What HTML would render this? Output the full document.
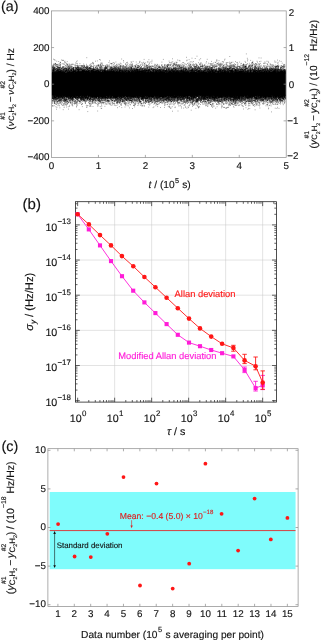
<!DOCTYPE html>
<html lang="en"><head><meta charset="utf-8"><title>Figure</title>
<style>html,body{margin:0;padding:0;background:#fff;overflow:hidden}svg{display:block}text{font-family:"Liberation Sans", sans-serif;text-rendering:geometricPrecision;stroke:#111;stroke-width:0.14px;paint-order:stroke}</style></head>
<body>
<svg width="321" height="640" viewBox="0 0 321 640">
<rect width="321" height="640" fill="#fff"/>
<!-- panel a -->
<text x="1" y="11" font-size="14.3" text-anchor="start" fill="#111">(a)</text>
<g id="scatter-a">
<rect x="51.8" y="72.8" width="234.1" height="22.8" fill="#000"/>
<path transform="scale(0.1)" stroke="#000" stroke-opacity="0.5" stroke-width="8" fill="none" d="M1702 730h8M2371 720h8M2311 731h8M1449 970h8M2737 732h8M2746 622h8M2052 1057h8M1817 996h8M2611 997h8M2152 703h8M561 716h8M1559 957h8M844 1002h8M1958 679h8M577 707h8M1186 989h8M1741 711h8M2664 723h8M1696 999h8M2768 728h8M1064 952h8M1561 694h8M2539 714h8M1475 694h8M1663 956h8M1917 957h8M1694 953h8M2835 729h8M995 702h8M851 1031h8M2135 986h8M2597 1003h8M2431 729h8M1594 960h8M2218 1062h8M2507 994h8M2115 960h8M2503 716h8M2341 985h8M586 988h8M1791 660h8M1842 731h8M546 998h8M1180 677h8M1630 707h8M714 959h8M912 710h8M1479 722h8M2460 733h8M1669 1019h8M589 1009h8M1308 685h8M2736 713h8M1036 724h8M2349 975h8M2755 677h8M2801 965h8M2027 964h8M2757 981h8M1072 963h8M1416 1000h8M1985 714h8M2452 680h8M1833 957h8M1833 625h8M1684 706h8M1274 954h8M1110 1013h8M2257 959h8M1689 958h8M1155 989h8M1224 701h8M1315 669h8M883 955h8M2283 723h8M1042 703h8M729 992h8M1817 713h8M2839 977h8M1351 955h8M2522 696h8M2477 708h8M1131 721h8M2390 692h8M1062 721h8M1780 697h8M901 988h8M1436 732h8M2003 1005h8M1466 1006h8M948 1005h8M2466 954h8M1329 1001h8M2447 731h8M1857 972h8M1813 711h8M1578 956h8M1232 605h8M1600 996h8M2639 727h8M2656 1017h8M2297 965h8M1057 952h8M2827 697h8M2127 971h8M2204 969h8M795 713h8M2814 729h8M2730 975h8M1574 979h8M1619 983h8M2095 732h8M1301 727h8M737 962h8M649 682h8M1962 643h8M1512 689h8M543 985h8M2568 1013h8M1856 1020h8M1794 960h8M2627 981h8M2788 972h8M2098 983h8M2398 731h8M1940 960h8M1413 725h8M2551 956h8M597 675h8M1464 704h8M1845 718h8M1826 982h8M2166 661h8M752 654h8M2212 955h8M2068 971h8M1054 686h8M1446 711h8M1490 964h8M1528 717h8M1031 952h8M2275 703h8M2150 957h8M2204 960h8M1773 978h8M1103 709h8M1595 707h8M1792 718h8M1827 722h8M668 956h8M2183 974h8M1248 974h8M2781 964h8M2333 649h8M1698 989h8M1209 971h8M1722 721h8M1785 963h8M1018 692h8M1190 705h8M1102 713h8M1558 721h8M2820 966h8M743 968h8M938 956h8M1158 731h8M2750 1033h8M2141 731h8M1321 958h8M1899 708h8M1276 979h8M1294 960h8M1281 706h8M1154 964h8M819 996h8M1774 973h8M1811 705h8M2758 977h8M1036 725h8M1333 717h8M2846 730h8M694 723h8M1097 996h8M1132 705h8M2212 956h8M2497 966h8M2640 973h8M1063 733h8M1858 720h8M2321 954h8M684 706h8M2018 971h8M2669 963h8M2815 962h8M2366 728h8M1075 980h8M1097 1032h8M1973 723h8M536 997h8M1152 730h8M2396 964h8M1426 988h8M1989 701h8M1529 964h8M2050 700h8M1205 662h8M1328 703h8M1030 706h8M1479 712h8M1001 645h8M1609 962h8M2486 1053h8M1631 966h8M1128 960h8M1748 967h8M1445 985h8M2569 1005h8M2281 709h8M2565 714h8M1899 958h8M609 686h8M2281 988h8M1031 956h8M1537 722h8M1546 697h8M659 708h8M968 953h8M1653 953h8M2178 719h8M1704 990h8M2223 705h8M1387 974h8M2583 667h8M2742 662h8M1929 975h8M1374 715h8M1805 1013h8M2207 699h8M1867 719h8M2322 703h8M1454 726h8M2788 713h8M2015 959h8M2142 651h8M767 733h8M2655 711h8M630 966h8M722 1018h8M1369 978h8M2206 964h8M1039 729h8M2675 967h8M2142 1009h8M1623 719h8M2161 952h8M832 987h8M1158 690h8M864 715h8M1908 718h8M2135 969h8M2560 972h8M2457 686h8M1339 661h8M1780 710h8M2135 692h8M1159 726h8M2353 713h8M1738 674h8M716 718h8M1811 677h8M1165 955h8M2075 671h8M974 1001h8M1155 969h8M2614 973h8M1621 727h8M2157 707h8M2348 1052h8M1684 729h8M2050 981h8M2636 729h8M2200 653h8M2801 962h8M1317 733h8M2399 989h8M778 697h8M2569 727h8M1875 957h8M1758 648h8M2205 721h8M1758 697h8M787 957h8M1087 958h8M1897 675h8M1561 715h8M907 724h8M2402 717h8M853 723h8M1563 686h8M1702 960h8M1150 713h8M2044 952h8M543 730h8M733 958h8M907 959h8M1461 702h8M2472 688h8M564 1044h8M600 717h8M2819 727h8M789 966h8M997 727h8M588 674h8M765 957h8M1337 987h8M1388 990h8M2847 725h8M1067 722h8M1420 729h8M1685 962h8M2836 977h8M910 971h8M2455 725h8M2343 969h8M1535 1042h8M2259 987h8M749 705h8M967 718h8M846 712h8M2652 975h8M1480 952h8M2552 694h8M1786 976h8M2083 1009h8M1119 961h8M1285 988h8M1620 678h8M2743 979h8M2409 715h8M1185 960h8M1014 971h8M1986 972h8M1569 960h8M2710 702h8M1855 728h8M1351 701h8M2786 969h8M905 953h8M1187 696h8M2280 725h8M2301 1005h8M670 952h8M999 953h8M2768 694h8M1398 973h8M2848 953h8M1125 955h8M1455 659h8M2571 952h8M1658 1019h8M2718 723h8M2018 724h8M2512 709h8M2369 732h8M2433 706h8M1729 718h8M1017 1008h8M2424 648h8M1128 956h8M1787 953h8M1736 1016h8M1316 688h8M1355 961h8M1232 954h8M1792 731h8M659 686h8M832 714h8M1495 969h8M2320 725h8M1274 733h8M1291 649h8M1017 964h8M1759 700h8M1986 981h8M2747 692h8M2653 955h8M1156 956h8M1422 955h8M2795 696h8M1643 730h8M648 710h8M1191 953h8M2736 984h8M2604 703h8M1527 722h8M872 986h8M2308 715h8M577 707h8M2815 960h8M1818 717h8M1111 971h8M1008 955h8M1059 969h8M985 952h8M1491 630h8M622 728h8M1201 732h8M803 997h8M2143 725h8M932 667h8M2606 972h8M2435 661h8M2539 957h8M2360 1003h8M2557 982h8M1214 953h8M1097 675h8M1392 719h8M1301 731h8M2443 693h8M1793 661h8M2319 684h8M1489 639h8M944 729h8M1491 706h8M1009 726h8M2633 1013h8M2417 719h8M2587 973h8M1519 964h8M1191 953h8M2783 717h8M1787 706h8M1741 715h8M685 960h8M1437 728h8M2177 983h8M2065 978h8M2486 971h8M1013 970h8M2517 709h8M2180 960h8M2797 713h8M1671 722h8M2204 728h8M802 1002h8M935 1007h8M1821 730h8M524 963h8M681 974h8M2407 698h8M2343 692h8M2795 969h8M2613 1014h8M2776 1039h8M2782 666h8M1823 957h8M1943 707h8M2581 973h8M583 725h8M1596 730h8M816 704h8M2376 988h8M878 983h8M2307 978h8M2259 1032h8M1621 690h8M1731 996h8M1053 1017h8M1568 958h8M819 961h8M2666 637h8M1688 732h8M559 721h8M2178 719h8M1550 725h8M1454 729h8M1761 965h8M2202 639h8M747 699h8M2758 728h8M2532 955h8M772 714h8M2793 693h8M872 985h8M832 731h8M2005 704h8M689 697h8M609 725h8M1462 957h8M1619 713h8M2050 964h8M1574 978h8M1537 998h8M1579 954h8M1476 1001h8M1526 954h8M2358 707h8M637 957h8M1317 663h8M766 723h8M1007 671h8M2712 1017h8M1390 954h8M1204 957h8M1274 708h8M2492 730h8M2327 721h8M1932 616h8M2267 671h8M1883 1006h8M631 691h8M991 732h8M1742 728h8M1689 708h8M2607 580h8M1006 998h8M985 731h8M779 730h8M1771 951h8M2251 721h8M1556 973h8M2277 687h8M2431 719h8M2296 664h8M2700 699h8M2467 723h8M643 724h8M2257 996h8M578 716h8M1048 716h8M2176 959h8M1733 720h8M1007 703h8M1032 951h8M1866 973h8M2503 604h8M1727 673h8M1253 985h8M558 731h8M705 983h8M1143 1016h8M2753 651h8M1735 956h8M1462 706h8M796 995h8M2623 981h8M899 672h8M1563 992h8M2771 951h8M909 993h8M2126 979h8M912 968h8M1933 965h8M1736 1049h8M1341 1008h8M1160 719h8M2521 958h8M1061 725h8M927 952h8M2328 727h8M1000 707h8M2607 726h8M1340 967h8M1615 968h8M873 728h8M1257 962h8M1137 720h8M1135 998h8M1470 709h8M2445 956h8M846 718h8M1706 954h8M729 691h8M1602 691h8M2061 730h8M2658 960h8M2778 983h8M2136 721h8M2740 717h8M2434 690h8M683 667h8M1333 954h8M1798 724h8M2677 996h8M2245 658h8M575 713h8M646 693h8M2780 980h8M1072 983h8M916 732h8M1314 967h8M2195 958h8M614 963h8M921 726h8M1718 726h8M2257 647h8M2652 710h8M1607 717h8M1555 976h8M1921 701h8M2729 991h8M1936 733h8M1020 673h8M2530 960h8M2716 725h8M1336 955h8M2540 1006h8M2527 726h8M700 977h8M2831 965h8M1156 732h8M2153 965h8M2254 994h8M2372 959h8M1780 1027h8M1693 732h8M2411 999h8M2038 978h8M1559 975h8M1286 960h8M2603 733h8M2183 962h8M1693 995h8M810 965h8M651 717h8M841 658h8M1768 708h8M1449 722h8M550 988h8M815 959h8M2263 651h8M1394 722h8M1490 693h8M1003 1001h8M1381 722h8M739 958h8M1693 953h8M1429 726h8M2258 733h8M2210 974h8M1347 957h8M1446 990h8M2407 987h8M2719 727h8M999 677h8M1560 718h8M945 721h8M1773 982h8M1649 714h8M2463 1017h8M1958 726h8M1194 975h8M1359 730h8M1368 967h8M2427 981h8M2403 958h8M2422 976h8M2244 693h8M847 957h8M1965 712h8M1107 723h8M2230 704h8M1476 709h8M2545 660h8M1352 951h8M859 973h8M2153 703h8M2156 990h8M1706 1012h8M1806 725h8M2616 955h8M2220 967h8M2614 712h8M578 1012h8M2420 961h8M1445 975h8M780 723h8M1201 1010h8M672 645h8M1956 703h8M2390 952h8M1226 731h8M2317 1039h8M695 711h8M2249 985h8M1639 1037h8M2537 994h8M668 694h8M2584 972h8M2304 678h8M2339 1048h8M1453 718h8M1064 704h8M2274 687h8M2431 962h8M1686 956h8M1310 1005h8M788 951h8M523 1010h8M2151 717h8M2414 960h8M1853 958h8M1770 652h8M757 959h8M1851 706h8M2551 992h8M1910 970h8M2144 703h8M2615 729h8M2558 718h8M1943 966h8M901 954h8M2623 964h8M1635 713h8M2752 965h8M1553 709h8M985 952h8M1881 952h8M1799 706h8M2376 959h8M1327 964h8M887 729h8M1182 957h8M2325 964h8M716 980h8M2670 981h8M2692 727h8M642 723h8M1033 658h8M1430 726h8M580 975h8M2343 973h8M663 959h8M1383 723h8M2597 978h8M778 982h8M2203 964h8M1893 715h8M792 975h8M2497 721h8M528 707h8M2467 966h8M1182 981h8M555 953h8M2102 952h8M1728 971h8M2548 655h8M524 731h8M2138 725h8M2446 715h8M803 720h8M2253 723h8M1376 677h8M1617 963h8M1214 693h8M1358 1009h8M1645 959h8M1856 707h8M2599 705h8M2052 679h8M935 692h8M665 992h8M2489 974h8M1477 733h8M2356 990h8M2159 732h8M2385 952h8M1483 956h8M1149 960h8M2306 959h8M2413 986h8M1896 979h8M853 971h8M1853 680h8M2221 671h8M2846 728h8M629 667h8M2172 971h8M1724 1009h8M2155 951h8M2408 959h8M2521 715h8M2445 647h8M2641 961h8M644 1020h8M1759 731h8M1864 962h8M2233 728h8M1179 1026h8M1799 956h8M2218 712h8M2443 956h8M1562 955h8M2301 989h8M2624 729h8M1627 959h8M2286 727h8M820 707h8M801 676h8M678 1067h8M1704 961h8M1660 705h8M2490 1037h8M2470 964h8M1869 963h8M794 730h8M1845 1019h8M871 961h8M1138 975h8M1315 728h8M544 682h8M2704 732h8M958 729h8M1181 702h8M1464 978h8M1349 688h8M1040 955h8M873 688h8M1806 715h8M717 952h8M1657 733h8M2429 959h8M1505 711h8M2580 975h8M2278 1037h8M1249 989h8M1244 951h8M1647 965h8M2800 973h8M943 959h8M2263 971h8M2628 732h8M2300 997h8M2291 958h8M628 1097h8M1244 951h8M1430 685h8M1758 727h8M1379 731h8M1746 708h8M1155 717h8M1553 709h8M570 963h8M1746 979h8M1205 712h8M2744 998h8M878 665h8M1971 952h8M590 696h8M1122 722h8M600 956h8M1998 721h8M2378 727h8M1029 975h8M1871 730h8M974 954h8M2470 969h8M1279 723h8M2788 981h8M535 731h8M2644 954h8M632 712h8M1176 700h8M962 974h8M2417 1002h8M2588 981h8M2238 729h8M2698 730h8M2841 715h8M1199 684h8M2503 680h8M2781 721h8M761 686h8M1975 989h8M917 1022h8M1903 711h8M1480 1021h8M897 677h8M2521 987h8M1456 1020h8M2413 988h8M1743 704h8M1098 728h8M1338 655h8M2087 984h8M1875 960h8M2434 708h8M737 701h8M581 967h8M2662 980h8M1775 709h8M2366 994h8M2576 984h8M1215 717h8M688 730h8M2288 722h8M2461 969h8M949 714h8M927 959h8M2763 988h8M1627 1002h8M2714 683h8M2132 729h8M1290 978h8M2612 731h8M1820 995h8M1351 963h8M1702 645h8M1925 955h8M2624 702h8M2135 696h8M2543 717h8M979 967h8M737 720h8M1354 963h8M1559 680h8M2840 969h8M964 955h8M1947 962h8M1802 969h8M1192 955h8M1235 973h8M2500 686h8M2150 708h8M2549 984h8M1881 953h8M2672 698h8M815 686h8M1455 954h8M1297 718h8M1933 1018h8M1399 722h8M2195 964h8M1900 962h8M1147 726h8M919 1032h8M1905 1026h8M2293 660h8M901 700h8M2483 703h8M2357 729h8M1965 990h8M2015 954h8M1787 997h8M2402 724h8M2771 713h8M905 731h8M901 705h8M1550 716h8M1712 723h8M1229 713h8M2141 717h8M2827 661h8M1843 717h8M896 714h8M1864 951h8M2652 974h8M2336 707h8M1807 692h8M1356 1003h8M1875 1022h8M1417 726h8M2804 667h8M755 959h8M1654 958h8M2403 731h8M907 953h8M901 981h8M1687 975h8M1503 1000h8M775 957h8M2538 961h8M1141 635h8M2470 980h8M1764 706h8M1882 1076h8M557 994h8M543 956h8M1475 716h8M1609 716h8M793 729h8M2258 1081h8M1513 1003h8M2138 997h8M2043 708h8M2632 999h8M1750 978h8M2619 986h8M1390 698h8M2529 728h8M1596 954h8M2131 658h8M2396 702h8M2106 721h8M2386 962h8M965 719h8M1875 977h8M2264 732h8M2709 709h8M2504 686h8M1553 975h8M2743 731h8M2610 693h8M2274 967h8M1273 694h8M2851 732h8M743 961h8M756 732h8M2075 1003h8M2589 1006h8M2843 972h8M1700 652h8M1101 731h8M1395 954h8M1368 714h8M1866 957h8M2407 730h8M2213 639h8M1532 728h8M560 956h8M1389 998h8M979 990h8M1597 732h8M2055 986h8M2129 719h8M1741 701h8M1077 725h8M1853 666h8M2582 961h8M1277 984h8M2154 1004h8M900 641h8M1046 713h8M710 733h8M1156 1005h8M768 974h8M1052 961h8M2144 959h8M685 692h8M2804 995h8M773 956h8M919 956h8M2562 731h8M1614 957h8M2180 990h8M2611 712h8M844 690h8M1015 725h8M1539 954h8M1047 966h8M1474 701h8M1988 718h8M1010 1038h8M1379 731h8M1903 970h8M799 695h8M2270 702h8M1360 1003h8M2792 952h8M2330 956h8M1091 715h8M1836 724h8M1474 724h8M2507 717h8M2484 957h8M2533 712h8M693 730h8M1099 964h8M2416 978h8M2673 730h8M666 710h8M2671 707h8M1338 712h8M2308 728h8M2571 708h8M2543 1063h8M1068 951h8M1375 965h8M2199 968h8M1851 727h8M2697 712h8M1960 720h8M1127 961h8M1364 719h8M696 691h8M884 1004h8M1202 702h8M1956 1010h8M1266 961h8M1479 701h8M578 1018h8M2544 979h8M521 964h8M565 706h8M1999 716h8M921 1009h8M2513 1033h8M2794 723h8M704 727h8M1761 958h8M1165 967h8M679 731h8M1567 1011h8M1934 955h8M1571 686h8M680 963h8M2125 725h8M2562 991h8M2470 952h8M2595 986h8M1979 712h8M1007 977h8M1067 732h8M1198 631h8M2737 732h8M1189 954h8M1563 732h8M1213 954h8M1322 964h8M1664 718h8M2329 983h8M2365 1031h8M2080 718h8M1775 713h8M1434 1004h8M1832 683h8M1727 958h8M2748 733h8M618 975h8M614 705h8M1837 952h8M975 727h8M1491 692h8M1492 957h8M1271 703h8M942 963h8M2565 953h8M1264 1040h8M2534 698h8M710 1029h8M1071 959h8M715 716h8M2696 730h8M978 722h8M2369 699h8M2070 726h8M919 975h8M825 722h8M2551 723h8M2271 691h8M2276 985h8M1436 725h8M2097 714h8M1851 968h8M929 703h8M2247 725h8M830 712h8M2789 972h8M1867 975h8M871 694h8M1571 998h8M635 995h8M699 977h8M1496 712h8M2343 994h8M1644 645h8M2375 698h8M2440 725h8M819 987h8M1540 643h8M2575 1002h8M2110 733h8M1054 975h8M2297 981h8M992 1031h8M1183 715h8M2169 956h8M1645 993h8M2787 961h8M524 952h8M2524 729h8M843 1010h8M2841 968h8M2714 973h8M1331 729h8M1155 709h8M1269 969h8M2264 953h8M1310 1009h8M1364 714h8M2028 720h8M2231 964h8M1400 709h8M2236 993h8M726 732h8M2155 963h8M1285 714h8M1827 728h8M2185 700h8M2554 1026h8M1844 638h8M979 729h8M814 691h8M605 953h8M2192 1016h8M1006 987h8M2029 956h8M633 670h8M2045 974h8M543 999h8M1801 977h8M2021 730h8M2077 730h8M1667 1045h8M647 985h8M2579 974h8M2661 962h8M894 994h8M2356 730h8M578 722h8M1902 960h8M2150 1000h8M1280 717h8M773 690h8M1028 979h8M1879 715h8M2535 960h8M601 971h8M1134 991h8M2123 709h8M2423 1000h8M1541 966h8M2031 966h8M626 961h8M1993 990h8M2815 727h8M1521 1014h8M2099 962h8M1415 965h8M702 958h8M2430 642h8M2134 956h8M1263 680h8M747 682h8M1071 730h8M2725 730h8M1713 727h8M1988 1036h8M1358 1019h8M1806 718h8M1746 965h8M2185 725h8M1589 729h8M2567 729h8M1970 726h8M1355 705h8M2573 715h8M1549 966h8M2264 704h8M928 1000h8M1276 969h8M952 718h8M1637 720h8M1013 1085h8M1016 965h8M1411 718h8M689 982h8M2799 713h8M2587 958h8M2445 656h8M877 976h8M1845 1053h8M1074 732h8M1796 732h8M2089 660h8M521 726h8M965 724h8M1259 702h8M1672 989h8M2042 963h8M838 725h8M1837 719h8M915 690h8M2459 711h8M1902 962h8M2812 711h8M1993 643h8M698 728h8M1144 733h8M2255 984h8M2021 1027h8M1136 726h8M2672 955h8M1265 965h8M584 1002h8M2802 973h8M985 724h8M791 1021h8M1644 685h8M2169 984h8M1216 954h8M673 973h8M912 953h8M1809 1067h8M2759 966h8M2567 992h8M2086 975h8M1422 655h8M2590 987h8M2072 973h8M2361 1026h8M1450 702h8M2159 974h8M2710 989h8M1327 685h8M1330 708h8M658 688h8M662 982h8M720 730h8M683 958h8M2130 717h8M2512 632h8M1431 1031h8M1453 979h8M1679 988h8M795 654h8M2105 675h8M1138 955h8M2297 1000h8M1314 983h8M2331 1064h8M1000 600h8M2634 958h8M681 725h8M2824 959h8M1578 722h8M1132 731h8M1806 970h8M1161 975h8M2786 730h8M922 1006h8M1064 960h8M1381 953h8M1770 701h8M2325 622h8M1742 683h8M1153 953h8M629 727h8M919 976h8M2687 695h8M2124 663h8M961 662h8M2080 985h8M1779 727h8M2608 961h8M1771 1037h8M1682 651h8M2556 975h8M1392 732h8M2721 1025h8M987 692h8M2059 721h8M1718 659h8M1189 716h8M1192 719h8M731 707h8M1347 717h8M2079 993h8M1788 655h8M2125 705h8M2350 993h8M896 646h8M723 973h8M2163 1043h8M1326 967h8M2348 1040h8M2579 953h8M1156 964h8M2462 978h8M1047 972h8M538 961h8M1998 998h8M652 718h8M2352 970h8M889 715h8M2101 718h8M1069 701h8M1733 685h8M2563 700h8M1266 1002h8M583 615h8M1305 953h8M2826 957h8M2026 682h8M2356 998h8M1752 700h8M971 978h8M572 959h8M811 708h8M753 723h8M1225 969h8M1949 663h8M1899 719h8M1177 954h8M2506 698h8M2445 697h8M1114 723h8M2763 1009h8M529 1004h8M1205 664h8M1352 977h8M2353 727h8M2558 709h8M562 960h8M1792 712h8M1693 957h8M1205 1043h8M2349 702h8M2237 954h8M1597 675h8M918 953h8M1316 708h8M758 727h8M2538 714h8M2466 712h8M1387 961h8M691 676h8M1092 701h8M2754 960h8M528 687h8M1117 707h8M1209 984h8M2406 731h8M1919 694h8M932 961h8M1878 709h8M2732 729h8M728 733h8M2002 703h8M988 989h8M2022 952h8M1690 978h8M2072 705h8M1861 715h8M1919 708h8M2539 732h8M726 1006h8M2032 1041h8M1273 975h8M1909 729h8M1721 952h8M1156 966h8M1939 692h8M2027 708h8M761 728h8M2533 731h8M2532 703h8M1165 724h8M1558 988h8M2688 711h8M1247 961h8M759 1038h8M2162 717h8M1090 952h8M938 729h8M1490 688h8M2742 721h8M1588 1012h8M1393 727h8M1909 699h8M1112 685h8M1730 662h8M1415 994h8M917 710h8M1701 714h8M2618 952h8M1165 952h8M1487 977h8M983 710h8M2645 1017h8M2129 726h8M1476 704h8M1522 704h8M2662 680h8M1832 693h8M691 972h8M2700 725h8M2549 1002h8M2414 680h8M577 719h8M2277 728h8M1743 971h8M667 983h8M1944 692h8M1080 1004h8M591 732h8M2748 1082h8M952 972h8M1030 962h8M2614 987h8M1183 691h8M543 681h8M1935 981h8M1352 719h8M2423 980h8M1049 721h8M2285 959h8M2451 972h8M1025 722h8M1742 694h8M1053 964h8M603 682h8M1297 730h8M1442 697h8M959 702h8M1748 1016h8M895 967h8M1191 714h8M2293 682h8M2176 977h8M843 706h8M1708 959h8M730 697h8M1335 964h8M1793 966h8M933 973h8M791 723h8M2803 965h8M1289 714h8M1182 962h8M1242 952h8M632 720h8M1306 965h8M1932 983h8M548 975h8M1785 1025h8M2393 710h8M737 695h8M2325 713h8M2644 971h8M2123 972h8M1688 658h8M1565 984h8M2283 695h8M2828 726h8M2791 703h8M784 955h8M1928 638h8M921 700h8M890 992h8M1814 964h8M2237 716h8M813 680h8M754 704h8M2666 658h8M2727 1013h8M1427 962h8M2820 726h8M755 952h8M2707 1023h8M2746 720h8M1477 1003h8M1372 676h8M2540 718h8M1393 732h8M2009 726h8M1940 990h8M2276 659h8M2632 959h8M2560 984h8M923 969h8M2775 727h8M1454 958h8M1937 975h8M2420 961h8M1856 952h8M1791 686h8M968 965h8M1160 729h8M2821 702h8M2645 619h8M2100 979h8M1925 976h8M723 989h8M1073 990h8M2324 951h8M2414 706h8M2053 963h8M2668 990h8M1408 712h8M1552 644h8M2740 693h8M2607 724h8M1112 716h8M2562 982h8M1900 648h8M939 721h8M1338 970h8M2516 960h8M1212 973h8M2040 1012h8M1110 960h8M2735 974h8M2225 706h8M2547 1098h8M2502 964h8M2808 726h8M2291 991h8M1662 988h8M1741 994h8M1647 721h8M2703 958h8M2735 706h8M2843 962h8M1606 707h8M919 966h8M2622 1001h8M822 690h8M1406 671h8M1002 729h8M1086 729h8M2749 985h8M2624 959h8M790 693h8M1875 1008h8M707 661h8M1191 713h8M2225 696h8M1601 700h8M575 1035h8M1907 988h8M1130 974h8M1714 974h8M868 1007h8M556 958h8M1818 1015h8M1072 951h8M666 969h8M1490 972h8M2808 708h8M2790 1003h8M2730 712h8M2785 977h8M1504 954h8M2455 695h8M1291 710h8M1685 991h8M1569 1013h8M1409 704h8M746 972h8M2261 641h8M1544 699h8M1073 977h8M821 997h8M1697 693h8M2390 991h8M1729 975h8M2619 689h8M1600 957h8M1654 989h8M1854 642h8M1870 717h8M1421 981h8M660 994h8M2637 996h8M1129 681h8M2759 965h8M1680 694h8M1007 701h8M856 979h8M2736 716h8M944 961h8M1669 974h8M1107 701h8M736 686h8M1174 993h8M2220 962h8M2643 660h8M2017 664h8M2386 971h8M1941 954h8M706 725h8M1757 716h8M1336 726h8M1047 972h8M2659 991h8M903 717h8M553 725h8M2302 683h8M706 699h8M1509 673h8M2009 977h8M2405 693h8M2426 699h8M753 707h8M1003 706h8M2216 728h8M1618 661h8M2458 679h8M958 958h8M1167 961h8M1999 720h8M2103 712h8M1863 980h8M876 963h8M1253 981h8M1975 727h8M2835 733h8M1481 701h8M2150 664h8M1930 997h8M932 972h8M1254 959h8M911 719h8M2825 682h8M1102 977h8M722 985h8M1372 695h8M557 981h8M2715 658h8M734 726h8M944 725h8M2365 707h8M2325 690h8M1499 706h8M2292 685h8M1779 1028h8M2374 717h8M1334 974h8M2056 1014h8M1071 961h8M1720 715h8M2188 953h8M1951 723h8M1137 961h8M2767 960h8M1982 1079h8M2292 987h8M589 967h8M644 994h8M1899 997h8M1004 955h8M814 700h8M1091 704h8M2008 724h8M2585 717h8M1445 723h8M2677 727h8M1417 708h8M1595 703h8M1466 731h8M2847 714h8M1419 982h8M1654 976h8M1483 966h8M1438 1064h8M673 689h8M1267 961h8M1917 986h8M1681 1030h8M1729 711h8M903 1031h8M2403 703h8M2801 982h8M1140 962h8M1651 994h8M2454 1028h8M2826 993h8M936 724h8M1003 694h8M596 697h8M2273 688h8M2559 733h8M1279 704h8M2250 968h8M1562 1037h8M2172 958h8M1157 675h8M2180 970h8M732 716h8M1061 952h8M642 952h8M2482 964h8M1142 732h8M2519 968h8M1981 662h8M2628 971h8M1674 954h8M635 1038h8M534 707h8M2234 1032h8M1778 702h8M2016 960h8M2835 995h8M1323 710h8M1001 724h8M2635 728h8M742 964h8M1589 714h8M2585 981h8M2005 991h8M547 694h8M2239 708h8M2774 717h8M1758 677h8M2424 1056h8M2704 729h8M2545 970h8M2410 960h8M803 974h8M1362 703h8M1280 995h8M923 624h8M1990 724h8M2739 1001h8M677 711h8M2278 730h8M2065 952h8M1479 705h8M647 980h8M695 973h8M1575 976h8M839 722h8M1811 976h8M2165 957h8M2193 731h8M2573 970h8M882 729h8M1407 709h8M1764 972h8M2595 972h8M1400 1032h8M1693 958h8M974 1027h8M1775 689h8M2286 962h8M2301 729h8M1016 1028h8M1191 715h8M2598 692h8M709 984h8M1824 695h8M1513 732h8M770 733h8M1638 704h8M1460 684h8M2547 664h8M2306 958h8M1223 730h8M2599 706h8M2533 955h8M2551 1017h8M1105 724h8M525 994h8M1008 988h8M617 956h8M2470 959h8M1360 694h8M2759 991h8M776 724h8M2205 691h8M1997 718h8M951 1006h8M1047 961h8M1477 982h8M1090 723h8M723 721h8M1752 971h8M2691 1009h8M1962 1016h8M2410 996h8M1610 986h8M2720 1014h8M2748 686h8M2149 667h8M1355 720h8M2705 981h8M999 1021h8M2100 989h8M886 956h8M1646 962h8M594 957h8M2406 972h8M640 968h8M2050 984h8M2331 1020h8M1615 621h8M1083 716h8M1385 957h8M1515 700h8M608 684h8M2118 976h8M701 958h8M1755 971h8M1070 961h8M2828 726h8M1789 704h8M2505 962h8M1991 713h8M1216 695h8M1774 990h8M2084 1003h8M2494 677h8M1066 715h8M955 969h8M2596 975h8M1019 980h8M2790 704h8M2334 953h8M2469 956h8M698 960h8M2611 982h8M1678 690h8M1427 1052h8M2654 686h8M1530 1018h8M557 980h8M2216 719h8M2158 724h8M2691 964h8M1078 719h8M2402 1002h8M2759 696h8M1604 729h8M2241 600h8M1469 958h8M981 717h8M1538 1000h8M1304 1000h8M2633 701h8M2736 731h8M1477 727h8M2229 998h8M873 675h8M2653 1021h8M1223 703h8M1496 967h8M1913 966h8M2131 706h8M1162 975h8M2254 667h8M883 711h8M2655 710h8M676 693h8M2154 964h8M1500 978h8M1455 1015h8M694 981h8M2372 979h8M1338 994h8M2503 681h8M776 955h8M2674 971h8M2074 955h8M1052 703h8M2213 703h8M1733 713h8M1677 1014h8M1252 974h8M2019 732h8M2750 729h8M1901 730h8M1693 717h8M1563 730h8M1431 967h8M1541 984h8M2527 1004h8M2394 969h8M625 957h8M2265 953h8M1299 640h8M2749 718h8M860 957h8M1310 719h8M1890 979h8M1189 1066h8M1703 1043h8M1021 962h8M984 978h8M2657 957h8M1119 725h8M1823 728h8M2195 1038h8M2335 719h8M1130 976h8M1616 955h8M2590 1034h8M2094 731h8M952 973h8M920 727h8M846 717h8M1678 725h8M803 977h8M2395 729h8M2551 980h8M661 706h8M1032 986h8M1603 1025h8M2397 713h8M1255 707h8M2087 727h8M2785 953h8M1745 697h8M1054 974h8M2728 675h8M835 715h8M1133 728h8M1526 718h8M1917 964h8M755 713h8M714 962h8M1096 726h8M2389 726h8M2604 969h8M1806 674h8M1106 989h8M2243 669h8M1276 982h8M1768 998h8M1943 965h8M1454 1006h8M706 732h8M1770 703h8M711 690h8M651 960h8M1357 725h8M1958 723h8M2739 970h8M2287 701h8M2363 956h8M2432 724h8M1833 1004h8M2017 955h8M2319 681h8M1129 700h8M2488 679h8M2261 732h8M1665 724h8M1353 973h8M2259 955h8M2388 722h8M1905 701h8M1382 992h8M1221 977h8M1978 953h8M527 985h8M2116 961h8M1883 718h8M1183 714h8M2777 697h8M2675 719h8M695 972h8M2775 975h8M2365 965h8M2075 956h8M1403 714h8M2741 730h8M2841 961h8M2127 671h8M1404 966h8M1952 976h8M809 952h8M561 700h8M2551 722h8M1071 728h8M1163 1005h8M1711 954h8M2640 726h8M2640 704h8M1103 956h8M1960 996h8M575 959h8M1308 719h8M2011 970h8M2145 713h8M2060 973h8M2642 713h8M959 685h8M1267 953h8M2125 655h8M1664 696h8M1773 720h8M1938 690h8M1602 732h8M1619 722h8M2291 961h8M843 990h8M1171 675h8M2150 955h8M1465 725h8M1858 1005h8M1534 951h8M2510 979h8M859 977h8M947 731h8M872 954h8M1164 681h8M2467 1011h8M2508 952h8M2600 967h8M1165 985h8M2690 1055h8M2514 726h8M973 990h8M1769 998h8M1255 692h8M1589 968h8M1164 952h8M2348 991h8M1197 717h8M2641 716h8M601 726h8M1635 969h8M1482 1016h8M1473 730h8M1517 666h8M1315 731h8M1520 700h8M1785 966h8M2240 994h8M723 972h8M1350 663h8M2166 988h8M1765 973h8M693 728h8M833 959h8M1798 986h8M2710 712h8M1190 979h8M927 730h8M663 1047h8M2597 706h8M1788 670h8M1566 665h8M2461 965h8M976 956h8M2374 727h8M1412 951h8M544 713h8M581 723h8M2734 701h8M1880 952h8M860 663h8M789 714h8M1075 979h8M1038 714h8M2429 968h8M2179 710h8M996 698h8M676 957h8M1533 694h8M2555 639h8M797 1015h8M1677 961h8M1596 729h8M1291 970h8M1293 1003h8M838 673h8M1483 724h8M2697 1049h8M2704 721h8M702 682h8M990 727h8M2700 697h8M2628 728h8M1809 662h8M2246 719h8M1079 723h8M2737 1004h8M2463 979h8M1383 976h8M2645 966h8M638 733h8M758 720h8M2691 977h8M1838 966h8M1720 731h8M1471 731h8M2502 704h8M2556 956h8M1839 951h8M1874 711h8M2724 971h8M1335 964h8M1033 698h8M1978 730h8M2350 729h8M1451 727h8M1198 671h8M2599 957h8M2690 726h8M2711 687h8M839 998h8M1927 724h8M633 958h8M1096 973h8M1465 989h8M1965 652h8M1411 665h8M645 960h8M2179 727h8M2417 690h8M1795 688h8M1621 958h8M1469 727h8M1669 982h8M2766 692h8M1181 988h8M1436 969h8M1031 966h8M2277 716h8M2259 969h8M978 965h8M2264 959h8M2779 729h8M2441 727h8M1114 696h8M2733 982h8M2473 728h8M521 720h8M1828 732h8M2519 964h8M2608 721h8M2695 970h8M1668 954h8M1845 1045h8M1638 970h8M2786 965h8M2765 1085h8M2404 726h8M774 673h8M2327 961h8M1394 1015h8M2050 991h8M1956 724h8M1426 970h8M649 966h8M2041 978h8M983 726h8M2573 980h8M2590 956h8M682 720h8M800 962h8M1845 974h8M1757 729h8M1095 971h8M650 1039h8M2009 995h8M575 731h8M1681 717h8M1815 730h8M2143 723h8M1648 707h8M696 727h8M1367 651h8M1947 960h8M1876 1020h8M2295 728h8M2669 705h8M2284 966h8M1534 717h8M2231 951h8M1552 957h8M2026 731h8M1120 725h8M2371 719h8M2639 690h8M1066 956h8M525 1000h8M1434 964h8M1096 714h8M1739 997h8M715 675h8M539 977h8M768 720h8M1392 1009h8M642 960h8M919 732h8M955 703h8M2489 633h8M2242 718h8M761 618h8M1403 679h8M1752 681h8M2359 729h8M2346 1006h8M2382 696h8M1024 968h8M1299 1006h8M1837 706h8M1173 963h8M1523 957h8M1148 964h8M2073 957h8M2354 956h8M2823 719h8M1494 987h8M1534 714h8M2375 998h8M1338 730h8M2486 713h8M2136 663h8M1168 697h8M981 955h8M2641 718h8M1041 725h8M2565 1042h8M715 1050h8M1559 953h8M1059 968h8M1597 955h8M1176 731h8M2494 956h8M1497 729h8M1493 723h8M1286 1000h8M1444 720h8M2165 716h8M1865 1082h8M655 1003h8M1844 960h8M1391 956h8M1196 1020h8M1011 677h8M1238 1005h8M2737 956h8M1647 707h8M589 719h8M2318 965h8M2485 958h8M1812 732h8M1049 958h8M2676 699h8M590 715h8M1650 961h8M1520 959h8M1113 713h8M1478 660h8M1802 1004h8M1445 703h8M2115 720h8M686 681h8M755 681h8M1180 729h8M990 975h8M2849 951h8M1681 958h8M2249 957h8M1272 715h8M2392 969h8M2495 1011h8M1421 728h8M1772 686h8M2168 979h8M1465 960h8M936 988h8M703 976h8M1450 959h8M2061 958h8M877 733h8M521 967h8M578 712h8M2602 729h8M683 981h8M2663 727h8M1579 1037h8M2114 1053h8M1757 732h8M2556 662h8M547 975h8M1940 973h8M1482 967h8M1218 977h8M761 987h8M2478 731h8M2723 696h8M2398 953h8M2704 964h8M1514 954h8M1495 993h8M575 732h8M1788 988h8M2322 705h8M1174 1018h8M746 723h8M2294 955h8M938 717h8M2367 974h8M1081 706h8M1974 702h8M2256 1084h8M2292 662h8M2743 976h8M976 967h8M564 691h8M1598 701h8M2815 959h8M2431 727h8M1260 722h8M1324 725h8M2542 705h8M1850 723h8M547 975h8M577 733h8M1397 987h8M904 952h8M965 700h8M1772 982h8M2501 668h8M1722 719h8M2597 714h8M2148 990h8M1623 725h8M1021 718h8M1728 704h8M2712 691h8M914 981h8M1231 731h8M828 699h8M1728 719h8M668 616h8M973 673h8M638 692h8M1241 953h8M1672 669h8M1386 969h8M1686 990h8M2067 958h8M1510 957h8M1268 687h8M2108 1008h8M2766 713h8M546 959h8M804 710h8M2004 721h8M1276 680h8M2723 986h8M781 709h8M2036 989h8M682 1091h8M900 1003h8M2220 684h8M1066 1006h8M2631 729h8M2427 720h8M2461 689h8M660 953h8M1661 716h8M2832 981h8M953 954h8M2432 954h8M1260 721h8M1330 671h8M654 704h8M1211 957h8M1372 959h8M1636 710h8M2316 701h8M785 964h8M1036 958h8M2166 985h8M2343 698h8M970 701h8M1198 956h8M2369 956h8M1698 986h8M1375 968h8M1580 956h8M862 685h8M752 729h8M2444 973h8M1664 684h8M2194 965h8M1236 952h8M1227 998h8M2159 727h8M1840 972h8M2114 979h8M1143 973h8M2265 712h8M835 1005h8M2485 991h8M1647 971h8M1860 691h8M2424 958h8M2697 657h8M1148 697h8M1234 692h8M923 963h8M2324 1046h8M1484 983h8M1922 654h8M1445 713h8M674 1035h8M2422 697h8M1405 1015h8M1826 954h8M1234 697h8M2669 694h8M1225 951h8M1302 971h8M2848 719h8M1849 1071h8M1565 1019h8M1599 974h8M2574 727h8M962 979h8M2839 967h8M710 958h8M1802 958h8M717 963h8M1354 960h8M873 718h8M2831 952h8M1098 979h8M777 698h8M1155 956h8M2209 1011h8M2704 727h8M1536 716h8M990 977h8M2395 969h8M2531 717h8M2649 972h8M2246 978h8M2342 972h8M1805 1008h8M1606 1003h8M1966 726h8M1011 724h8M2050 689h8M1307 721h8M1561 705h8M2613 719h8M767 958h8M917 715h8M946 692h8M2345 708h8M2625 722h8M866 957h8M2820 976h8M730 728h8M1503 951h8M1167 1030h8M1932 966h8M2527 959h8M1144 704h8M1403 720h8M937 960h8M809 727h8M1261 957h8M2673 957h8M2397 977h8M2144 706h8M1134 999h8M1291 1079h8M2045 648h8M1053 725h8M1811 691h8M790 722h8M2820 966h8M1766 623h8M2046 709h8M1482 693h8M605 1000h8M1309 729h8M2635 633h8M1065 732h8M1897 983h8M2558 726h8M2381 968h8M793 1012h8M1535 994h8M1829 1030h8M754 711h8M1147 953h8M2545 1014h8M955 989h8M1099 710h8M2180 725h8M2127 958h8M973 727h8M1268 956h8M670 716h8M1762 689h8M2164 969h8M2812 731h8M1929 959h8M2310 681h8M1799 961h8M822 712h8M838 710h8M1831 717h8M2536 977h8M590 972h8M911 722h8M744 959h8M2521 657h8M1862 955h8M1747 964h8M1497 952h8M773 714h8M2239 1040h8M1562 969h8M1143 729h8M1233 620h8M1524 664h8M2759 977h8M1314 1034h8M1690 1072h8M1241 984h8M566 1019h8M648 689h8M1016 688h8M2439 965h8M1640 999h8M2029 1016h8M2013 732h8M2803 723h8M935 955h8M1533 955h8M1933 721h8M2116 995h8M1777 994h8"/>
<path transform="scale(0.1)" stroke="#000" stroke-opacity="0.5" stroke-width="8" fill="none" d="M731 954h8M1494 728h8M2551 713h8M676 730h8M582 980h8M978 961h8M2552 710h8M2348 981h8M896 1008h8M1511 988h8M1804 686h8M1795 1058h8M2601 980h8M1111 727h8M1223 709h8M1620 728h8M1166 730h8M1106 956h8M2431 717h8M2436 671h8M1420 643h8M2091 985h8M2724 998h8M1490 966h8M1645 1056h8M1499 720h8M2420 998h8M1359 705h8M2703 727h8M1240 725h8M2477 977h8M2721 663h8M1664 951h8M2026 683h8M2229 676h8M1249 711h8M2815 728h8M1513 723h8M2475 1008h8M2194 732h8M962 951h8M552 975h8M705 1008h8M1887 975h8M940 725h8M1835 963h8M548 690h8M1299 677h8M2646 971h8M2553 708h8M560 960h8M2807 970h8M800 984h8M547 985h8M2550 957h8M544 1031h8M2605 955h8M1478 704h8M1227 1009h8M883 717h8M1428 718h8M612 731h8M1575 982h8M2293 979h8M962 712h8M706 701h8M2096 730h8M1660 721h8M2444 688h8M944 952h8M1846 963h8M1238 965h8M2561 980h8M2417 955h8M659 958h8M1059 970h8M1066 952h8M2042 991h8M1746 972h8M724 974h8M1960 675h8M1545 1016h8M1815 670h8M1530 731h8M2481 968h8M2602 722h8M867 975h8M716 662h8M2353 1011h8M1311 1007h8M2604 702h8M2268 689h8M1247 726h8M1138 652h8M2474 1008h8M777 1007h8M1316 711h8M2615 718h8M685 981h8M2820 724h8M2434 983h8M2312 627h8M2316 966h8M1098 687h8M2693 955h8M1373 723h8M2703 710h8M2042 733h8M2850 726h8M2716 722h8M1628 951h8M1999 993h8M1636 713h8M968 727h8M1717 953h8M1169 987h8M2785 723h8M2739 1017h8M2098 687h8M1728 673h8M2373 980h8M2266 995h8M981 710h8M1458 704h8M1134 953h8M2802 717h8M2352 679h8M2222 720h8M2602 677h8M1669 708h8M992 952h8M654 732h8M804 953h8M2081 959h8M2553 726h8M2315 964h8M2238 676h8M1429 732h8M2819 955h8M1710 725h8M1678 691h8M1946 956h8M2256 720h8M1163 729h8M608 960h8M2358 715h8M2536 702h8M2207 732h8M2654 972h8M1167 689h8M1628 955h8M882 726h8M2177 952h8M1260 996h8M991 595h8M2649 979h8M927 1001h8M1233 683h8M2008 662h8M2768 974h8M2803 713h8M2421 959h8M1791 952h8M922 704h8M1230 974h8M926 707h8M1932 1000h8M1714 726h8M795 636h8M2557 732h8M2198 959h8M1627 969h8M1327 963h8M1947 731h8M772 991h8M858 965h8M843 955h8M1306 957h8M1751 954h8M1231 967h8M1160 978h8M1256 719h8M2708 969h8M1267 961h8M801 686h8M1841 713h8M2350 701h8M2431 723h8M753 714h8M1506 968h8M1685 716h8M1151 961h8M1079 958h8M2269 955h8M1916 582h8M1532 967h8M2516 732h8M2297 656h8M1862 728h8M1232 682h8M1477 722h8M539 968h8M1166 642h8M2081 963h8M2725 967h8M1006 1005h8M2480 1039h8M2604 968h8M1343 706h8M2504 726h8M2303 996h8M1837 663h8M1709 954h8M2125 993h8M817 965h8M2595 703h8M2037 1012h8M1017 975h8M2400 727h8M1082 958h8M619 961h8M2842 956h8M2052 713h8M729 982h8M693 727h8M2186 732h8M1141 727h8M2475 974h8M2329 992h8M2713 985h8M1852 970h8M646 992h8M1961 954h8M1748 733h8M2846 976h8M1824 681h8M2634 977h8M893 693h8M956 975h8M1770 716h8M2233 725h8M2813 969h8M1652 964h8M1372 695h8M1572 721h8M2840 979h8M2379 969h8M2418 724h8M2632 953h8M672 710h8M2625 973h8M1607 965h8M2085 1023h8M1209 729h8M2205 980h8M2189 955h8M890 656h8M2313 732h8M1740 670h8M2770 724h8M1057 667h8M1131 729h8M1873 977h8M2204 952h8M1306 982h8M2391 665h8M528 968h8M1016 726h8M1144 955h8M1513 715h8M2588 714h8M855 671h8M1051 998h8M2247 966h8M2059 687h8M923 711h8M538 961h8M1601 717h8M2356 697h8M1871 968h8M2763 960h8M2399 961h8M1721 706h8M1963 965h8M2428 716h8M2044 970h8M609 970h8M2098 954h8M2786 722h8M2450 683h8M778 730h8M1040 732h8M2380 979h8M2492 731h8M2215 957h8M1412 713h8M865 710h8M1074 714h8M1376 696h8M2402 1003h8M1054 976h8M598 731h8M2523 962h8M528 667h8M1821 975h8M1493 963h8M2282 1005h8M2495 1057h8M2292 715h8M1203 1001h8M2233 715h8M1830 721h8M2154 732h8M1790 733h8M2658 982h8M1925 698h8M1045 718h8M2438 967h8M993 959h8M2335 656h8M2785 953h8M2149 952h8M756 954h8M570 985h8M710 698h8M1112 982h8M2196 711h8M854 699h8M845 1020h8M1663 730h8M1490 972h8M964 986h8M2614 713h8M1658 959h8M2287 699h8M630 698h8M789 727h8M1221 730h8M2233 992h8M1240 696h8M2503 722h8M2432 998h8M2232 1044h8M2376 639h8M2036 963h8M717 974h8M2443 1012h8M2592 954h8M961 968h8M2776 999h8M1790 952h8M1290 957h8M752 986h8M1935 971h8M2545 977h8M2124 952h8M1846 961h8M2310 714h8M2122 715h8M1677 953h8M2598 731h8M1778 954h8M2641 733h8M1257 962h8M1120 983h8M1702 1000h8M1432 732h8M1412 978h8M843 707h8M2315 952h8M1129 972h8M1476 700h8M1557 729h8M688 720h8M2209 695h8M1955 724h8M2025 996h8M947 726h8M1373 717h8M2315 709h8M2404 1018h8M1955 702h8M524 693h8M1019 966h8M1656 961h8M1969 985h8M2369 665h8M2010 721h8M2614 957h8M2461 964h8M1295 697h8M1053 991h8M1852 697h8M2672 969h8M2164 613h8M2620 674h8M576 715h8M536 656h8M1320 710h8M913 731h8M2031 693h8M2240 719h8M2177 688h8M2217 975h8M2556 728h8M2032 715h8M2733 718h8M1465 705h8M988 951h8M2336 730h8M1783 719h8M2695 710h8M1016 1023h8M1901 1006h8M1021 970h8M2121 976h8M1867 717h8M2367 1002h8M920 722h8M671 650h8M619 721h8M646 990h8M1571 952h8M2641 673h8M659 728h8M1224 730h8M2078 684h8M2370 720h8M1937 651h8M1871 959h8M934 724h8M2803 718h8M1166 722h8M781 701h8M654 679h8M1858 951h8M2240 701h8M970 694h8M2760 725h8M2838 711h8M1067 702h8M2124 716h8M1382 703h8M1469 711h8M1428 987h8M2011 711h8M2517 961h8M1703 703h8M2787 965h8M2156 967h8M2096 719h8M572 708h8M1241 671h8M2017 964h8M2451 954h8M1944 988h8M1125 1032h8M2090 965h8M2417 951h8M1520 956h8M1224 953h8M1626 980h8M629 710h8M1662 700h8M1244 706h8M556 958h8M2391 957h8M1630 729h8M1906 617h8M593 684h8M1330 966h8M927 719h8M1868 982h8M2480 1084h8M2333 713h8M575 694h8M607 726h8M541 973h8M2274 730h8M2689 723h8M1475 1008h8M1567 664h8M2722 719h8M1087 981h8M2822 959h8M2735 982h8M2707 1059h8M2730 692h8M1173 954h8M1160 954h8M1523 724h8M2677 662h8M2146 971h8M1384 1049h8M2330 1005h8M693 707h8M2343 691h8M1851 976h8M2406 719h8M681 707h8M2840 705h8M990 1002h8M2835 701h8M715 731h8M1172 964h8M2494 962h8M1284 677h8M2057 1032h8M2129 703h8M720 978h8M1923 692h8M1540 731h8M1057 986h8M1157 696h8M1974 675h8M2291 968h8M563 983h8M767 975h8M2328 973h8M2010 966h8M1166 729h8M1888 1055h8M860 669h8M1760 720h8M985 954h8M1659 668h8M962 972h8M2178 977h8M1714 686h8M1196 729h8M1391 715h8M2679 714h8M2449 957h8M2639 700h8M2449 722h8M2334 972h8M1299 986h8M1415 965h8M769 990h8M2404 984h8M2735 956h8M2004 725h8M2370 727h8M2456 662h8M2233 733h8M1764 707h8M2473 979h8M1710 996h8M1452 957h8M2033 1007h8M1378 954h8M2553 978h8M2145 653h8M570 952h8M1185 662h8M709 707h8M1435 690h8M1856 698h8M1725 714h8M1763 962h8M2211 1006h8M547 602h8M2070 712h8M1408 716h8M2666 1007h8M2471 718h8M1474 689h8M1031 960h8M550 723h8M1830 989h8M1622 967h8M1627 703h8M578 951h8M1320 965h8M2406 719h8M1880 674h8M1851 960h8M545 986h8M2365 727h8M2049 660h8M2445 980h8M786 972h8M1623 973h8M2660 974h8M1141 974h8M2440 711h8M987 716h8M2391 723h8M2659 669h8M2261 1019h8M2260 713h8M811 984h8M1403 712h8M1952 670h8M1132 686h8M1693 968h8M1359 980h8M1692 954h8M1618 980h8M1918 999h8M704 1026h8M2212 965h8M879 697h8M1869 975h8M1075 733h8M2655 722h8M1886 687h8M2553 720h8M2364 675h8M1807 998h8M591 1058h8M1783 670h8M2038 698h8M1154 683h8M702 961h8M2832 689h8M2839 958h8M1925 732h8M850 709h8M1434 996h8M680 961h8M2335 686h8M610 723h8M1536 683h8M1599 702h8M1876 720h8M2708 961h8M2645 952h8M1750 731h8M2333 713h8M2058 720h8M1779 723h8M2119 968h8M1711 733h8M1234 1029h8M885 722h8M1001 719h8M2656 965h8M1370 955h8M860 960h8M2012 978h8M2227 999h8M879 720h8M2810 987h8M1143 1034h8M2139 984h8M1210 1000h8M902 1057h8M1569 679h8M1043 677h8M2297 653h8M2172 1006h8M1008 958h8M2323 721h8M902 964h8M2784 660h8M1190 720h8M1079 717h8M1579 953h8M1118 731h8M864 962h8M1981 993h8M539 688h8M2053 997h8M1465 994h8M2501 964h8M2568 719h8M2147 622h8M2511 963h8M2561 966h8M1860 955h8M2167 1067h8M2833 731h8M1680 690h8M2389 976h8M2352 616h8M2022 693h8M548 697h8M2651 991h8M1796 691h8M837 718h8M589 733h8M2300 729h8M2771 726h8M598 1027h8M989 973h8M1653 682h8M1383 718h8M938 732h8M1512 977h8M2815 958h8M1620 716h8M1048 727h8M1551 964h8M1362 990h8M2202 1015h8M838 709h8M1575 974h8M2778 659h8M937 977h8M2299 688h8M1678 980h8M767 719h8M2727 958h8M1553 731h8M1020 959h8M2068 961h8M731 728h8M2058 731h8M2649 700h8M1119 719h8M1985 964h8M1262 959h8M1410 730h8M1657 955h8M1484 692h8M1370 703h8M2179 720h8M2439 955h8M1962 1011h8M1735 724h8M1703 957h8M889 732h8M2379 982h8M1176 699h8M1335 967h8M2682 726h8M1478 699h8M1833 657h8M745 719h8M1549 957h8M1850 971h8M980 957h8M1506 1000h8M831 732h8M1012 989h8M2599 732h8M2035 973h8M639 725h8M713 722h8M1033 725h8M1922 1031h8M546 714h8M1700 700h8M657 967h8M1615 958h8M608 716h8M2238 708h8M1300 957h8M856 716h8M783 692h8M2068 960h8M1344 1019h8M819 962h8M1577 968h8M2753 967h8M2134 721h8M2706 982h8M2544 1046h8M2603 972h8M1386 1007h8M2154 730h8M1347 728h8M2355 966h8M1520 724h8M1227 727h8M1155 712h8M1321 647h8M2060 962h8M688 709h8M1601 990h8M1854 953h8M1619 732h8M765 953h8M1244 980h8M2183 675h8M2092 670h8M1289 951h8M2101 959h8M2676 732h8M1063 723h8M2702 706h8M2341 963h8M762 724h8M893 698h8M978 956h8M2506 966h8M2465 643h8M892 992h8M1504 979h8M2633 968h8M2500 715h8M1675 974h8M1196 703h8M884 704h8M2608 964h8M1009 952h8M1572 989h8M981 977h8M2644 963h8M2074 1065h8M958 974h8M576 731h8M1237 731h8M2562 701h8M1960 968h8M2273 716h8M969 719h8M2613 965h8M2455 971h8M2467 973h8M930 720h8M1170 725h8M1067 987h8M2257 692h8M2770 721h8M848 954h8M1153 730h8M780 726h8M2021 666h8M1137 958h8M588 962h8M855 731h8M2239 1075h8M1814 996h8M523 732h8M2490 964h8M1707 1016h8M2516 1026h8M2845 711h8M959 978h8M2032 975h8M1291 1002h8M2049 1016h8M1396 730h8M1705 720h8M2292 727h8M1731 991h8M2685 732h8M1506 720h8M1870 953h8M1734 1007h8M2732 724h8M2119 988h8M2256 725h8M1834 677h8M939 714h8M2276 700h8M916 727h8M754 671h8M1023 721h8M1420 1001h8M2076 731h8M837 727h8M2582 727h8M725 711h8M1551 723h8M1835 719h8M1113 954h8M1942 725h8M1786 732h8M1142 728h8M1648 714h8M2546 702h8M596 985h8M2837 655h8M1331 730h8M1950 725h8M1451 711h8M2405 717h8M1238 714h8M1080 1010h8M1225 686h8M2346 953h8M539 956h8M1680 964h8M1718 724h8M1379 675h8M1711 629h8M692 672h8M1567 714h8M2693 679h8M774 951h8M2765 707h8M1879 731h8M1196 978h8M2663 696h8M1198 700h8M2043 985h8M1045 728h8M971 965h8M563 714h8M1597 689h8M810 694h8M1922 1031h8M569 1030h8M1445 971h8M1515 616h8M779 732h8M2806 675h8M1428 980h8M1836 730h8M2239 986h8M1442 724h8M2153 1014h8M1959 1004h8M1660 1008h8M1258 708h8M1930 961h8M2119 703h8M1592 980h8M1856 1029h8M1504 956h8M743 721h8M2611 970h8M875 1055h8M2133 1008h8M1468 1008h8M1504 725h8M2848 957h8M1787 961h8M1849 687h8M853 724h8M1113 993h8M1643 670h8M1547 1018h8M1474 712h8M1490 693h8M730 971h8M1365 706h8M1535 707h8M635 954h8M2424 715h8M2676 994h8M1053 953h8M2294 1040h8M1711 733h8M1201 728h8M2347 697h8M815 966h8M1946 681h8M2178 975h8M2044 718h8M1137 716h8M2528 728h8M1410 991h8M611 720h8M807 992h8M2750 957h8M724 728h8M1519 716h8M1424 715h8M1166 693h8M570 987h8M1221 960h8M2683 1080h8M1111 678h8M1675 994h8M1654 1004h8M2714 954h8M1569 963h8M1768 714h8M1747 961h8M2520 713h8M679 722h8M2790 1007h8M2322 968h8M1894 707h8M2084 1049h8M1286 726h8M660 954h8M2334 1023h8M1003 666h8M1217 666h8M887 990h8M2482 969h8M1309 655h8M2213 992h8M2499 989h8M2707 722h8M1146 961h8M2634 976h8M1675 1006h8M1258 952h8M2190 977h8M1218 716h8M1484 721h8M2377 989h8M1667 713h8M585 999h8M2683 721h8M758 691h8M612 981h8M1700 721h8M2087 724h8M1812 731h8M2124 961h8M1387 1007h8M1298 970h8M1936 994h8M2715 716h8M2348 986h8M1047 698h8M1143 697h8M1377 1036h8M2321 972h8M2839 723h8M2274 967h8M783 951h8M1890 979h8M2171 1016h8M2682 956h8M895 994h8M2282 722h8M731 712h8M2049 955h8M2335 1006h8M2764 693h8M2701 686h8M2181 721h8M2781 731h8M2667 953h8M1178 986h8M1308 958h8M1177 732h8M2645 718h8M2016 705h8M2378 952h8M2566 709h8M1738 731h8M1811 992h8M650 716h8M959 952h8M2024 722h8M2006 961h8M1277 731h8M2041 971h8M633 726h8M1590 671h8M1721 698h8M714 712h8M2406 717h8M825 719h8M1961 713h8M2128 731h8M594 996h8M945 955h8M2284 719h8M1949 974h8M2828 730h8M1747 965h8M2766 957h8M2147 957h8M2234 717h8M659 957h8M2224 732h8M2699 971h8M2280 691h8M2386 728h8M1963 953h8M1382 724h8M2221 725h8M1501 717h8M1707 1080h8M847 955h8M1941 707h8M2071 710h8M2405 712h8M1639 1010h8M2284 690h8M659 729h8M1057 719h8M2090 692h8M2404 655h8M1342 699h8M2849 711h8M775 696h8M1772 963h8M1367 718h8M2103 705h8M2195 1003h8M1660 987h8M1491 713h8M1965 717h8M2649 691h8M862 643h8M761 718h8M2697 976h8M2021 971h8M1340 1001h8M2603 1013h8M2334 967h8M1022 697h8M944 712h8M2625 971h8M2145 708h8M986 1009h8M1696 960h8M1966 726h8M2732 971h8M1065 728h8M690 968h8M1966 653h8M1927 1000h8M2231 708h8M1588 956h8M970 686h8M1376 952h8M2529 648h8M2557 979h8M2212 731h8M1727 956h8M2827 958h8M781 704h8M1801 712h8M2681 954h8M872 996h8M1440 702h8M2274 703h8M1295 955h8M965 731h8M943 704h8M1726 660h8M815 952h8M724 726h8M692 690h8M2138 695h8M1477 977h8M1200 985h8M652 1010h8M2751 665h8M1671 662h8M1846 955h8M562 727h8M569 727h8M2279 728h8M1155 965h8M1622 718h8M798 698h8M2029 726h8M1529 980h8M1875 697h8M2624 726h8M1586 703h8M1374 953h8M2622 690h8M2484 989h8M2526 728h8M2065 702h8M1329 723h8M2470 724h8M2082 971h8M1872 956h8M2212 992h8M1484 1071h8M529 723h8M2505 691h8M1945 969h8M1948 731h8M910 705h8M2561 704h8M634 726h8M1435 713h8M1153 980h8M782 685h8M866 1072h8M1471 976h8M953 682h8M1574 685h8M1680 959h8M1943 1036h8M1536 958h8M2315 1011h8M1421 728h8M810 720h8M1249 990h8M2576 956h8M2312 1009h8M1235 986h8M941 978h8M661 688h8M2071 715h8M883 958h8M625 727h8M1272 956h8M1335 724h8M2091 725h8M968 652h8M728 687h8M2124 718h8M2813 680h8M1551 1025h8M2102 727h8M1031 960h8M751 630h8M1077 972h8M2362 965h8M1017 969h8M870 712h8M1311 728h8M745 670h8M1800 679h8M1000 719h8M818 727h8M998 677h8M1810 657h8M1048 703h8M1109 954h8M2483 701h8M1137 952h8M1423 963h8M2424 723h8M1984 720h8M2742 726h8M1624 965h8M2559 959h8M1026 996h8M2291 682h8M915 954h8M2104 952h8M571 694h8M2849 701h8M2510 1004h8M573 723h8M2635 703h8M1360 977h8M702 963h8M1917 696h8M923 960h8M767 986h8M1519 1027h8M2033 727h8M959 716h8M2803 706h8M2016 989h8M1660 952h8M2112 695h8M1751 1007h8M2301 707h8M533 981h8M1905 996h8M1228 999h8M2419 956h8M2032 983h8M1614 728h8M1871 972h8M1678 1067h8M1380 961h8M2545 1012h8M581 961h8M2742 952h8M1647 990h8M531 981h8M1114 676h8M1857 669h8M1898 988h8M2716 993h8M1776 962h8M1404 682h8M949 707h8M522 969h8M1912 1031h8M2091 674h8M762 705h8M775 725h8M1410 723h8M977 727h8M1423 954h8M1805 1000h8M984 958h8M2266 972h8M1417 1063h8M752 671h8M2535 992h8M1199 973h8M1531 711h8M2007 725h8M2841 959h8M2218 726h8M817 664h8M2602 724h8M2004 687h8M2750 958h8M1920 982h8M2401 969h8M2633 701h8M2019 704h8M2498 699h8M1530 952h8M1597 965h8M2753 712h8M2535 708h8M1375 965h8M2556 974h8M2418 963h8M1877 951h8M817 687h8M1038 729h8M1995 983h8M1546 729h8M1218 720h8M1559 952h8M1434 999h8M1681 690h8M1207 731h8M619 705h8M1690 728h8M2337 989h8M2236 714h8M760 1070h8M2491 656h8M2766 707h8M2205 727h8M2665 959h8M2302 727h8M694 967h8M2014 964h8M2451 696h8M2215 1021h8M808 991h8M2793 1033h8M1365 693h8M1606 955h8M2351 981h8M1433 967h8M1888 731h8M2190 639h8M2474 731h8M1152 993h8M2288 982h8M2574 719h8M1831 726h8M1475 684h8M1900 704h8M1096 965h8M967 709h8M928 717h8M1695 994h8M2300 717h8M1229 956h8M857 953h8M1103 730h8M2043 956h8M1780 723h8M1612 957h8M1804 717h8M2654 957h8M1711 993h8M1066 957h8M1266 954h8M2601 634h8M2219 722h8M1711 719h8M1827 671h8M1423 720h8M2349 696h8M1264 696h8M2272 716h8M711 996h8M2069 685h8M1848 699h8M1309 699h8M1601 952h8M2313 699h8M2213 965h8M1408 705h8M1609 711h8M859 729h8M1985 693h8M1183 728h8M752 711h8M2633 693h8M636 1014h8M704 711h8M1733 725h8M1860 955h8M967 954h8M1350 724h8M2712 682h8M1791 952h8M1167 1010h8M860 1002h8M1204 725h8M2124 974h8M2587 679h8M653 1007h8M581 971h8M1635 701h8M986 732h8M2525 724h8M1987 680h8M851 726h8M1428 952h8M748 676h8M1542 992h8M1159 975h8M1588 972h8M1492 723h8M681 962h8M2089 954h8M1502 961h8M2148 975h8M2681 966h8M1369 675h8M1447 954h8M880 714h8M2351 695h8M759 720h8M2015 707h8M2092 964h8M1777 1041h8M1912 969h8M1532 966h8M1359 971h8M841 997h8M1129 956h8M2119 662h8M1445 733h8M1222 1012h8M1459 724h8M1836 966h8M1998 724h8M1945 714h8M2675 955h8M708 957h8M1862 731h8M944 973h8M1749 966h8M2479 730h8M1888 952h8M1722 986h8M1376 984h8M1418 969h8M1281 951h8M2269 973h8M2034 707h8M2383 717h8M1600 1022h8M1548 725h8M886 717h8M1913 727h8M1735 980h8M2102 973h8M1602 715h8M1994 730h8M1724 731h8M1239 1016h8M749 960h8M1234 677h8M779 705h8M2488 991h8M1168 724h8M570 680h8M1344 730h8M2717 969h8M989 962h8M1173 957h8M1267 955h8M1974 960h8M1017 971h8M2017 717h8M1159 960h8M2562 953h8M1239 687h8M2139 1016h8M2201 970h8M821 660h8M2714 709h8M2297 722h8M1615 706h8M2337 720h8M1929 978h8M2238 709h8M1675 956h8M2330 664h8M917 959h8M774 663h8M1891 995h8M1744 1011h8M2540 683h8M596 965h8M1077 727h8M2849 955h8M654 1002h8M1673 700h8M1477 681h8M733 696h8M736 952h8M988 962h8M2355 711h8M1306 730h8M1056 722h8M1175 965h8M2145 976h8M1336 957h8M2254 972h8M772 661h8M820 989h8M780 968h8M1748 1070h8M1420 687h8M1135 625h8M830 709h8M870 975h8M1596 696h8M1035 656h8M1860 964h8M1864 608h8M2250 979h8M2342 971h8M763 1023h8M1148 693h8M1777 706h8M2843 708h8M799 730h8M543 1023h8M1747 982h8M1114 724h8M1495 704h8M1750 962h8M1880 952h8M853 699h8M2349 1017h8M2083 692h8M2768 661h8M2269 1028h8M2285 951h8M760 969h8M606 710h8M1263 720h8M2749 964h8M2532 717h8M2436 651h8M2127 979h8M2696 729h8M2797 961h8M2429 978h8M1632 717h8M1646 718h8M1098 712h8M2066 973h8M816 732h8M1927 983h8M2168 717h8M1100 699h8M2836 967h8M2327 962h8M1439 721h8M1434 717h8M1334 731h8M2199 703h8M1711 685h8M1517 666h8M2763 964h8M1716 705h8M2214 723h8M1712 696h8M2239 722h8M2734 962h8M1849 725h8M825 969h8M2441 707h8M1934 964h8M1603 708h8M2308 715h8M631 989h8M2607 652h8M1691 725h8M1697 1034h8M1638 958h8M962 971h8M2490 957h8M2783 695h8M597 1007h8M1935 683h8M1188 732h8M2423 992h8M921 992h8M2354 714h8M2804 728h8M1291 724h8M1060 951h8M1815 705h8M796 956h8M1280 660h8M1491 666h8M2280 985h8M2165 968h8M2724 1001h8M1135 723h8M1948 585h8M730 711h8M2744 957h8M711 729h8M844 975h8M1651 972h8M2194 966h8M2801 1027h8M2580 708h8M2192 964h8M1832 970h8M1813 707h8M1778 684h8M1071 959h8M2401 970h8M2719 951h8M2498 654h8M2043 681h8M1073 697h8M1078 698h8M1488 975h8M1386 954h8M1248 666h8M1640 980h8M2238 731h8M2033 711h8M2498 995h8M2117 720h8M1466 725h8M2653 707h8M1757 697h8M1529 966h8M1301 1048h8M555 723h8M2073 730h8M2158 971h8M2037 955h8M1711 953h8M1401 965h8M1767 984h8M1301 706h8M1133 966h8M978 974h8M1526 702h8M2826 965h8M556 955h8M1599 678h8M2309 1009h8M1856 726h8M1517 952h8M1518 729h8M1738 720h8M2070 974h8M1151 979h8M2584 954h8M1560 698h8M1938 954h8M2843 958h8M2129 973h8M669 953h8M1964 1005h8M1098 718h8M2748 710h8M2368 730h8M756 728h8M934 668h8M1948 733h8M1460 1024h8M2834 689h8M2576 719h8M1337 718h8M2388 973h8M1571 1047h8M940 721h8M1200 729h8M1524 698h8M2021 955h8M557 726h8M1477 714h8M712 727h8M1263 687h8M898 684h8M756 699h8M2731 712h8M739 963h8M585 727h8M2707 726h8M1008 987h8M2006 656h8M1326 725h8M711 971h8M2517 709h8M2315 998h8M1073 1007h8M2849 982h8M2767 703h8M1623 975h8M1306 952h8M1792 1028h8M2768 707h8M1280 724h8M2202 996h8M930 1004h8M1328 697h8M1477 722h8M1046 978h8M1229 1014h8M2243 727h8M2069 967h8M2798 983h8M2792 953h8M1165 985h8M1118 952h8M2265 952h8M2808 708h8M1600 710h8M534 677h8M1829 954h8M2751 729h8M1930 998h8M1210 1033h8M907 716h8M2764 702h8M1523 978h8M636 715h8M2623 680h8M2198 1010h8M1825 668h8M2756 723h8M2604 957h8M2089 709h8M2714 1012h8M2430 963h8M941 998h8M709 960h8M1268 968h8M1643 962h8M522 698h8M1778 725h8M1324 715h8M1506 726h8M797 974h8M1766 726h8M2795 703h8M1059 726h8M627 989h8M1900 700h8M2302 1052h8M2375 1001h8M2102 659h8M977 955h8M828 968h8M569 958h8M1925 973h8M2061 992h8M2387 958h8M2154 701h8M964 732h8M1458 646h8M2611 704h8M2044 703h8M1831 719h8M2310 703h8M2551 722h8M1545 951h8M2701 717h8M2420 1017h8M1215 961h8M687 956h8M2691 724h8M1049 721h8M584 728h8M1980 714h8M2628 986h8M2610 956h8M2225 727h8M1743 728h8M1727 707h8M2127 705h8M2357 1030h8M841 721h8M1961 703h8M726 983h8M2274 959h8M1541 992h8M1761 687h8M878 681h8M560 962h8M1611 726h8M1938 1005h8M1024 995h8M852 722h8M1814 729h8M1826 962h8M1713 702h8M1780 721h8M1183 710h8M750 731h8M1006 654h8M1382 980h8M1835 728h8M546 729h8M1149 985h8M1839 958h8M1089 1008h8M1697 680h8M2725 954h8M1590 695h8M1080 664h8M2298 953h8M807 708h8M1437 709h8M1295 719h8M2503 696h8M2224 708h8M1833 1019h8M2657 701h8M936 719h8M912 730h8M2030 1008h8M1411 728h8M2059 729h8M1579 698h8M2701 1004h8M2636 637h8M1756 731h8M948 958h8M1323 954h8M803 660h8M2167 728h8M1369 700h8M864 577h8M1021 1005h8M1651 710h8M1783 997h8M1163 685h8M2786 978h8M756 727h8M950 713h8M2280 998h8M795 972h8M1713 974h8M1834 689h8M2642 683h8M2366 955h8M2377 713h8M2715 724h8M1328 980h8M539 646h8M2008 978h8M1866 999h8M1397 733h8M597 960h8M532 966h8M2000 695h8M1011 968h8M1464 691h8M1254 953h8M1042 970h8M581 650h8M1388 952h8M1510 732h8M1935 646h8M2184 1009h8M1475 715h8M2246 685h8M2669 689h8M1865 727h8M2262 691h8M1886 707h8M2413 960h8M2708 1012h8M1858 954h8M1787 726h8M1255 952h8M1903 706h8M1880 733h8M2050 974h8M1443 732h8M2517 955h8M1739 637h8M2500 675h8M2466 733h8M2691 955h8M1092 609h8M662 693h8M2043 998h8M2673 1022h8M2659 729h8M647 661h8M1542 982h8M926 1065h8M1865 992h8M1866 695h8M1654 725h8M2094 717h8M2423 695h8M1006 953h8M1847 720h8M2180 679h8M676 954h8M1756 622h8M2097 707h8M856 728h8M2066 690h8M1405 711h8M2336 983h8M1416 964h8M2674 1001h8M1930 708h8M1392 999h8M2426 708h8M938 959h8M1510 960h8M2395 712h8M2539 725h8M2584 951h8M593 714h8M2564 681h8M1735 957h8M2809 1003h8M942 973h8M1948 987h8M2073 1004h8M2526 704h8M822 970h8M804 982h8M2627 730h8M1649 688h8M2061 687h8M1335 723h8M2578 984h8M594 688h8M1115 720h8M1257 727h8M2386 961h8M2190 1009h8M697 969h8M998 1010h8M560 685h8M1688 730h8M1162 697h8M1956 959h8M1665 987h8M725 1001h8M1095 960h8M2080 727h8M2644 959h8M1779 689h8M1876 958h8M2383 730h8M1377 637h8M1182 723h8M1306 695h8M769 725h8M2630 723h8M1866 952h8M1004 1012h8M2733 997h8M1339 724h8M2206 722h8M1375 656h8M2249 964h8M1199 980h8M1894 972h8M1686 718h8M2759 676h8M724 960h8M1569 981h8M524 720h8M1996 954h8M914 999h8M1539 696h8M2491 957h8M2784 721h8M2322 961h8M2172 714h8M2323 999h8M1527 695h8M1136 969h8M549 692h8M2664 962h8M1038 968h8M2382 665h8M2067 966h8M539 726h8M1879 724h8M1659 699h8M744 701h8M1359 1005h8M866 724h8M1702 628h8M946 709h8M1369 717h8M2382 726h8M1983 987h8M557 961h8M1909 722h8M2560 730h8M2002 704h8M2494 732h8M1232 658h8M2052 713h8M963 1007h8M1531 721h8M687 967h8M640 619h8M1902 992h8M1640 1008h8M1563 1010h8M1282 727h8M2455 703h8M550 727h8M916 711h8M1006 650h8M2529 718h8M702 696h8M1149 981h8M2569 952h8M1304 704h8M1421 1004h8M842 664h8M2153 1082h8M564 711h8M639 995h8M1044 957h8M1633 732h8M2156 954h8M1854 700h8M1076 1012h8M1257 720h8M2146 987h8M2663 714h8M2510 956h8M2454 717h8M2026 702h8M909 970h8M749 970h8M2799 724h8M1759 965h8M642 1010h8M917 709h8M939 708h8M612 956h8M2798 732h8M2527 693h8M961 713h8M1664 1024h8M616 1030h8M2191 689h8M2543 731h8M1315 954h8M2835 718h8M1783 972h8M1427 999h8M2713 989h8M775 1003h8M893 705h8M2740 698h8M673 971h8M2322 1018h8M1883 685h8M2420 979h8M2303 964h8M2474 725h8M691 723h8M2280 670h8M2792 726h8M2246 981h8M1643 726h8M703 976h8M905 975h8M1805 990h8M2588 724h8M1165 720h8M1497 988h8M2139 673h8M2188 975h8M940 952h8M2046 954h8M999 967h8M1236 719h8M2601 711h8M1360 955h8M2021 953h8M1601 684h8M2717 703h8M1558 723h8M2044 725h8M1472 985h8M1270 677h8M2301 957h8M2088 984h8M1441 678h8M2150 710h8M586 675h8M1314 680h8M2588 685h8M2654 730h8M1031 958h8M2433 676h8M1148 980h8M2250 965h8M1274 954h8M1291 725h8M2523 956h8M1812 692h8M1519 728h8M1508 990h8M1644 979h8M1757 714h8M890 678h8M563 717h8M708 964h8M2298 960h8M1305 976h8M1110 672h8M1241 952h8M718 998h8M2385 725h8M2460 720h8M1172 699h8M2184 953h8M2770 710h8M612 600h8M2624 954h8M1383 984h8M2714 980h8M2272 983h8M1560 988h8M714 680h8M2586 954h8M2821 970h8M1449 707h8M2812 965h8M1151 999h8M1687 611h8M979 959h8M1131 729h8M978 1058h8M1581 706h8M1434 962h8M612 1011h8M2834 732h8M2397 729h8M1191 724h8M1869 700h8M672 1015h8M2820 1002h8M1938 1003h8M1046 954h8M781 692h8M2597 963h8M1911 979h8M2091 682h8M2726 955h8M1492 972h8M1099 733h8M585 728h8M2000 692h8M2328 969h8M1248 970h8M2597 701h8M2384 968h8M2063 962h8M2025 989h8M2542 953h8M2010 984h8M1834 692h8M1702 726h8M2487 1009h8M2841 714h8M1372 715h8M874 1116h8M1072 1004h8M1966 990h8M863 1013h8M1200 1021h8M2507 704h8M1006 962h8M2279 977h8M836 961h8M1922 696h8M2626 952h8M1185 970h8M2811 726h8M2717 963h8M2750 969h8M1156 953h8M1438 719h8M777 691h8M1340 1052h8M2318 695h8M1938 982h8M2014 732h8M2374 722h8M730 961h8M2595 982h8M634 719h8M2203 647h8M717 690h8M2057 729h8M2201 965h8M2364 1054h8M2253 965h8M2160 981h8M1134 709h8M1423 700h8M2329 685h8M2744 610h8M1782 694h8M1776 956h8M2654 996h8M685 973h8M2182 686h8M955 697h8M853 720h8M1514 959h8M587 718h8M988 715h8M2081 963h8M854 1016h8M523 980h8M1814 729h8M2205 1012h8M1111 994h8M2150 995h8M2032 951h8M2151 1000h8M2163 967h8M773 730h8M2077 959h8M2216 732h8M2173 724h8M887 1013h8M580 979h8M668 729h8M636 974h8M2564 954h8M684 974h8M1877 964h8M2308 997h8M1302 1005h8M1321 990h8M955 962h8M2113 727h8M780 731h8M1626 1021h8M997 694h8M2378 712h8M1432 957h8M2575 700h8M2831 955h8M2619 1003h8M2838 670h8M1907 715h8M2704 671h8M1577 680h8M656 954h8M673 1035h8M2706 710h8M1891 986h8M2344 720h8M2000 956h8M802 992h8M1049 708h8M2798 990h8M1309 710h8M1633 1012h8M734 965h8M1719 708h8M2197 684h8M622 955h8M1025 700h8M1335 708h8M2847 969h8M2093 705h8M2395 985h8M2111 994h8M2089 727h8M2362 719h8M885 687h8M1579 708h8M2150 970h8M1699 720h8M520 981h8M1917 985h8M611 964h8M1819 714h8M833 640h8M667 707h8M1740 709h8M1251 1048h8M1727 966h8M531 592h8M851 1021h8M1604 724h8M968 962h8M1576 972h8M1386 689h8M859 731h8M1918 680h8M1290 959h8M2177 976h8M2564 956h8M585 953h8M719 730h8M2679 701h8M865 953h8M1417 960h8M834 971h8M2047 953h8M807 727h8M982 704h8M2445 720h8M1959 727h8M1426 720h8M1257 965h8M1749 980h8M2739 728h8M2588 1028h8M2627 1015h8M1073 1013h8M2423 961h8M2117 731h8M1592 671h8M2130 967h8M622 981h8M1165 963h8M1591 997h8M2185 977h8M2578 707h8M2310 1033h8M1800 994h8M1137 984h8M1892 1006h8M1425 988h8M1718 958h8M1861 1001h8M2638 961h8M1999 985h8M837 723h8M2529 722h8M2087 719h8M1723 968h8M1220 1013h8M600 953h8M1368 721h8M2069 729h8M619 717h8M1307 711h8M1639 689h8M2823 729h8M2353 717h8M2089 962h8M1659 955h8M1543 730h8M638 953h8M1901 957h8M1572 728h8M1801 727h8M813 694h8M2185 692h8M703 975h8M1504 1010h8M811 964h8M1592 958h8M1629 594h8M2431 961h8M1318 699h8M954 1010h8M2190 710h8M2373 984h8M2228 952h8M2824 987h8M1118 955h8M2479 718h8M974 988h8M2453 990h8M2122 727h8M2262 730h8M874 970h8M2849 969h8M2197 1015h8M1453 666h8M665 639h8M1201 964h8M721 708h8M948 971h8M2286 697h8M1113 710h8M1797 732h8M920 731h8M2109 976h8M2279 704h8M2132 969h8M806 1009h8M2747 729h8M2669 1004h8M753 1022h8M2794 993h8M2201 956h8M1562 718h8M1944 1011h8M2331 974h8M1700 713h8M1730 958h8M2137 671h8M533 659h8M1915 955h8M1059 975h8M1220 958h8M772 998h8M2717 980h8M2581 730h8M905 984h8M1765 952h8M2123 961h8M943 963h8M2282 1048h8M1464 711h8M1639 727h8M985 959h8M2115 969h8M2117 987h8M2641 953h8M1379 720h8M2687 728h8M1901 1024h8M2425 972h8M793 682h8M2524 964h8M2422 716h8M911 714h8M1856 955h8M1098 732h8M1422 715h8M1097 694h8M2060 992h8M2349 711h8M2007 717h8M625 977h8M1025 703h8M1503 956h8M1916 954h8M1695 1071h8M532 704h8M2615 1001h8M1610 652h8M2507 646h8M1458 690h8M1706 694h8M2781 982h8M1234 966h8M1095 1002h8M2577 715h8M1994 698h8M796 954h8M1837 691h8M2038 968h8M1232 966h8M1137 672h8M812 993h8M2305 970h8M1374 971h8M2187 720h8M2037 709h8M1519 724h8M839 721h8M2294 710h8M1183 975h8M2068 689h8M887 963h8M2846 663h8M788 716h8M578 703h8M2659 714h8M2475 960h8M2307 726h8M1961 725h8M531 968h8M2477 966h8M1450 720h8M1637 959h8M1987 726h8M2810 977h8M2618 962h8M611 992h8M2199 953h8M2347 953h8M2497 699h8M2523 961h8M1004 954h8M2052 1000h8M636 706h8M2103 1025h8M2206 710h8M2113 955h8M770 676h8M750 1007h8M623 716h8M804 987h8M1529 729h8M2086 998h8M1555 957h8M1316 962h8M2313 998h8M2164 650h8M1344 998h8M2477 708h8M2825 713h8M637 970h8M1460 971h8M2656 983h8M1832 989h8M567 1019h8M1258 962h8M866 977h8M1902 725h8M2826 967h8M1747 998h8M858 667h8M1628 691h8M1729 730h8M1728 726h8M2229 693h8M623 969h8M751 1031h8M1375 709h8M633 963h8M2243 966h8M2627 969h8M827 956h8M2585 970h8M925 732h8M1334 979h8M699 972h8M1234 1006h8M1070 721h8M2814 984h8M1937 702h8M1251 1024h8M2326 974h8M1992 964h8M1636 698h8M1148 995h8M1677 978h8M1546 952h8M689 983h8M819 699h8M1049 728h8M2505 971h8M676 974h8M801 726h8M2608 963h8M774 684h8M1200 657h8M2487 982h8M1994 958h8M638 952h8M1281 722h8M2170 1004h8M2372 1032h8M1133 721h8M1427 700h8M652 1011h8M2227 957h8M2130 972h8M2172 957h8M747 992h8M2586 986h8M1316 965h8M2589 709h8M2297 982h8M1995 970h8M1016 732h8M1909 971h8M747 674h8M2640 720h8M1350 964h8M953 670h8M1218 955h8M894 988h8M2818 729h8M1745 976h8M2620 961h8M2042 679h8M749 720h8M1740 1011h8M2362 687h8M1786 991h8M2206 653h8M2616 1004h8M1627 953h8M2096 957h8M1985 994h8M1479 723h8M1684 964h8M2201 718h8M1218 978h8M2090 1008h8M2541 711h8M1086 709h8M1375 731h8M1327 962h8M1255 685h8M2821 986h8M1504 970h8M2106 973h8M2523 650h8M603 1000h8M2343 728h8M1279 731h8M2805 727h8M641 732h8M2282 711h8M1790 961h8M1388 708h8M1352 721h8M592 657h8M2285 954h8M665 732h8M1428 963h8M2518 724h8M1276 993h8M1148 968h8M2552 979h8M2018 663h8M2049 701h8M1086 962h8M1414 970h8M673 728h8M2545 1022h8M2499 705h8M2662 1019h8"/>
<path transform="scale(0.1)" stroke="#000" stroke-opacity="0.5" stroke-width="8" fill="none" d="M1040 955h8M610 978h8M1168 669h8M642 714h8M2143 671h8M2479 1028h8M1202 963h8M1165 962h8M975 967h8M2388 985h8M1701 971h8M1351 720h8M592 722h8M548 700h8M2478 967h8M2796 994h8M1151 724h8M683 956h8M956 709h8M1368 725h8M2683 976h8M1841 965h8M1027 703h8M979 716h8M2628 968h8M1561 698h8M2358 726h8M2253 959h8M2007 956h8M2488 733h8M2209 710h8M599 956h8M1672 960h8M2485 958h8M768 697h8M2344 972h8M1451 720h8M1175 688h8M2249 980h8M1373 1008h8M1957 989h8M2806 657h8M2527 725h8M2462 953h8M1458 703h8M1436 693h8M2682 952h8M2625 964h8M939 957h8M1375 680h8M2158 977h8M2496 1009h8M1145 977h8M1817 722h8M1494 979h8M2665 976h8M2590 616h8M768 685h8M2734 710h8M2466 719h8M1830 956h8M1407 719h8M2296 956h8M1594 979h8M2041 651h8M2781 712h8M2741 979h8M783 980h8M1927 953h8M1628 969h8M1999 692h8M706 983h8M1281 960h8M1813 983h8M2710 726h8M1847 961h8M1696 731h8M1450 689h8M1986 715h8M1567 988h8M1375 713h8M614 972h8M1229 953h8M687 665h8M1432 623h8M636 690h8M1676 728h8M2347 700h8M2258 991h8M529 676h8M2456 961h8M2741 728h8M1267 725h8M2277 705h8M2568 989h8M1291 718h8M972 964h8M768 955h8M1087 724h8M2440 1008h8M2383 702h8M2134 956h8M1760 1009h8M1007 989h8M2452 952h8M2375 722h8M2255 961h8M2246 708h8M1269 646h8M762 657h8M1062 997h8M2306 724h8M898 954h8M1081 700h8M1596 675h8M820 1016h8M2749 711h8M1139 679h8M1796 665h8M2071 668h8M2674 716h8M2721 731h8M690 959h8M2386 665h8M2727 1020h8M2165 602h8M1485 1000h8M2202 978h8M2195 709h8M2296 705h8M2693 955h8M735 722h8M1977 959h8M2697 720h8M2085 715h8M1394 709h8M1655 964h8M2294 968h8M1888 720h8M1301 967h8M2024 725h8M2217 1060h8M1443 691h8M1868 713h8M1026 709h8M538 722h8M2800 1013h8M1688 713h8M1222 728h8M1176 711h8M965 731h8M758 967h8M2415 981h8M817 672h8M648 956h8M1592 952h8M562 647h8M767 958h8M2710 1025h8M2554 989h8M890 953h8M2401 967h8M1005 965h8M863 687h8M1829 681h8M2527 697h8M1907 708h8M1498 673h8M2257 996h8M1274 972h8M1476 955h8M2799 961h8M2583 692h8M2690 712h8M881 713h8M1320 968h8M544 953h8M2837 719h8M1912 985h8M2444 987h8M2522 960h8M2152 970h8M993 1013h8M1216 953h8M2453 666h8M807 964h8M2367 627h8M1828 707h8M1167 957h8M2291 1048h8M562 957h8M1010 728h8M1592 706h8M2565 723h8M1943 957h8M941 699h8M2112 711h8M1911 998h8M1601 957h8M2331 1017h8M2118 1018h8M692 991h8M860 957h8M1584 963h8M2324 729h8M706 967h8M986 980h8M2734 1043h8M2266 725h8M1711 720h8M1625 968h8M1032 964h8M1000 962h8M536 993h8M833 706h8M781 959h8M628 729h8M2197 1018h8M2306 658h8M958 954h8M2474 733h8M731 960h8M827 732h8M1699 971h8M1565 990h8M545 973h8M563 649h8M1307 1002h8M1159 972h8M2437 957h8M1590 705h8M1203 719h8M1270 1000h8M1358 952h8M1501 994h8M2557 682h8M1910 1029h8M1340 955h8M1057 725h8M1696 963h8M2770 954h8M2047 995h8M2599 964h8M1625 957h8M2291 677h8M1914 956h8M1288 730h8M1518 733h8M1474 978h8M1659 687h8M1120 699h8M2105 969h8M2592 953h8M590 723h8M2554 1000h8M1197 979h8M2111 614h8M674 998h8M2247 702h8M2836 667h8M1791 991h8M1505 728h8M620 701h8M836 978h8M625 951h8M794 951h8M1729 955h8M1488 731h8M687 712h8M1857 977h8M2595 725h8M1703 714h8M1087 951h8M2305 984h8M1315 700h8M2345 694h8M1450 714h8M1155 965h8M1752 679h8M2671 951h8M726 985h8M576 1016h8M2628 976h8M923 971h8M847 694h8M2604 953h8M1712 982h8M2080 966h8M600 980h8M2308 960h8M2451 985h8M1689 707h8M2596 724h8M2152 970h8M1716 988h8M1704 716h8M1570 717h8M1495 722h8M2598 958h8M1544 989h8M2659 672h8M2038 712h8M1387 710h8M904 979h8M1296 1043h8M1191 660h8M2636 953h8M1851 975h8M2121 706h8M1584 954h8M1745 953h8M2079 1000h8M2307 665h8M1967 692h8M1560 711h8M1559 698h8M2233 621h8M888 707h8M2425 732h8M1731 998h8M999 699h8M2125 728h8M2139 999h8M2504 989h8M2428 703h8M1895 669h8M2777 720h8M2825 726h8M1898 1007h8M1415 959h8M2078 723h8M607 705h8M1219 697h8M629 954h8M1875 720h8M1742 729h8M1208 731h8M786 708h8M2090 975h8M1399 683h8M1085 732h8M2760 982h8M1311 686h8M2296 952h8M824 728h8M1777 718h8M1331 956h8M1070 704h8M2574 732h8M560 709h8M1740 967h8M2185 713h8M1416 963h8M592 640h8M707 669h8M882 981h8M1263 969h8M1019 954h8M1296 951h8M986 955h8M1191 726h8M2400 952h8M1292 666h8M2186 972h8M905 962h8M1627 957h8M2471 980h8M909 956h8M685 730h8M2262 1038h8M1671 672h8M810 720h8M1889 1003h8M2766 951h8M2076 976h8M2361 957h8M1494 731h8M818 714h8M1128 716h8M2117 991h8M2703 732h8M1242 967h8M1277 691h8M659 662h8M804 721h8M2525 712h8M2615 709h8M1766 731h8M1311 697h8M1816 728h8M1054 723h8M1490 978h8M626 975h8M1161 967h8M1522 724h8M2099 728h8M1310 720h8M2823 685h8M971 727h8M740 962h8M1005 957h8M579 981h8M1764 966h8M2799 729h8M1590 726h8M1461 963h8M2389 1054h8M638 710h8M1142 956h8M2335 727h8M1227 732h8M546 1017h8M719 1022h8M2244 954h8M1616 983h8M988 964h8M1724 954h8M2011 1026h8M667 966h8M2444 728h8M1250 956h8M701 957h8M1225 968h8M2141 981h8M1436 960h8M2679 721h8M1146 718h8M912 728h8M2575 715h8M1046 951h8M2066 694h8M1904 955h8M2115 969h8M887 991h8M2260 667h8M683 959h8M2693 706h8M2234 671h8M2414 687h8M2139 706h8M2045 986h8M860 969h8M2590 732h8M585 952h8M1023 708h8M2137 956h8M2595 954h8M1973 951h8M2816 1005h8M1558 958h8M2089 996h8M2308 976h8M2763 952h8M1060 953h8M1716 962h8M1780 649h8M2014 955h8M1510 730h8M729 726h8M776 728h8M1227 722h8M643 727h8M2304 964h8M1923 718h8M1291 957h8M1754 678h8M2809 959h8M689 687h8M1435 732h8M1931 1012h8M2551 713h8M2554 984h8M2057 630h8M1788 986h8M737 957h8M2401 954h8M1590 719h8M890 732h8M722 1051h8M2623 958h8M2112 965h8M2086 695h8M948 1025h8M2106 725h8M2428 960h8M2358 691h8M1497 986h8M2562 984h8M1873 1036h8M2113 655h8M2273 961h8M803 714h8M2037 730h8M2792 731h8M2304 732h8M2600 974h8M1650 732h8M2019 984h8M2356 991h8M825 972h8M1628 955h8M725 955h8M1757 1007h8M2567 733h8M1743 961h8M2107 641h8M2056 697h8M2723 667h8M1693 993h8M1261 730h8M2633 729h8M1041 959h8M2629 957h8M1587 985h8M1803 694h8M1531 988h8M2195 979h8M2294 729h8M1928 986h8M662 961h8M1193 704h8M1934 702h8M1509 696h8M868 708h8M2617 971h8M2584 952h8M997 715h8M1583 1004h8M2076 967h8M1485 964h8M1888 1003h8M1789 727h8M2609 726h8M1751 728h8M1715 971h8M565 1074h8M1917 995h8M1313 983h8M1424 967h8M2484 715h8M1193 966h8M819 687h8M2574 954h8M2780 730h8M2241 999h8M1725 970h8M1552 1038h8M2578 982h8M2244 1014h8M1732 716h8M707 707h8M2324 694h8M1480 730h8M1480 967h8M625 964h8M1514 1001h8M1405 962h8M1774 655h8M1401 719h8M2655 962h8M2334 690h8M1909 700h8M2036 996h8M2133 994h8M1798 714h8M551 730h8M2625 951h8M2661 953h8M2770 601h8M1242 953h8M1255 953h8M2154 663h8M2073 707h8M2134 726h8M887 726h8M1652 964h8M685 1023h8M637 1075h8M1010 963h8M576 965h8M733 717h8M2678 951h8M1303 683h8M532 1003h8M2157 955h8M2669 1050h8M1052 725h8M922 726h8M1374 657h8M2042 1039h8M1590 967h8M767 653h8M2408 960h8M2821 972h8M1261 966h8M2317 733h8M755 954h8M761 957h8M1873 957h8M1113 697h8M1880 727h8M2685 964h8M2102 951h8M1027 1010h8M1172 714h8M729 697h8M2375 979h8M625 981h8M1525 728h8M2484 1013h8M886 953h8M1172 1010h8M1240 978h8M1789 705h8M2819 981h8M594 711h8M2175 718h8M2027 724h8M2665 987h8M827 702h8M2382 1021h8M1679 988h8M1825 964h8M630 1007h8M2374 726h8M1858 952h8M808 986h8M2231 677h8M2265 957h8M2052 984h8M2706 712h8M895 993h8M1768 955h8M1353 1017h8M676 1025h8M2323 716h8M2786 984h8M1068 1006h8M2501 1019h8M1653 712h8M731 727h8M1347 974h8M1987 1064h8M1914 705h8M2107 1012h8M2581 960h8M822 1037h8M2576 962h8M785 727h8M698 965h8M549 646h8M1369 700h8M961 1036h8M1144 961h8M714 723h8M1763 728h8M2152 691h8M1017 956h8M2429 650h8M1678 1007h8M876 674h8M1924 732h8M2570 699h8M2520 726h8M1905 956h8M1120 1010h8M872 984h8M1079 729h8M1437 964h8M1704 1008h8M1915 697h8M2032 979h8M2453 961h8M2825 984h8M630 956h8M1187 729h8M584 974h8M2486 966h8M2517 953h8M2179 708h8M2302 709h8M2696 717h8M830 995h8M1135 955h8M1782 958h8M1093 712h8M2567 994h8M1071 698h8M1761 702h8M1869 713h8M2659 711h8M2371 691h8M1190 701h8M1407 730h8M731 717h8M2637 731h8M1893 713h8M1038 725h8M1912 732h8M1282 701h8M1049 974h8M913 719h8M1032 979h8M1466 700h8M2815 729h8M1783 711h8M739 1008h8M1072 977h8M2487 976h8M524 1009h8M2756 988h8M2368 1000h8M778 963h8M537 1015h8M1173 1017h8M1581 731h8M2341 717h8M1678 696h8M1986 706h8M664 969h8M1116 967h8M2723 726h8M939 730h8M2781 972h8M2678 984h8M1845 722h8M2011 981h8M985 691h8M1956 977h8M774 714h8M936 997h8M1734 681h8M2660 729h8M1660 960h8M670 958h8M722 999h8M818 1037h8M1572 647h8M1739 631h8M1432 708h8M2659 714h8M1780 720h8M903 660h8M1157 961h8M809 1002h8M2804 682h8M2411 719h8M781 952h8M1282 991h8M1133 984h8M1965 960h8M1920 702h8M595 956h8M608 964h8M1972 1004h8M2533 957h8M671 1042h8M2158 668h8M2456 1018h8M796 694h8M2522 952h8M2803 963h8M2215 979h8M2650 969h8M1598 726h8M724 719h8M1669 980h8M1180 965h8M728 728h8M2691 1020h8M2262 713h8M1450 952h8M2298 712h8M1683 727h8M1800 729h8M2330 951h8M2241 732h8M2457 952h8M641 976h8M1583 968h8M630 952h8M534 715h8M2192 974h8M1833 990h8M2630 1003h8M1148 1012h8M2110 639h8M2602 720h8M1926 717h8M836 704h8M2187 952h8M900 687h8M1865 730h8M829 1003h8M2124 953h8M1401 959h8M1119 717h8M1493 976h8M984 657h8M864 715h8M2092 719h8M1304 1023h8M2405 677h8M983 645h8M1506 964h8M529 733h8M2749 702h8M2132 991h8M2547 972h8M1627 992h8M612 723h8M2797 703h8M868 724h8M2673 1000h8M669 693h8M1817 673h8M1698 1024h8M2808 976h8M2723 682h8M993 722h8M1513 964h8M525 956h8M1835 642h8M1385 723h8M1376 703h8M1263 1025h8M2464 952h8M929 716h8M1406 963h8M2688 960h8M572 968h8M2280 958h8M2069 970h8M2645 727h8M2362 976h8M1018 646h8M960 971h8M832 1003h8M2291 976h8M1584 700h8M1480 971h8M2341 956h8M2369 979h8M1264 994h8M2755 952h8M2203 732h8M1732 689h8M1935 1004h8M1218 715h8M1949 723h8M998 690h8M2688 726h8M1207 700h8M1761 956h8M1406 708h8M833 699h8M2051 666h8M2457 658h8M1373 673h8M2673 993h8M1103 965h8M1389 722h8M1100 718h8M2306 703h8M2359 960h8M680 959h8M835 725h8M2227 989h8M2599 732h8M659 958h8M1086 1012h8M2662 959h8M1821 728h8M1648 964h8M2436 680h8M1789 714h8M1707 985h8M1729 955h8M1388 974h8M1637 703h8M1498 687h8M2545 684h8M1667 996h8M1317 982h8M2363 705h8M2234 985h8M1039 961h8M1684 973h8M2284 669h8M947 956h8M1984 1040h8M2080 1033h8M1924 713h8M1878 709h8M823 710h8M2193 683h8M962 951h8M2594 988h8M2763 951h8M851 953h8M2202 727h8M1997 971h8M1797 687h8M2824 726h8M1332 997h8M1096 953h8M2455 1051h8M1270 979h8M1916 733h8M570 997h8M803 988h8M2254 962h8M1509 687h8M855 675h8M656 715h8M2367 971h8M1942 958h8M1850 732h8M2385 993h8M1348 706h8M2631 968h8M2375 953h8M1351 969h8M1674 727h8M965 729h8M1408 698h8M1650 951h8M807 712h8M606 964h8M2761 956h8M1691 671h8M1477 965h8M1970 1017h8M990 952h8M1535 692h8M600 963h8M1175 964h8M812 728h8M1031 960h8M2596 721h8M1093 730h8M2061 1025h8M2601 981h8M2606 952h8M1660 659h8M789 973h8M2081 955h8M2695 956h8M2687 982h8M646 999h8M1404 718h8M746 973h8M846 996h8M1951 993h8M2367 979h8M2270 969h8M1131 962h8M1317 974h8M1507 732h8M859 985h8M1267 1057h8M1516 725h8M997 657h8M2284 693h8M1505 727h8M1353 729h8M2770 983h8M2084 728h8M2011 729h8M1475 963h8M2168 721h8M2112 712h8M2818 997h8M1150 687h8M2095 956h8M2294 683h8M2017 708h8M2767 658h8M1271 729h8M2667 697h8M2734 975h8M1494 727h8M2773 961h8M2631 693h8M705 679h8M765 954h8M1980 730h8M1926 955h8M918 1035h8M603 1025h8M774 962h8M908 717h8M2758 1004h8M2714 978h8M2254 682h8M686 649h8M2632 1040h8M1922 1064h8M1310 673h8M2713 957h8M1522 722h8M2695 973h8M1911 683h8M1353 717h8M779 708h8M2017 714h8M1487 704h8M585 688h8M677 661h8M2493 972h8M1512 721h8M2571 693h8M2805 731h8M1054 967h8M851 692h8M2328 719h8M2117 692h8M1665 956h8M2702 1033h8M2772 704h8M1460 729h8M2010 667h8M1978 969h8M950 725h8M1181 692h8M1607 988h8M2436 728h8M917 977h8M987 962h8M2387 730h8M1045 688h8M1874 1002h8M1444 728h8M1400 674h8M2077 697h8M769 660h8M1100 1047h8M1240 964h8M1496 731h8M2310 965h8M952 731h8M2511 964h8M2345 728h8M2489 999h8M1829 974h8M1427 961h8M2535 960h8M1699 710h8M882 981h8M1465 970h8M971 960h8M1260 954h8M2416 962h8M1121 702h8M1840 719h8M1156 957h8M806 980h8M1914 727h8M1473 977h8M2389 730h8M1588 718h8M2350 976h8M572 958h8M758 729h8M2832 709h8M1721 998h8M2002 1013h8M2551 731h8M1295 955h8M2201 957h8M881 965h8M823 969h8M1671 646h8M1143 1003h8M2013 687h8M1904 1013h8M642 689h8M1390 627h8M712 698h8M2065 671h8M1978 682h8M823 955h8M592 966h8M777 712h8M983 718h8M2264 631h8M1857 984h8M2418 974h8M578 704h8M1649 732h8M680 688h8M2119 704h8M1434 979h8M676 1019h8M1752 694h8M809 693h8M2127 709h8M1421 993h8M2591 728h8M1690 731h8M2766 706h8M785 720h8M1581 970h8M2606 721h8M2561 990h8M1121 718h8M1377 974h8M2090 729h8M989 957h8M2313 993h8M623 728h8M2811 965h8M1715 953h8M1070 716h8M1654 709h8M1786 998h8M1605 714h8M1910 701h8M2777 664h8M2750 967h8M881 1026h8M1275 1038h8M535 951h8M2558 700h8M1358 729h8M649 721h8M836 709h8M2115 726h8M2735 976h8M1043 708h8M1606 727h8M1795 969h8M2217 712h8M2523 978h8M661 1024h8M939 690h8M2368 695h8M1510 1014h8M553 984h8M2725 695h8M1616 701h8M1560 955h8M2106 966h8M1256 1035h8M1070 726h8M1386 715h8M2656 952h8M859 960h8M1977 719h8M871 991h8M1778 721h8M1214 973h8M1606 719h8M1129 982h8M584 675h8M1999 976h8M2072 951h8M2476 965h8M2807 954h8M1197 679h8M2188 955h8M1362 962h8M1512 951h8M1455 976h8M2621 731h8M715 963h8M739 1018h8M2774 980h8M1582 711h8M1333 696h8M2162 697h8M1048 1004h8M1007 1003h8M1108 690h8M2515 1029h8M2248 724h8M2660 720h8M1446 689h8M1198 711h8M1978 709h8M2461 958h8M1213 719h8M1224 699h8M2001 668h8M2353 964h8M1187 701h8M1982 988h8M1254 1004h8M1994 716h8M1130 962h8M2443 965h8M2173 961h8M891 687h8M2177 637h8M2688 963h8M2280 965h8M1929 719h8M2306 678h8M2145 955h8M1173 951h8M1691 692h8M2053 1015h8M1769 959h8M2421 973h8M660 966h8M1415 718h8M1507 711h8M2044 951h8M1090 717h8M2542 727h8M1103 691h8M633 725h8M637 957h8M1919 1016h8M2826 732h8M2215 1003h8M1983 970h8M1638 975h8M1716 954h8M850 729h8M2180 972h8M1592 1011h8M2491 994h8M1541 1029h8M2183 961h8M1430 973h8M2205 694h8M2127 976h8M567 723h8M2139 982h8M863 997h8M749 727h8M1249 721h8M1811 958h8M2578 678h8M1923 728h8M2793 953h8M1869 993h8M1880 729h8M2093 960h8M2603 660h8M1400 1012h8M1039 731h8M1172 1022h8M2228 728h8M1209 966h8M1971 690h8M2809 673h8M737 963h8M2036 728h8M1754 730h8M1632 679h8M1496 967h8M739 720h8M917 686h8M1077 976h8M2599 978h8M701 674h8M1322 729h8M1129 688h8M1525 698h8M1100 725h8M763 976h8M2717 1042h8M949 732h8M631 968h8M931 639h8M1985 968h8M1166 1015h8M1049 959h8M1486 1023h8M994 717h8M1955 641h8M2095 721h8M819 961h8M898 702h8M2300 966h8M1466 728h8M2664 712h8M2399 685h8M2708 971h8M1550 678h8M2534 968h8M2180 958h8M560 721h8M1971 708h8M2637 720h8M2311 951h8M719 956h8M786 1005h8M2043 707h8M2760 968h8M1410 686h8M1635 1004h8M837 970h8M2214 711h8M1698 963h8M1275 987h8M556 650h8M723 956h8M1968 960h8M2451 958h8M2147 969h8M1025 716h8M856 731h8M2121 968h8M930 724h8M1817 993h8M1737 995h8M2639 689h8M1748 680h8M1338 700h8M535 725h8M941 953h8M2532 1055h8M1446 733h8M1631 726h8M2059 954h8M1205 956h8M2646 956h8M1462 698h8M2154 724h8M1727 652h8M1415 978h8M2449 667h8M1149 960h8M1952 979h8M1158 723h8M2184 968h8M2209 959h8M2416 952h8M878 696h8M1672 706h8M745 976h8M868 1003h8M2678 1031h8M2396 994h8M1402 718h8M636 727h8M1794 951h8M1797 976h8M2313 963h8M2814 711h8M1289 731h8M2407 957h8M1387 719h8M2269 966h8M1669 978h8M2075 1009h8M571 954h8M1773 665h8M1967 701h8M804 998h8M2541 718h8M2248 954h8M2569 963h8M1007 974h8M1945 713h8M569 988h8M2216 969h8M812 725h8M539 960h8M1436 964h8M2660 719h8M2673 710h8M1290 730h8M2606 982h8M2684 721h8M576 675h8M1307 726h8M860 675h8M2679 729h8M1786 708h8M1663 681h8M2240 1000h8M1910 711h8M2353 725h8M1236 704h8M2845 965h8M2044 728h8M2202 697h8M1768 980h8M1515 971h8M2244 1009h8M2589 704h8M2112 714h8M527 711h8M2515 664h8M2130 1005h8M1713 973h8M1294 681h8M2805 695h8M995 715h8M1122 729h8M1722 695h8M1904 727h8M2680 956h8M869 989h8M2493 953h8M1122 1005h8M1926 960h8M2120 953h8M585 969h8M1919 1009h8M2660 721h8M817 976h8M606 1006h8M2482 954h8M1259 688h8M818 698h8M1465 670h8M721 643h8M2765 666h8M2538 952h8M2380 1056h8M582 962h8M1436 1016h8M2445 996h8M989 711h8M2312 958h8M1878 718h8M1084 720h8M2471 723h8M763 975h8M1133 684h8M1777 709h8M1047 1040h8M551 723h8M1872 969h8M1591 987h8M585 958h8M2224 969h8M1408 1013h8M1662 701h8M1347 958h8M2456 1077h8M829 712h8M1438 707h8M1327 614h8M1630 679h8M2559 1047h8M1190 724h8M1073 957h8M2185 1017h8M1024 699h8M2189 1030h8M1100 710h8M2435 698h8M524 1033h8M2492 956h8M1875 985h8M2614 961h8M2543 961h8M1379 969h8M2480 957h8M1077 724h8M2829 1047h8M2138 992h8M2811 701h8M1495 701h8M2346 724h8M2532 955h8M2254 698h8M1407 1029h8M1015 964h8M1614 1006h8M2288 971h8M2034 727h8M2842 694h8M2027 961h8M2539 959h8M1843 731h8M839 989h8M2052 731h8M2050 959h8M2690 667h8M2455 951h8M829 997h8M2244 717h8M1918 967h8M2043 968h8M667 721h8M1322 954h8M2753 965h8M2846 720h8M658 713h8M794 695h8M2737 963h8M2139 722h8M1125 731h8M753 728h8M2249 982h8M1787 681h8M823 955h8M1501 731h8M1602 726h8M978 998h8M2136 989h8M2735 996h8M1193 960h8M819 1002h8M919 724h8M1554 730h8M1160 1026h8M2805 1029h8M638 693h8M865 964h8M1299 1001h8M1484 723h8M1486 732h8M1538 988h8M2605 721h8M937 723h8M985 952h8M1913 998h8M2455 731h8M1438 966h8M787 951h8M2131 981h8M1194 722h8M1807 992h8M1085 728h8M917 968h8M1459 987h8M1365 955h8M2783 697h8M977 979h8M1711 965h8M1076 958h8M2264 1010h8M541 709h8M2322 958h8M1843 959h8M1154 695h8M916 730h8M525 704h8M1469 972h8M1392 982h8M1066 711h8M1561 972h8M1811 1037h8M2256 696h8M2341 965h8M1777 993h8M1880 967h8M1882 979h8M1289 984h8M1861 732h8M2809 707h8M2104 986h8M813 1046h8M2118 703h8M1917 1024h8M1244 692h8M1922 681h8M813 724h8M2210 955h8M2598 713h8M686 693h8M1254 688h8M1298 975h8M747 967h8M1932 976h8M2080 700h8M2053 964h8M1237 960h8M918 706h8M2310 711h8M1993 669h8M1924 680h8M754 984h8M1531 972h8M2641 699h8M2257 672h8M1334 965h8M603 731h8M1411 694h8M963 704h8M2391 723h8M2119 963h8M2097 981h8M1345 971h8M2016 723h8M2738 724h8M2752 718h8M1314 978h8M2445 986h8M2447 729h8M1019 732h8M2163 961h8M573 727h8M2353 1007h8M1897 995h8M2772 1011h8M1192 730h8M877 713h8M2663 953h8M1125 976h8M2445 981h8M1914 977h8M2503 722h8M892 723h8M2207 967h8M2714 964h8M1928 966h8M662 960h8M2297 988h8M1750 656h8M2816 976h8M2533 727h8M1991 730h8M2131 669h8M1960 660h8M2130 726h8M2066 710h8M1420 706h8M1642 961h8M1032 1024h8M1932 731h8M2193 985h8M1116 981h8M839 694h8M1154 971h8M1636 1017h8M665 639h8M2669 701h8M2836 953h8M793 706h8M2738 1005h8M1214 707h8M2070 980h8M1883 679h8M2052 710h8M2067 952h8M548 639h8M1362 688h8M1002 982h8M2087 975h8M849 1035h8M1080 717h8M1025 976h8M1164 974h8M1227 718h8M2311 709h8M2201 700h8M2584 640h8M2454 722h8M1524 958h8M1971 694h8M1749 996h8M2446 676h8M2039 990h8M1316 962h8M958 976h8M2390 729h8M2627 955h8M1782 658h8M2496 1018h8M1586 1009h8M2159 714h8M595 997h8M2702 966h8M1594 957h8M1710 974h8M1047 985h8M1289 709h8M741 651h8M1029 692h8M2186 993h8M1847 1023h8M2268 721h8M1546 721h8M1028 706h8M1389 694h8M1896 954h8M986 954h8M1014 1062h8M2362 978h8M2462 1011h8M2744 687h8M867 980h8M2164 971h8M684 958h8M890 952h8M647 971h8M1492 952h8M810 1001h8M1791 706h8M2362 987h8M1931 660h8M1103 975h8M1469 1009h8M1153 952h8M1168 725h8M1270 982h8M2104 955h8M2020 733h8M922 725h8M1326 697h8M1811 965h8M2781 963h8M1381 973h8M1669 984h8M1249 992h8M2585 684h8M2698 712h8M1966 658h8M1226 713h8M1301 730h8M1632 985h8M2534 713h8M2526 965h8M2568 678h8M2356 1014h8M1545 694h8M2446 679h8M1144 681h8M2208 953h8M1748 700h8M2068 721h8M1874 728h8M2583 693h8M2609 996h8M1801 709h8M1377 717h8M572 645h8M811 981h8M1628 995h8M1183 1000h8M1021 954h8M1288 1003h8M559 972h8M1119 719h8M1918 1043h8M893 726h8M581 681h8M2234 699h8M939 726h8M2733 962h8M879 705h8M1292 959h8M740 714h8M1996 651h8M958 962h8M2841 952h8M1556 722h8M2792 954h8M1773 1024h8M2252 955h8M1759 953h8M716 722h8M2585 688h8M2434 683h8M1461 963h8M597 961h8M1388 711h8M2393 715h8M2284 687h8M2050 724h8M1530 705h8M2136 719h8M1260 723h8M2145 721h8M2508 986h8M2721 953h8M2478 971h8M551 965h8M965 723h8M2789 994h8M2547 715h8M1605 958h8M1521 953h8M1588 963h8M2465 977h8M2731 729h8M532 970h8M938 966h8M1315 730h8M1752 967h8M1421 727h8M852 712h8M1422 712h8M2276 694h8M1649 733h8M2706 989h8M1585 660h8M1568 731h8M2412 634h8M567 1008h8M1079 1003h8M2253 715h8M1737 952h8M873 709h8M2578 693h8M1535 729h8M2730 1003h8M1822 972h8M2673 712h8M788 659h8M1051 683h8M2692 728h8M2829 985h8M1881 725h8M1575 960h8M1938 972h8M2534 962h8M1151 1004h8M601 1010h8M2138 951h8M2081 728h8M1720 961h8M569 669h8M1976 1011h8M2028 995h8M1395 720h8M1853 954h8M2103 636h8M863 959h8M2045 957h8M875 690h8M2569 978h8M760 720h8M2156 1007h8M920 955h8M2359 714h8M2501 709h8M1511 983h8M2438 729h8M1918 957h8M734 965h8M2706 960h8M1165 690h8M1433 962h8M2589 972h8M1033 952h8M1951 700h8M1843 965h8M1843 963h8M1025 975h8M686 957h8M1020 1030h8M2756 677h8M2627 998h8M2815 954h8M1420 706h8M1174 994h8M2746 956h8M2581 720h8M1404 957h8M642 684h8M2698 729h8M860 719h8M1520 969h8M2281 982h8M1248 955h8M1387 733h8M537 1014h8M1912 996h8M1146 732h8M529 711h8M1899 1007h8M1203 702h8M952 612h8M1408 1039h8M673 650h8M1184 728h8M893 999h8M2623 956h8M1341 958h8M639 684h8M2183 963h8M2318 733h8M1275 978h8M1954 687h8M1904 673h8M2450 701h8M2711 723h8M2520 696h8M2721 690h8M1183 730h8M761 965h8M2012 989h8M2194 990h8M1324 663h8M2778 966h8M1142 713h8M2521 654h8M2193 996h8M2283 972h8M1958 1021h8M1374 704h8M2433 711h8M2126 975h8M2059 661h8M908 714h8M2480 951h8M2022 659h8M1136 701h8M1525 952h8M534 965h8M804 712h8M1137 704h8M1704 953h8M1139 973h8M2656 1058h8M1766 718h8M676 984h8M2153 965h8M665 716h8M2428 967h8M2068 1005h8M829 713h8M2733 978h8M1125 728h8M2551 956h8M527 987h8M1246 727h8M1871 708h8M680 979h8M1230 729h8M2704 974h8M2174 719h8M2676 986h8M2384 704h8M1421 1056h8M598 652h8M2703 723h8M2437 727h8M2274 1004h8M2241 697h8M2269 975h8M2643 982h8M1590 721h8M2022 1016h8M804 963h8M1273 729h8M2618 709h8M1751 969h8M2015 971h8M2086 720h8M939 720h8M2578 713h8M820 706h8M2419 970h8M2734 719h8M2123 986h8M2214 997h8M2183 1019h8M1322 1085h8M702 954h8M2503 959h8M917 952h8M1477 955h8M1944 682h8M1170 977h8M1449 993h8M1067 952h8M1420 953h8M1712 731h8M1265 726h8M2718 982h8M2066 971h8M1542 972h8M1365 984h8M598 668h8M2621 703h8M1246 952h8M1375 713h8M740 973h8M896 692h8M2257 956h8M2836 1012h8M1887 693h8M1957 665h8M779 709h8M1932 1012h8M2516 732h8M2108 683h8M777 689h8M1171 971h8M735 967h8M1236 960h8M2519 993h8M646 985h8M1466 1025h8M849 721h8M2702 729h8M2134 953h8M594 710h8M2022 976h8M1778 956h8M816 709h8M2508 731h8M2184 730h8M2222 979h8M593 727h8M2231 974h8M2774 700h8M1807 990h8M1742 732h8M1595 957h8M2027 994h8M1045 1063h8M2353 953h8M2383 964h8M1281 960h8M1410 676h8M2345 659h8M1534 967h8M1620 1002h8M1159 650h8M1871 955h8M1639 710h8M1633 714h8M1727 966h8M1804 959h8M2634 706h8M2233 684h8M714 717h8M1971 1007h8M863 972h8M1149 707h8M2484 1033h8M1071 718h8M2814 701h8M1749 959h8M2807 953h8M1955 962h8M2716 673h8M2321 961h8M986 724h8M527 1059h8M1821 720h8M1312 718h8M609 710h8M2629 718h8M2692 960h8M1547 966h8M799 981h8M1521 721h8M2128 963h8M2662 679h8M2172 640h8M747 698h8M982 657h8M2061 1052h8M715 666h8M1815 955h8M2512 970h8M2352 721h8M1973 996h8M2212 952h8M1624 1005h8M2034 994h8M1709 705h8M805 954h8M2692 962h8M2291 959h8M2745 680h8M564 612h8M2135 648h8M2804 698h8M1599 973h8M1331 969h8M1204 988h8M2400 732h8M996 724h8M2246 699h8M2368 723h8M2548 976h8M1908 725h8M1356 710h8M1993 678h8M2651 699h8M853 972h8M985 957h8M2372 707h8M1169 980h8M2017 727h8M2777 968h8M2520 626h8M2229 722h8M2617 992h8M2469 984h8M870 728h8M1811 694h8M2097 959h8M2569 731h8M1488 962h8M1323 671h8M1563 716h8M2288 1046h8M1101 731h8M1358 720h8M2076 960h8M633 733h8M2374 957h8M2732 656h8M2385 702h8M2711 1119h8M2072 733h8M2382 973h8M1857 697h8M1961 977h8M697 1023h8M1263 985h8M1418 971h8M850 982h8M1346 695h8M2073 987h8M1090 959h8M2120 692h8M1589 1007h8M894 953h8M1458 697h8M1324 696h8M2665 684h8M530 988h8M2623 727h8M1913 711h8M1086 951h8M1566 722h8M667 965h8M1202 702h8M1565 956h8M2562 1020h8M1599 966h8M586 722h8M2751 961h8M1979 701h8M855 715h8M2191 683h8M569 986h8M956 721h8M1829 956h8M2747 708h8M2540 715h8M2657 689h8M1449 687h8M2161 1010h8M2018 959h8M2171 988h8M2441 997h8M2803 679h8M1689 723h8M2834 980h8M2205 955h8M1068 977h8M1527 953h8M2119 714h8M2327 715h8M907 657h8M2752 704h8M1210 686h8M1313 1025h8M1205 724h8M2499 952h8M2470 979h8M1430 678h8M2555 677h8M843 659h8M1579 729h8M2296 997h8M2543 664h8M1782 686h8M553 669h8M2601 956h8M2237 976h8M978 715h8M1432 712h8M2601 704h8M2221 973h8M2307 972h8M2845 722h8M2200 718h8M2711 984h8M1836 999h8M1472 989h8M2272 704h8M2707 980h8M1192 982h8M1388 697h8M864 716h8M2636 963h8M1836 958h8M553 995h8M1797 951h8M2240 965h8M2630 959h8M2556 1056h8M2308 706h8M2507 1016h8M1395 959h8M2063 701h8M1271 955h8M2730 952h8M733 730h8M1913 707h8M2543 954h8M1729 714h8M2759 692h8M1134 980h8M2076 664h8M2486 727h8M2088 1030h8M2123 951h8M1857 698h8M602 958h8M2418 731h8M2313 956h8M1821 731h8M2165 1006h8M1751 965h8M613 703h8M1074 983h8M837 1004h8M2215 991h8M2158 709h8M1243 1015h8M2264 960h8M1499 967h8M749 983h8M1440 731h8M1768 1006h8M1211 969h8M1650 993h8M651 681h8M1014 710h8M2244 645h8M1244 1006h8M756 701h8M2623 701h8M2676 1059h8M2420 954h8M1030 959h8M1063 676h8M1458 989h8M2354 971h8M1293 952h8M1823 1032h8M2848 694h8M2799 714h8M1122 954h8M659 641h8M1843 680h8M2696 1017h8M1521 953h8M2358 1005h8M989 668h8M703 727h8M1299 728h8M2063 728h8M1832 718h8M1807 957h8M1162 956h8M1641 722h8M1305 971h8M865 706h8M989 715h8M819 724h8M1461 957h8M1735 959h8M1768 726h8M2372 725h8M2323 960h8M1890 998h8M1713 697h8M2192 969h8M2581 964h8M1490 690h8M1321 708h8M2425 672h8M1639 969h8M1744 707h8M2457 975h8M1942 673h8M1045 960h8M2451 716h8M2516 960h8M1727 973h8M2388 958h8M882 688h8M880 971h8M1954 1008h8M2013 725h8M2468 714h8M1703 967h8M1574 731h8M2318 705h8M2332 976h8M1153 705h8M902 958h8M1476 729h8M1545 721h8M899 726h8M1124 696h8M677 732h8M2296 704h8M2067 700h8M2145 969h8M2733 972h8M1682 971h8M1317 1008h8M975 729h8M1025 682h8M2402 956h8M2352 1029h8M1326 952h8M1485 715h8M2190 954h8M567 969h8M2083 1026h8M1824 695h8M1365 732h8M2160 989h8M2375 1004h8M1969 720h8M1836 729h8M2604 1001h8M2744 967h8M2215 733h8M2050 964h8M2430 715h8M996 952h8M2184 726h8M1308 714h8M803 733h8M2193 957h8M2219 677h8M2779 956h8M1478 726h8M1969 995h8M593 961h8M956 978h8M963 727h8M2248 718h8M876 958h8M2592 720h8M1811 719h8M2155 953h8M2137 715h8M2413 720h8M1776 1018h8M1813 1018h8M2025 975h8M2066 1010h8M2126 973h8M1149 954h8M2192 722h8M1955 730h8M589 972h8M2654 954h8M2717 691h8M2125 1034h8M2691 970h8M2637 1029h8M2414 720h8M2228 968h8M2648 989h8M2479 1012h8M2105 966h8M1058 718h8M2408 952h8M2025 667h8M1648 672h8M1583 970h8M687 1010h8M2690 722h8M1082 975h8M1309 688h8M984 695h8M1456 707h8M2789 1013h8M2168 964h8M1200 687h8M2798 721h8M2395 970h8M618 715h8M2479 982h8M1308 718h8M1261 951h8M2063 976h8M986 958h8M575 976h8M1209 962h8M1010 729h8M1963 958h8M1523 692h8M2628 722h8M1779 957h8M1206 666h8M921 969h8M788 976h8M928 958h8M1029 954h8M2839 728h8M1277 720h8M1474 958h8M2135 971h8M2125 716h8M2242 732h8M935 712h8M1306 952h8M1316 710h8M853 962h8M2248 683h8M1533 955h8M1279 957h8M2841 953h8M638 708h8M723 719h8M1317 706h8M1863 980h8M1155 956h8M2074 990h8M789 956h8M1109 724h8M1852 722h8M2514 654h8M1307 959h8M742 972h8M1300 668h8M2659 978h8M1905 729h8M1982 666h8M2122 692h8M660 961h8M2383 981h8M841 712h8M1436 977h8M996 704h8M1693 955h8M2213 972h8M827 976h8M903 983h8M1474 960h8M1152 978h8M2698 697h8M2350 977h8M2129 689h8M1516 989h8M2827 731h8M1257 953h8M1570 709h8M1627 961h8M2584 957h8M1439 981h8M627 968h8M2700 954h8M2756 1041h8M2759 1002h8M1999 719h8M625 954h8M1713 1015h8M1961 958h8M2348 704h8M702 953h8M2291 1031h8M1685 708h8M1638 1028h8M2736 964h8M1314 964h8M1480 989h8M942 957h8M962 732h8M1945 960h8M887 954h8M1396 957h8M1510 953h8M1634 707h8M1003 1021h8M2128 956h8M1164 1032h8M880 706h8M851 974h8M1209 964h8M1987 952h8M1736 965h8M1671 1018h8M1897 722h8M1551 705h8M1982 1040h8M576 729h8M2246 684h8M1902 728h8M1440 956h8M1254 1040h8M2288 999h8M1502 971h8M856 976h8M2791 609h8M844 966h8M1377 957h8M1404 1020h8M1414 964h8M753 975h8M1086 730h8M2007 729h8M2271 696h8M1172 726h8M1299 962h8M2561 684h8M1703 953h8M2560 705h8M2303 968h8M2367 968h8M552 720h8M1633 952h8M1712 966h8M2001 720h8M1839 953h8M1586 663h8M1947 728h8M2316 662h8M1176 972h8M2166 952h8M1515 989h8M2497 731h8M2077 1035h8M1306 729h8M712 955h8M1000 702h8M2184 687h8M520 721h8M1389 967h8M682 728h8M2739 705h8M919 730h8M819 677h8M2029 716h8M2730 962h8M2819 720h8M1022 974h8M797 729h8M786 723h8M1911 966h8M1609 694h8M2740 724h8M823 974h8M2195 728h8M2039 959h8M2014 686h8M2772 677h8M601 713h8M2016 725h8M2767 721h8M2321 709h8M2734 693h8M913 711h8M867 698h8M1777 954h8M823 728h8M1500 712h8M2593 956h8M666 692h8M1190 994h8M1711 705h8M1421 976h8M2469 682h8M1197 961h8M1766 673h8M1028 726h8M1991 716h8M2558 724h8M1000 728h8M1363 695h8M2652 972h8M843 1004h8M2808 968h8M1205 972h8M2546 693h8M1978 717h8M2830 976h8M1466 959h8M1733 712h8M2653 728h8M674 710h8M1863 1023h8M1426 696h8M1798 961h8M774 980h8M1420 984h8M2622 960h8M2244 700h8M1285 719h8M1956 726h8M2376 730h8M2513 956h8M1358 704h8M2027 718h8M1875 682h8M1479 729h8M538 1023h8M1795 1013h8M775 1035h8M2631 1037h8M2225 962h8M1957 723h8M1613 955h8M1161 726h8M2267 1028h8M1363 970h8M2001 957h8M2396 1046h8M1352 992h8M550 716h8M1303 678h8M865 688h8M1664 999h8M2151 973h8M1625 1007h8M2536 714h8M2129 729h8M1989 990h8M1935 975h8M1299 986h8M824 976h8M1582 671h8M2573 959h8M2593 953h8M2339 665h8M1537 951h8M2779 669h8M990 721h8M1286 962h8"/>
<path transform="scale(0.1)" stroke="#000" stroke-opacity="0.5" stroke-width="8" fill="none" d="M2521 731h8M2561 983h8M2752 669h8M1367 955h8M2319 958h8M717 1005h8M1496 961h8M1947 975h8M1811 732h8M2531 730h8M2460 969h8M1691 976h8M2468 956h8M2133 694h8M2621 695h8M1819 719h8M570 1019h8M1040 717h8M2732 698h8M2412 713h8M1283 702h8M1096 724h8M1113 960h8M2622 951h8M2352 726h8M1661 987h8M2282 967h8M2067 703h8M1135 970h8M1574 692h8M1971 962h8M2443 693h8M2720 722h8M1542 958h8M1450 952h8M1507 961h8M2147 713h8M1518 973h8M1136 704h8M1010 687h8M2107 984h8M2022 728h8M1860 970h8M717 968h8M2844 732h8M2832 652h8M2591 672h8M2606 731h8M704 960h8M530 698h8M624 684h8M2698 644h8M808 727h8M675 725h8M1404 701h8M1427 992h8M1712 719h8M2439 981h8M1035 988h8M2396 676h8M673 718h8M2190 702h8M1128 1004h8M1194 728h8M584 957h8M964 712h8M1320 720h8M1471 730h8M1113 694h8M2555 713h8M1706 685h8M2544 711h8M2102 713h8M2247 967h8M2239 725h8M1178 675h8M2568 718h8M1422 631h8M2202 708h8M869 686h8M2031 712h8M2314 684h8M1119 672h8M2090 708h8M1040 702h8M2250 963h8M902 974h8M1961 953h8M2390 677h8M2413 956h8M928 733h8M1864 699h8M1438 963h8M778 1003h8M1947 687h8M1771 1011h8M980 712h8M773 956h8M1898 728h8M738 953h8M1198 702h8M1469 973h8M1981 968h8M1898 992h8M2083 680h8M1041 691h8M2520 1048h8M1930 705h8M573 693h8M2774 720h8M2066 717h8M1892 659h8M1316 690h8M2208 981h8M1735 979h8M679 966h8M2189 709h8M1401 717h8M1313 724h8M2755 717h8M854 979h8M2377 730h8M1345 715h8M1675 977h8M2676 729h8M1338 727h8M1397 965h8M2846 1021h8M951 1029h8M586 718h8M2145 970h8M2303 966h8M758 967h8M1647 957h8M2639 964h8M2428 997h8M2542 669h8M958 985h8M2409 1004h8M786 967h8M837 700h8M2450 724h8M1378 1033h8M2382 951h8M1051 989h8M605 723h8M2485 695h8M1534 968h8M814 717h8M2017 965h8M1393 970h8M2496 962h8M1450 963h8M2369 712h8M1873 698h8M1973 1062h8M1287 731h8M690 725h8M1117 671h8M2496 732h8M1772 709h8M1829 970h8M1660 1001h8M1828 992h8M2584 727h8M2498 956h8M2672 732h8M2029 975h8M2049 697h8M1081 1006h8M598 968h8M1152 969h8M902 953h8M2051 699h8M903 727h8M2413 710h8M1758 726h8M697 727h8M2185 692h8M2751 707h8M951 972h8M756 725h8M1233 954h8M2336 956h8M800 677h8M1955 1001h8M2054 723h8M2090 985h8M2509 705h8M1058 714h8M1339 963h8M2345 971h8M1772 999h8M697 955h8M542 733h8M2182 975h8M2106 681h8M1572 952h8M2629 700h8M1644 986h8M682 1023h8M2000 961h8M2581 957h8M1520 699h8M1715 715h8M993 679h8M1837 726h8M1441 974h8M954 1011h8M1556 1019h8M2474 725h8M2309 966h8M2572 715h8M1609 725h8M623 732h8M1359 956h8M2278 659h8M1870 986h8M987 733h8M847 957h8M596 707h8M1113 989h8M1746 718h8M1958 723h8M2451 967h8M2837 964h8M1646 731h8M2672 954h8M1205 981h8M1740 713h8M2034 717h8M2811 655h8M1966 562h8M1657 992h8M2201 663h8M1104 961h8M1857 712h8M2006 1005h8M1585 717h8M2413 732h8M2199 958h8M971 686h8M621 983h8M2701 960h8M1260 954h8M1489 990h8M835 678h8M1189 952h8M659 968h8M2264 961h8M2331 664h8M2650 962h8M2393 711h8M1887 952h8M2152 716h8M1994 689h8M1437 730h8M2545 953h8M1998 963h8M1661 721h8M1937 722h8M567 963h8M1793 958h8M2748 724h8M1039 954h8M2101 676h8M1836 1052h8M1572 690h8M654 991h8M974 691h8M1440 720h8M1181 1006h8M1851 710h8M1601 987h8M2581 959h8M1013 954h8M2532 1005h8M1826 969h8M1163 649h8M1556 959h8M1473 728h8M1095 703h8M2578 700h8M1687 715h8M2047 709h8M1999 680h8M1432 964h8M2651 699h8M2300 1004h8M1064 684h8M967 676h8M2410 972h8M1508 711h8M1152 655h8M1587 709h8M1671 666h8M2744 707h8M530 729h8M1098 1010h8M2820 1009h8M960 955h8M2650 695h8M747 1034h8M2078 697h8M2578 984h8M837 652h8M909 683h8M2615 1011h8M1367 956h8M1014 962h8M1322 723h8M2126 700h8M697 958h8M1354 712h8M546 706h8M2034 960h8M2594 1049h8M739 718h8M1186 1014h8M2313 727h8M1443 959h8M2502 959h8M1050 727h8M1511 952h8M2690 726h8M1156 1013h8M1097 984h8M2849 702h8M1001 682h8M1229 719h8M2541 707h8M829 987h8M1216 953h8M1220 1027h8M1298 694h8M2240 1001h8M2503 978h8M1884 720h8M1378 958h8M868 708h8M2737 1004h8M882 957h8M2374 958h8M2329 689h8M621 974h8M934 654h8M1673 959h8M1167 705h8M2089 961h8M1413 726h8M1225 951h8M2015 962h8M2414 698h8M2314 957h8M1335 955h8M1035 1007h8M2185 968h8M1266 654h8M1642 723h8M769 638h8M2198 1014h8M856 718h8M1611 652h8M2303 689h8M2309 708h8M2045 979h8M714 720h8M2771 969h8M2339 1034h8M1509 728h8M604 702h8M763 974h8M962 680h8M2315 966h8M2271 687h8M526 988h8M1638 727h8M1946 1028h8M2793 724h8M1709 969h8M1634 975h8M1795 974h8M2025 968h8M2132 1001h8M2087 683h8M599 723h8M2183 732h8M593 958h8M1981 703h8M1141 718h8M916 702h8M1375 964h8M1826 956h8M1039 971h8M1464 703h8M1711 953h8M826 730h8M2683 709h8M1177 967h8M2723 1008h8M2710 727h8M1389 728h8M1235 733h8M2413 733h8M1584 975h8M1256 953h8M1560 731h8M1075 732h8M1334 986h8M1351 710h8M1828 682h8M540 985h8M1386 952h8M1354 980h8M2373 732h8M1207 967h8M1429 1023h8M1876 1069h8M1270 710h8M1958 1011h8M1832 958h8M2807 614h8M1103 965h8M785 732h8M727 713h8M717 980h8M1252 714h8M2546 990h8M1758 713h8M1016 632h8M2439 722h8M1016 723h8M1206 955h8M1608 975h8M1983 959h8M995 732h8M1186 960h8M1030 998h8M1638 706h8M2489 724h8M1476 693h8M2761 952h8M759 681h8M1125 686h8M1672 956h8M1810 976h8M1547 962h8M2539 713h8M1685 958h8M759 952h8M644 969h8M1366 993h8M2620 951h8M1394 964h8M2231 654h8M1497 666h8M1664 727h8M1005 976h8M2492 720h8M1527 695h8M1686 719h8M2265 732h8M2248 958h8M1312 953h8M731 995h8M2293 987h8M674 728h8M667 955h8M2537 722h8M2560 649h8M1669 988h8M1944 720h8M2076 709h8M1195 697h8M1316 953h8M1818 975h8M687 1000h8M1180 682h8M1439 704h8M1312 701h8M801 957h8M1160 717h8M2249 728h8M1117 682h8M2113 697h8M1987 716h8M1495 952h8M1947 954h8M2746 951h8M724 694h8M991 1017h8M940 964h8M1447 957h8M1387 730h8M957 732h8M1232 978h8M2610 975h8M1257 954h8M693 960h8M1702 953h8M1274 964h8M922 699h8M2770 689h8M609 728h8M943 965h8M1058 729h8M2649 683h8M942 719h8M1326 960h8M1045 700h8M1651 660h8M619 693h8M2478 704h8M1668 660h8M1491 1021h8M1737 976h8M2733 1009h8M2778 642h8M1952 705h8M1197 699h8M1694 727h8M1242 685h8M2238 1005h8M1918 709h8M2134 1033h8M693 959h8M2391 702h8M815 732h8M1426 953h8M1563 1012h8M835 673h8M856 974h8M2362 720h8M1451 1009h8M2586 997h8M2459 954h8M2753 715h8M973 1110h8M2557 705h8M1509 981h8M731 702h8M2050 966h8M806 974h8M677 722h8M618 728h8M2206 685h8M852 1019h8M927 958h8M1231 1000h8M1826 982h8M2242 993h8M1018 725h8M683 673h8M2559 675h8M1719 969h8M2747 699h8M2792 977h8M2560 990h8M2602 999h8M2486 984h8M2380 721h8M1251 641h8M2116 674h8M2191 1007h8M1209 702h8M1310 688h8M2850 727h8M2628 951h8M1395 728h8M719 957h8M1402 1052h8M2444 711h8M2302 1011h8M1994 723h8M1498 619h8M779 706h8M2386 973h8M2434 989h8M1722 1112h8M834 980h8M584 717h8M1438 964h8M2828 715h8M2477 713h8M578 962h8M2386 719h8M944 692h8M2315 731h8M1838 673h8M554 977h8M2261 714h8M1594 721h8M1754 956h8M2256 975h8M1190 968h8M592 676h8M1508 727h8M655 999h8M2042 963h8M1542 1029h8M1734 968h8M1606 966h8M1326 686h8M1650 962h8M1605 992h8M1442 972h8M2527 952h8M1044 727h8M2448 716h8M2189 732h8M813 718h8M2669 677h8M1884 978h8M1897 732h8M621 729h8M823 952h8M779 700h8M2297 970h8M1473 981h8M2725 721h8M656 963h8M622 729h8M2603 699h8M1396 719h8M1891 992h8M2048 957h8M2510 724h8M692 712h8M1791 713h8M758 701h8M2303 951h8M1025 954h8M1225 998h8M1868 1003h8M964 969h8M972 707h8M1453 629h8M2710 992h8M604 995h8M2600 952h8M2816 665h8M1597 954h8M1660 705h8M1446 973h8M1060 977h8M1897 650h8M1022 989h8M1901 682h8M597 710h8M1669 954h8M600 987h8M2041 955h8M2520 959h8M1677 973h8M862 959h8M1985 685h8M1694 717h8M2372 663h8M2578 705h8M1981 1000h8M2299 698h8M1149 671h8M638 982h8M1350 1041h8M1810 954h8M1072 660h8M964 727h8M1286 694h8M1736 714h8M2215 959h8M2313 649h8M1115 990h8M608 990h8M1609 968h8M724 986h8M2548 705h8M2105 956h8M2447 614h8M1463 732h8M583 960h8M2609 730h8M2328 954h8M2732 958h8M1203 969h8M1066 961h8M1880 973h8M2736 725h8M1410 714h8M2523 1003h8M875 997h8M1914 721h8M1048 971h8M2339 954h8M2591 715h8M649 707h8M1313 700h8M661 704h8M543 692h8M1677 966h8M769 990h8M2733 728h8M2390 959h8M1693 954h8M672 962h8M1555 1057h8M777 986h8M775 694h8M916 964h8M1374 974h8M1809 717h8M1288 718h8M1605 960h8M2632 999h8M2562 953h8M1979 1072h8M1844 981h8M2376 694h8M1604 691h8M1531 725h8M1578 1012h8M2011 719h8M691 1009h8M2804 704h8M2026 977h8M1160 701h8M807 658h8M1263 962h8M1374 721h8M2471 988h8M2198 727h8M1292 963h8M2642 963h8M2762 718h8M2432 667h8M1155 998h8M1560 967h8M1643 653h8M981 1003h8M2316 692h8M2393 991h8M780 724h8M685 987h8M2030 983h8M1977 1011h8M2078 974h8M2594 715h8M1461 971h8M2250 683h8M1786 713h8M2435 957h8M1207 1054h8M2428 725h8M2044 686h8M954 695h8M2116 982h8M789 723h8M2586 579h8M1051 957h8M1121 979h8M599 698h8M1925 702h8M1910 992h8M987 974h8M1794 1028h8M1837 958h8M2296 725h8M1513 993h8M648 951h8M1824 956h8M1218 714h8M634 986h8M2349 989h8M1730 719h8M921 959h8M805 1027h8M2798 994h8M622 726h8M2722 958h8M560 984h8M1224 954h8M1646 728h8M2119 705h8M1545 702h8M677 733h8M1218 970h8M990 987h8M2773 659h8M1416 699h8M2763 667h8M1306 961h8M2383 733h8M1418 967h8M968 990h8M1992 709h8M950 728h8M2482 680h8M1856 731h8M2531 633h8M696 985h8M1568 998h8M2539 982h8M2112 710h8M1157 707h8M1100 992h8M2430 971h8M1801 953h8M745 707h8M1167 960h8M2409 961h8M2148 973h8M964 726h8M2291 733h8M1498 712h8M2150 969h8M1156 720h8M846 972h8M1522 727h8M1784 724h8M1098 711h8M2496 955h8M1766 726h8M2372 961h8M912 733h8M1711 1018h8M1810 965h8M2652 961h8M1762 716h8M1898 957h8M1923 708h8M1542 720h8M605 961h8M2206 981h8M954 957h8M2616 969h8M2829 987h8M1840 686h8M568 706h8M1467 969h8M1098 724h8M2159 952h8M1053 676h8M707 958h8M2592 955h8M848 717h8M1960 993h8M1025 716h8M2068 1058h8M2371 999h8M2743 958h8M1521 685h8M1120 975h8M1160 964h8M656 960h8M1051 981h8M584 723h8M2132 971h8M2169 1002h8M2450 993h8M634 728h8M1622 980h8M529 959h8M1357 702h8M1551 954h8M1266 705h8M1148 981h8M1797 702h8M2344 953h8M1536 1001h8M765 997h8M2660 726h8M1154 959h8M1800 956h8M1212 957h8M2528 967h8M1418 683h8M1226 712h8M1776 968h8M1573 689h8M2339 732h8M2218 997h8M1714 1011h8M2137 972h8M1966 714h8M2614 713h8M1415 955h8M1333 969h8M1592 666h8M1536 951h8M978 718h8M2072 973h8M1051 667h8M2313 972h8M1991 705h8M1881 985h8M2124 733h8M1296 968h8M1533 971h8M1192 690h8M706 724h8M765 969h8M1625 698h8M2476 725h8M1258 973h8M2773 958h8M937 992h8M1263 962h8M2830 993h8M558 1017h8M2741 961h8M1699 964h8M619 679h8M1601 961h8M1862 647h8M1409 718h8M2130 962h8M2798 716h8M2077 1018h8M1558 980h8M2494 1011h8M1467 674h8M2749 965h8M2338 996h8M956 724h8M655 729h8M889 674h8M2717 690h8M1181 959h8M1349 956h8M2034 726h8M1424 967h8M2482 675h8M1248 712h8M1899 952h8M1213 974h8M1876 980h8M2121 670h8M2295 959h8M899 1008h8M1228 957h8M1429 733h8M2782 958h8M2348 731h8M2532 717h8M2668 728h8M755 976h8M1587 959h8M1912 723h8M640 729h8M2197 698h8M1855 711h8M2123 714h8M1985 700h8M1554 691h8M1553 984h8M1542 656h8M904 968h8M2042 671h8M2158 697h8M822 974h8M1185 702h8M850 952h8M1539 713h8M869 668h8M738 957h8M2350 729h8M1712 976h8M1375 1022h8M2081 718h8M2395 993h8M1773 715h8M1220 960h8M1553 707h8M2188 693h8M2088 1004h8M651 967h8M1373 674h8M1046 717h8M1370 965h8M699 1029h8M2301 968h8M970 992h8M2270 979h8M1118 991h8M2553 963h8M1002 965h8M2399 696h8M1241 1036h8M1052 989h8M1709 669h8M631 983h8M658 994h8M2113 676h8M948 700h8M1933 1050h8M779 957h8M1581 731h8M1489 700h8M2348 707h8M899 711h8M2360 966h8M1893 961h8M1201 700h8M2351 708h8M1828 711h8M970 1004h8M1892 992h8M1504 961h8M1643 995h8M2613 990h8M2216 728h8M2324 957h8M2211 732h8M2742 706h8M1991 1002h8M2415 717h8M692 959h8M655 674h8M1814 705h8M1461 654h8M2317 977h8M1680 1001h8M2083 978h8M842 977h8M2010 727h8M2062 961h8M2711 705h8M1265 1004h8M2654 966h8M2264 977h8M1133 966h8M2448 952h8M2640 952h8M2500 709h8M2238 968h8M2816 715h8M1395 955h8M1938 973h8M2567 643h8M1347 688h8M2775 661h8M2809 954h8M1070 722h8M921 717h8M1348 952h8M1794 731h8M2444 669h8M1485 716h8M2469 723h8M797 953h8M1496 663h8M927 980h8M2525 613h8M1459 701h8M2436 964h8M811 695h8M1276 711h8M2602 693h8M914 698h8M1206 960h8M2678 614h8M1855 704h8M2776 711h8M1325 701h8M1982 723h8M2425 1020h8M540 976h8M1882 730h8M2440 695h8M2160 719h8M1469 968h8M2001 649h8M2470 968h8M1700 726h8M1467 657h8M2313 729h8M2472 1006h8M1265 709h8M2832 957h8M2508 1022h8M1034 968h8M1072 984h8M998 647h8M1019 964h8M1762 970h8M993 725h8M2540 674h8M2281 726h8M1047 711h8M1081 718h8M2521 1035h8M1534 981h8M2196 963h8M2332 969h8M1216 726h8M1064 707h8M1010 724h8M874 980h8M1608 726h8M1091 689h8M820 961h8M2636 995h8M1534 707h8M2059 732h8M2414 1012h8M2649 722h8M999 727h8M542 970h8M1469 719h8M2341 971h8M2114 1003h8M2524 728h8M841 713h8M1993 698h8M1086 965h8M2833 724h8M2306 975h8M2166 996h8M524 729h8M1764 964h8M2577 722h8M1675 984h8M1902 725h8M1705 718h8M1404 712h8M1635 694h8M1327 700h8M1642 659h8M1801 717h8M1389 1002h8M1051 729h8M2821 953h8M816 703h8M2322 659h8M2485 723h8M2409 1016h8M1578 1019h8M1368 724h8M816 716h8M2726 713h8M707 991h8M2235 728h8M1388 721h8M2718 708h8M874 655h8M2595 1080h8M1562 731h8M1381 979h8M866 718h8M2392 959h8M651 1026h8M1001 970h8M1824 726h8M2396 951h8M1581 721h8M1111 712h8M681 702h8M1307 951h8M2069 702h8M1702 952h8M1288 724h8M725 952h8M1394 716h8M1679 982h8M1294 969h8M951 714h8M1259 722h8M814 728h8M2647 708h8M2603 967h8M2068 593h8M1582 970h8M1587 651h8M2356 1012h8M2650 1002h8M2459 715h8M903 957h8M1535 965h8M2805 723h8M1075 985h8M620 972h8M1605 705h8M2056 707h8M1294 955h8M1133 964h8M933 696h8M1180 717h8M2630 723h8M1564 713h8M1098 979h8M2185 686h8M2116 702h8M1019 955h8M1431 952h8M2563 728h8M989 959h8M2125 716h8M2095 728h8M1987 732h8M1884 722h8M950 726h8M925 723h8M970 716h8M1090 708h8M892 966h8M551 968h8M2819 678h8M574 721h8M2124 977h8M2006 992h8M988 992h8M1420 683h8M2748 966h8M820 710h8M1565 964h8M2808 692h8M1123 721h8M2084 733h8M2560 732h8M2806 698h8M1049 965h8M2756 621h8M1688 726h8M2795 975h8M2006 992h8M2634 963h8M1509 692h8M2593 1021h8M2224 1002h8M2488 732h8M1241 984h8M1614 990h8M2403 639h8M937 701h8M2628 728h8M1741 645h8M2185 984h8M1793 975h8M1341 725h8M2569 980h8M1069 709h8M1113 1006h8M1583 730h8M1064 979h8M1477 959h8M1523 728h8M2426 707h8M533 984h8M2319 647h8M1060 727h8M2645 715h8M965 723h8M2431 1001h8M2819 732h8M1908 665h8M1524 728h8M2199 707h8M1785 973h8M669 672h8M628 712h8M1320 963h8M802 723h8M2604 725h8M1231 980h8M1958 951h8M1966 702h8M1735 982h8M2687 716h8M1741 968h8M1007 693h8M2531 958h8M1551 696h8M2051 993h8M2564 709h8M1632 1010h8M1560 953h8M1106 669h8M836 729h8M1304 731h8M1288 684h8M1907 981h8M2641 731h8M2055 731h8M2454 967h8M1736 973h8M1577 723h8M2793 731h8M766 729h8M1302 961h8M1273 668h8M1343 1069h8M2552 984h8M562 722h8M1838 704h8M1629 696h8M2120 1039h8M2683 979h8M846 703h8M733 977h8M1922 691h8M914 964h8M820 729h8M2006 625h8M2370 703h8M2673 721h8M2117 968h8M2837 956h8M1543 990h8M965 952h8M2012 1006h8M2246 717h8M929 709h8M1198 995h8M1150 729h8M2143 731h8M523 674h8M1650 987h8M1301 965h8M2137 1061h8M1534 719h8M1759 714h8M1690 958h8M1457 1012h8M2186 607h8M2611 726h8M1449 1034h8M926 719h8M2312 970h8M1386 715h8M591 980h8M2700 692h8M524 958h8M1283 1059h8M1132 1037h8M1050 729h8M2797 994h8M1731 722h8M583 969h8M2164 1040h8M2131 695h8M2189 999h8M2694 968h8M1793 665h8M1385 981h8M1080 993h8M1898 730h8M657 716h8M2025 959h8M1176 709h8M1412 955h8M1360 694h8M1415 989h8M575 999h8M1873 711h8M1554 953h8M2408 1000h8M2271 653h8M2116 952h8M2302 959h8M2761 710h8M1365 954h8M2199 689h8M547 977h8M1926 1053h8M1796 732h8M966 732h8M1420 984h8M1537 722h8M1452 960h8M2393 984h8M1810 702h8M607 712h8M1529 693h8M1110 978h8M709 990h8M1795 698h8M2433 654h8M2350 726h8M1970 1057h8M1061 721h8M669 712h8M1939 663h8M1852 683h8M2038 979h8M1354 959h8M2025 988h8M714 1040h8M2244 970h8M1464 1011h8M1632 972h8M1407 647h8M1870 958h8M1522 713h8M1163 1031h8M2574 979h8M1792 985h8M2259 967h8M2325 727h8M1448 707h8M2406 677h8M2021 722h8M1509 1002h8M1604 713h8M2443 721h8M2642 732h8M571 954h8M2090 725h8M1984 704h8M2649 958h8M657 1009h8M2345 992h8M700 701h8M2126 703h8M2753 701h8M1049 964h8M2696 962h8M2819 719h8M826 952h8M2366 708h8M2333 1001h8M1261 654h8M1635 1012h8M2577 985h8M1802 721h8M1692 1044h8M1400 963h8M2394 967h8M2110 955h8M599 1007h8M2812 720h8M1237 730h8M549 724h8M1317 1015h8M1001 729h8M1188 954h8M1223 1014h8M1208 680h8M1158 976h8M2732 661h8M2552 667h8M2779 954h8M1320 1017h8M2553 729h8M2205 965h8M1249 995h8M2193 727h8M2308 711h8M1685 640h8M679 695h8M795 1035h8M2661 972h8M1806 958h8M1630 706h8M627 636h8M2133 954h8M804 721h8M2780 720h8M1041 711h8M2441 667h8M2691 954h8M1808 708h8M622 682h8M1501 716h8M657 1021h8M881 712h8M1147 722h8M588 694h8M2640 1013h8M2053 680h8M2824 732h8M825 708h8M1959 993h8M1990 960h8M1652 1022h8M818 974h8M2048 982h8M731 679h8M2478 959h8M967 703h8M1754 970h8M2461 999h8M2320 967h8M1717 978h8M547 989h8M707 963h8M1178 960h8M1062 712h8M2127 1046h8M1525 1023h8M1394 709h8M1656 956h8M2199 997h8M2445 977h8M2106 731h8M1695 648h8M774 1015h8M540 964h8M2106 703h8M955 732h8M2651 712h8M691 686h8M1753 692h8M2798 1016h8M1050 677h8M885 727h8M907 732h8M2347 963h8M1122 722h8M1211 985h8M1005 987h8M1838 993h8M545 967h8M2778 1013h8M1713 969h8M1154 970h8M926 631h8M2514 978h8M1183 686h8M2471 958h8M2478 1009h8M1335 1055h8M954 998h8M2509 1006h8M2680 718h8M2684 1020h8M2236 1002h8M1927 970h8M945 656h8M2644 974h8M2737 706h8M1683 998h8M1905 985h8M2140 707h8M898 975h8M748 730h8M1298 980h8M2690 1004h8M2185 965h8M1475 977h8M2757 727h8M2510 953h8M2120 972h8M2698 730h8M2778 957h8M2800 1041h8M2589 994h8M1160 1021h8M1891 700h8M597 732h8M2658 984h8M998 1065h8M699 727h8M2841 1030h8M566 971h8M1727 732h8M1946 728h8M1877 681h8M694 958h8M730 700h8M1152 959h8M2159 977h8M2198 976h8M2671 684h8M1350 1047h8M612 954h8M1134 665h8M2509 656h8M2375 687h8M1873 954h8M2700 684h8M1789 957h8M1245 982h8M640 972h8M2844 960h8M2771 971h8M2435 731h8M1676 972h8M1330 1053h8M2462 684h8M1547 978h8M2626 719h8M2826 706h8M2570 723h8M2122 716h8M2762 665h8M1352 725h8M1688 689h8M2797 1006h8M1824 952h8M1402 981h8M2750 698h8M621 1003h8M1015 983h8M2734 979h8M1930 721h8M2746 716h8M676 731h8M1031 961h8M1783 979h8M1337 951h8M2517 1001h8M2507 964h8M1624 719h8M655 963h8M766 987h8M1920 713h8M1418 989h8M2735 719h8M1735 965h8M980 1031h8M2506 724h8M2461 722h8M1049 716h8M2531 1027h8M809 969h8M537 675h8M2591 715h8M1528 665h8M799 716h8M1061 976h8M2567 707h8M2269 994h8M1551 726h8M1047 699h8M1363 958h8M1420 965h8M1852 721h8M2205 727h8M560 965h8M1929 1013h8M2221 987h8M1954 732h8M1765 961h8M1121 712h8M1253 721h8M1209 706h8M2226 641h8M853 961h8M2530 951h8M2756 689h8M2036 689h8M844 968h8M1723 721h8M1657 960h8M2074 991h8M878 959h8M2819 663h8M1867 703h8M1839 990h8M1586 703h8M2781 952h8M1397 955h8M1037 703h8M811 727h8M950 717h8M1602 955h8M1188 723h8M1464 970h8M2122 724h8M1284 713h8M1869 731h8M710 703h8M1112 733h8M1937 721h8M521 980h8M786 690h8M2418 966h8M1734 716h8M2628 969h8M2116 649h8M1954 963h8M1985 959h8M1802 999h8M1344 708h8M1578 987h8M2541 698h8M806 710h8M1018 962h8M2661 721h8M2526 728h8M1165 730h8M1522 989h8M1941 727h8M1374 695h8M546 960h8M946 721h8M2315 1000h8M601 710h8M2026 733h8M1791 648h8M815 980h8M2671 721h8M2537 970h8M1509 695h8M1310 682h8M1727 730h8M2500 964h8M1498 958h8M2590 727h8M1984 716h8M1961 733h8M2817 669h8M602 980h8M1126 989h8M1567 702h8M1268 982h8M1395 682h8M608 1020h8M1084 983h8M2022 723h8M991 994h8M689 719h8M2716 727h8M1277 957h8M562 705h8M2113 957h8M1963 969h8M2128 719h8M1096 706h8M2251 1006h8M1082 962h8M730 967h8M1696 708h8M1773 664h8M2231 962h8M571 709h8M1649 1000h8M2169 714h8M937 952h8M2034 664h8M679 974h8M2510 702h8M1340 953h8M2597 665h8M1143 703h8M1351 704h8M1161 974h8M2226 1037h8M1553 722h8M854 676h8M2774 953h8M1062 953h8M713 726h8M2433 990h8M2715 691h8M1202 958h8M2156 955h8M768 674h8M692 959h8M631 957h8M2156 718h8M1031 958h8M1984 977h8M2095 954h8M2455 975h8M1301 1005h8M2055 690h8M2033 719h8M847 730h8M1384 952h8M663 728h8M1433 982h8M1583 710h8M2758 692h8M2458 957h8M1259 963h8M1600 719h8M1390 715h8M607 977h8M1587 962h8M710 727h8M1216 974h8M2497 979h8M990 975h8M1114 704h8M1897 727h8M2213 688h8M1345 698h8M2676 953h8M2184 982h8M1020 975h8M1866 679h8M1777 1000h8M1511 965h8M849 964h8M1285 958h8M2305 978h8M574 729h8M2744 953h8M1979 974h8M2714 726h8M2805 690h8M2217 972h8M1520 967h8M1305 719h8M2726 645h8M1947 974h8M1171 693h8M2807 729h8M629 688h8M1262 684h8M1108 1054h8M1084 697h8M2234 963h8M1832 982h8M2187 957h8M2364 730h8M2355 968h8M1799 727h8M2033 993h8M2530 959h8M1611 969h8M1887 732h8M1935 972h8M2446 691h8M2690 725h8M2647 979h8M1729 986h8M1670 1019h8M2325 716h8M1753 965h8M958 682h8M1789 961h8M2253 955h8M1287 970h8M1403 1016h8M2356 975h8M2542 964h8M980 656h8M753 983h8M732 693h8M2660 708h8M989 990h8M1341 989h8M875 714h8M2478 689h8M1905 971h8M976 730h8M2115 696h8M2073 978h8M1762 684h8M819 698h8M1964 1011h8M832 995h8M940 717h8M2498 713h8M1944 966h8M2058 968h8M2105 967h8M2688 968h8M2422 1006h8M743 1040h8M1050 716h8M2534 1005h8M2054 1014h8M1368 955h8M805 729h8M2487 688h8M2170 723h8M1947 1015h8M2347 724h8M591 1011h8M2292 1016h8M810 718h8M1840 717h8M566 731h8M1141 1009h8M1869 707h8M2224 721h8M775 702h8M1517 973h8M2409 1012h8M2399 733h8M2669 663h8M915 990h8M605 960h8M2156 721h8M1744 1002h8M719 732h8M951 730h8M1169 718h8M1621 972h8M2252 1033h8M1067 711h8M649 967h8M1474 619h8M1485 597h8M2816 715h8M1601 954h8M1425 975h8M998 1016h8M1631 710h8M1309 623h8M1660 978h8M2555 729h8M2170 952h8M1335 721h8M2736 725h8M757 959h8M1236 724h8M2247 953h8M2767 967h8M790 1012h8M2212 1078h8M1428 981h8M1595 961h8M2324 717h8M1044 973h8M821 727h8M2711 959h8M2382 973h8M932 699h8M1009 663h8M1461 1014h8M1814 963h8M2161 706h8M951 677h8M2283 729h8M1670 981h8M625 952h8M2345 1028h8M2096 731h8M700 996h8M1912 986h8M2520 698h8M768 953h8M736 972h8M2335 987h8M1149 723h8M1199 963h8M862 657h8M1770 713h8M2130 704h8M2668 973h8M1133 960h8M2291 715h8M2456 668h8M2488 960h8M2078 701h8M2319 733h8M726 966h8M1716 1041h8M823 974h8M2281 1006h8M1670 998h8M2429 704h8M2740 964h8M2160 1006h8M2729 731h8M1867 601h8M2139 1007h8M1403 989h8M2831 704h8M2490 960h8M1358 620h8M895 985h8M967 704h8M773 726h8M1824 723h8M2742 960h8M1179 726h8M2751 979h8M1178 732h8M846 959h8M2174 1012h8M663 956h8M2479 986h8M528 721h8M2393 1000h8M1167 980h8M829 726h8M2605 971h8M2016 962h8M534 956h8M802 981h8M795 983h8M1437 683h8M2637 952h8M2170 991h8M931 954h8M2049 970h8M2748 972h8M1608 1023h8M1764 984h8M1467 964h8M2687 971h8M2772 718h8M1362 727h8M825 997h8M780 951h8M2668 955h8M530 694h8M656 1002h8M2636 696h8M1290 1001h8M1494 965h8M2801 699h8M2277 957h8M2238 984h8M768 609h8M2210 722h8M1916 992h8M2630 976h8M669 718h8M1599 968h8M2331 996h8M601 720h8M1095 977h8M1904 955h8M1221 676h8M1264 965h8M1904 977h8M2067 976h8M1842 719h8M1555 1015h8M1185 966h8M2661 967h8M1235 964h8M1223 1003h8M1555 958h8M1490 952h8M2508 967h8M1426 714h8M1122 722h8M1046 989h8M1191 693h8M2210 994h8M1731 966h8M2403 954h8M2814 715h8M667 951h8M1153 681h8M1839 958h8M2023 962h8M1847 677h8M2100 726h8M2472 976h8M2257 964h8M1376 953h8M844 979h8M1506 695h8M1272 955h8M2386 954h8M1199 713h8M860 995h8M862 713h8M1620 961h8M546 688h8M2008 995h8M2044 974h8M700 958h8M2044 730h8M1448 675h8M1350 670h8M2727 966h8M945 726h8M2695 728h8M2414 730h8M1986 1000h8M2075 954h8M1106 638h8M538 965h8M1630 954h8M2329 983h8M2089 664h8M2355 706h8M2014 966h8M1123 727h8M1484 957h8M2583 952h8M2510 986h8M2249 722h8M1129 715h8M2264 689h8M2102 716h8M1717 966h8M1320 968h8M577 719h8M2844 962h8M2171 695h8M2417 681h8M2203 733h8M1217 706h8M1088 648h8M990 970h8M931 987h8M2298 977h8M885 962h8M1209 714h8M859 956h8M2005 1007h8M2430 985h8M1385 716h8M2454 1003h8M1064 684h8M2139 975h8M2297 955h8M539 1016h8M2472 713h8M594 683h8M526 954h8M565 989h8M1881 1000h8M1671 723h8M2670 1004h8M1610 956h8M1740 724h8M2641 708h8M2372 1013h8M1540 709h8M698 659h8M1256 684h8M2301 678h8M2760 972h8M771 725h8M2811 963h8M1851 975h8M1077 959h8M2268 682h8M1759 723h8M1830 981h8M1527 709h8M1802 709h8M1571 703h8M2181 714h8M1587 693h8M815 660h8M1411 669h8M547 732h8M1971 964h8M2409 693h8M698 952h8M1993 1070h8M811 655h8M1450 982h8M1918 645h8M2076 670h8M1609 714h8M2370 724h8M960 971h8M2807 718h8M855 977h8M1923 728h8M2380 1017h8M2348 645h8M1729 717h8M1316 691h8M851 721h8M1418 725h8M1021 715h8M2296 726h8M736 715h8M2609 725h8M761 732h8M1649 960h8M713 953h8M2048 729h8M1036 956h8M532 674h8M1814 704h8M1431 732h8M2621 972h8M1897 710h8M1364 714h8M1013 981h8M1692 983h8M2345 954h8M1845 982h8M1364 718h8M2412 978h8M1981 725h8M1906 659h8M2390 671h8M2031 954h8M909 956h8M2338 1011h8M1591 963h8M1399 967h8M2584 659h8M1057 956h8M1061 702h8M1818 963h8M1572 981h8M2116 728h8M1691 994h8M939 971h8M2585 957h8M2771 727h8M2238 952h8M1510 990h8M2586 712h8M703 700h8M2379 701h8M678 1023h8M2779 967h8M1326 955h8M804 727h8M1585 672h8M2783 732h8M1148 732h8M1011 957h8M2299 718h8M1797 681h8M1260 998h8M2456 1011h8M1133 721h8M2155 1007h8M1920 957h8M2110 680h8M2602 681h8M2545 977h8M2644 720h8M1194 730h8M1426 728h8M1422 979h8M1324 707h8M920 1016h8M1826 716h8M2421 697h8M2593 694h8M1746 1076h8M2007 998h8M2729 724h8M2584 704h8M1961 681h8M669 976h8M2848 724h8M2267 983h8M791 957h8M2674 727h8M705 999h8M978 1036h8M1080 730h8M1595 995h8M1434 721h8M934 699h8M528 992h8M2118 713h8M2291 636h8M2789 730h8M1561 976h8M2537 1045h8M2827 729h8M1836 952h8M2559 967h8M2006 1023h8M1007 731h8M641 962h8M667 974h8M1674 719h8M2079 695h8M1264 697h8M1766 715h8M1430 964h8M1051 972h8M928 720h8M1555 956h8M2615 695h8M2256 706h8M749 731h8M2411 993h8M2318 726h8M1743 720h8M1857 729h8M2747 993h8M1218 987h8M1994 975h8M1933 729h8M1976 709h8M2093 722h8M2580 691h8M1663 731h8M609 959h8M2144 970h8M1782 715h8M879 708h8M2849 701h8M1766 730h8M1832 994h8M828 706h8M2727 722h8M633 975h8M1458 983h8M1820 960h8M1614 709h8M874 691h8M2622 1038h8M1287 705h8M1791 726h8M2331 1009h8M2282 965h8M983 971h8M2695 1028h8M1278 984h8M2701 706h8M656 957h8M1446 725h8M541 992h8M2069 685h8M1033 718h8M2173 1010h8M1518 733h8M2549 1007h8M793 696h8M1222 976h8M1348 1006h8M2198 1002h8M1597 956h8M818 663h8M652 732h8M1511 984h8M1100 972h8M1745 712h8M671 967h8M1936 722h8M575 721h8M2346 708h8M2560 974h8M1542 951h8M1235 726h8M2251 957h8M2164 600h8M553 717h8M1870 1018h8M1679 688h8M2164 973h8M741 1012h8M2550 956h8M1836 723h8M1364 957h8M1631 972h8M2289 955h8M949 962h8M1217 713h8M1972 963h8M1225 729h8M731 723h8M1983 972h8M1955 698h8M2316 1003h8M1120 728h8M1456 970h8M919 1008h8M2652 978h8M1145 709h8M2561 957h8M1972 993h8M1104 962h8M1243 954h8M2646 971h8M555 687h8M1905 679h8M607 959h8M1882 965h8M2001 1011h8M2618 722h8M782 716h8M2208 968h8M935 722h8M2472 705h8M2234 656h8M1299 962h8M930 674h8M2009 690h8M2803 732h8M947 1035h8M1540 975h8M709 964h8M2175 957h8M639 726h8M2556 959h8M2269 731h8M1620 727h8M1610 729h8M1390 971h8M2587 726h8M1621 701h8M2225 709h8M2304 962h8M578 1001h8M2556 968h8M1705 699h8M1831 733h8M2302 720h8M1489 702h8M1618 1008h8M1464 727h8M2292 708h8M1043 966h8M852 731h8M1066 970h8M2302 1008h8M2254 731h8M1755 723h8M547 1006h8M609 952h8M894 961h8M2140 719h8M715 951h8M1394 967h8M1457 705h8M2473 698h8M2353 646h8M1556 713h8M2186 954h8M1199 952h8M2570 951h8M2350 668h8M2242 983h8M2615 997h8M2524 648h8M2163 682h8M1298 978h8M830 972h8M1093 988h8M2045 955h8M520 720h8M1861 732h8M2339 726h8M1300 732h8M2290 700h8M924 962h8M2590 975h8M2697 965h8M2651 721h8M2846 724h8M1504 728h8M1242 964h8M2825 722h8M720 983h8M931 694h8M1687 977h8M2449 704h8M1243 717h8M1478 727h8M1119 975h8M1017 732h8M2603 965h8M1939 1003h8M1022 720h8M1051 724h8M1237 1008h8M772 698h8M594 674h8M2456 997h8M2089 725h8M1673 961h8M948 709h8M1826 711h8M687 711h8M1413 728h8M2080 954h8M1029 716h8M1569 958h8M2770 703h8M1664 961h8M1738 709h8M2720 722h8M530 686h8M1059 673h8M1064 710h8M754 725h8M1504 984h8M1861 693h8M1984 987h8M2094 1031h8M701 967h8M982 977h8M2589 713h8M1681 715h8M853 971h8M2197 964h8M635 711h8M2105 987h8M1507 681h8M1355 717h8M1835 961h8M1081 719h8M2448 959h8M2682 962h8M844 694h8M966 987h8M556 968h8M1174 728h8M2145 961h8M860 717h8M1648 704h8M525 976h8M2527 965h8M2037 1015h8M1050 726h8M871 674h8M1418 712h8M1431 704h8M2416 717h8M1089 690h8M613 980h8M2487 719h8M2387 980h8M1192 1030h8M634 990h8M2092 968h8M851 959h8M2205 713h8M1153 972h8M835 978h8M2486 1009h8M2433 1025h8M1710 955h8M2160 705h8M849 673h8M1673 655h8M605 699h8M574 713h8M560 719h8M2056 677h8M878 983h8M2490 972h8M1822 719h8M1987 724h8M1822 973h8M2487 706h8M1158 690h8M1397 951h8M2690 715h8M1829 976h8M1181 961h8M1471 677h8M961 956h8M784 967h8M1107 717h8M2059 731h8M2625 697h8M1826 983h8M1775 978h8M2183 714h8M604 994h8M991 990h8M1907 706h8M2718 692h8M2803 955h8M2186 719h8M2653 962h8M1363 723h8M2363 974h8M1578 966h8M639 992h8M986 988h8M1449 705h8M2063 690h8M1130 965h8M550 984h8M1468 655h8M1643 951h8M953 1001h8M1514 961h8M2240 999h8M2541 690h8M624 1009h8M1217 972h8M2430 968h8M550 974h8M1079 978h8M614 1042h8M1048 718h8M950 720h8M2150 716h8M639 728h8M2455 679h8M652 718h8M1907 959h8M2394 732h8M2825 1037h8M555 953h8M2789 727h8M2331 1006h8M2066 701h8M2067 994h8M2301 733h8M2540 685h8M2068 1019h8M1808 706h8M692 954h8M2665 951h8M2042 723h8M947 968h8M725 977h8M976 690h8M2546 726h8M926 967h8M2063 987h8M1446 647h8M2481 728h8M1719 977h8M776 981h8M1932 964h8M1831 704h8M1609 970h8M1569 954h8M1986 707h8M877 956h8M2588 714h8M1567 709h8M1500 715h8M806 722h8M2388 716h8M2405 697h8M2676 717h8M2124 707h8M1865 977h8M2512 666h8M1373 694h8M1553 730h8M717 732h8M1679 728h8M613 966h8M1648 1024h8M2228 970h8M917 973h8M1743 724h8M552 975h8M622 968h8M2543 971h8M2002 731h8M1725 958h8M2411 965h8"/>
<path transform="scale(0.1)" stroke="#000" stroke-opacity="0.5" stroke-width="8" fill="none" d="M1238 728h8M1871 987h8M1063 960h8M865 700h8M1039 964h8M2268 683h8M1587 965h8M1574 696h8M1974 715h8M2680 704h8M1329 714h8M1135 733h8M2106 698h8M1603 710h8M2848 718h8M1004 726h8M1623 668h8M2580 697h8M2791 724h8M665 731h8M703 1004h8M1868 660h8M546 961h8M2578 713h8M2453 665h8M1588 689h8M2421 964h8M867 732h8M1336 704h8M610 962h8M582 957h8M747 729h8M1681 995h8M1596 728h8M1994 703h8M2045 725h8M1030 709h8M2685 716h8M655 704h8M2447 984h8M2298 711h8M530 732h8M2378 957h8M1934 721h8M2355 986h8M1340 962h8M2685 955h8M1186 708h8M1158 976h8M801 975h8M1171 707h8M1369 701h8M1191 712h8M1424 954h8M1202 998h8M2730 966h8M1988 724h8M548 730h8M2368 709h8M2737 725h8M2190 727h8M1333 989h8M1787 694h8M1174 954h8M952 964h8M1180 973h8M2102 725h8M2326 981h8M1875 668h8M621 697h8M1466 705h8M1162 663h8M625 710h8M2329 1000h8M2334 952h8M1576 980h8M1518 956h8M2847 956h8M1741 981h8M1073 708h8M2784 725h8M2425 729h8M1391 707h8M2474 961h8M2217 976h8M681 718h8M980 716h8M2409 967h8M2760 964h8M1301 711h8M1104 679h8M2015 1003h8M2471 976h8M1316 995h8M2441 696h8M1696 732h8M1826 963h8M1107 960h8M1884 977h8M633 953h8M1587 999h8M2107 732h8M895 1045h8M1228 690h8M2629 958h8M1371 716h8M1078 976h8M1048 958h8M519 671h8M1715 694h8M1020 724h8M2211 703h8M1826 653h8M1197 962h8M2327 705h8M719 711h8M2754 959h8M2281 1018h8M580 717h8M2192 711h8M1923 710h8M2307 718h8M1433 993h8M1631 699h8M2521 685h8M2106 705h8M2123 1075h8M2288 1004h8M953 728h8M1987 966h8M864 963h8M1575 1004h8M911 708h8M2187 731h8M2780 982h8M1573 725h8M2791 719h8M1204 987h8M2821 712h8M1285 719h8M1251 708h8M2614 725h8M2276 952h8M1922 701h8M1638 968h8M1434 651h8M2181 719h8M2026 717h8M1038 727h8M1053 973h8M1457 988h8M1143 720h8M2336 982h8M926 638h8M1966 965h8M1266 732h8M2153 719h8M714 990h8M2311 708h8M1478 973h8M2076 730h8M1761 690h8M1619 724h8M550 635h8M2588 1027h8M2346 729h8M2839 728h8M558 723h8M1854 683h8M1614 686h8M1233 959h8M2148 968h8M1885 670h8M777 669h8M1805 714h8M2136 967h8M2620 709h8M1563 962h8M612 965h8M1134 649h8M526 974h8M1383 986h8M2687 698h8M849 990h8M2269 730h8M1963 1015h8M533 705h8M680 971h8M914 707h8M1660 996h8M2375 709h8M2594 956h8M1425 730h8M2190 968h8M2540 964h8M1916 717h8M1117 960h8M809 953h8M709 707h8M2141 725h8M1679 703h8M2190 1040h8M1126 957h8M948 957h8M2121 957h8M1060 686h8M2043 958h8M2557 703h8M1566 992h8M1732 728h8M2817 1004h8M2495 955h8M782 699h8M2543 1007h8M1255 1001h8M2834 644h8M859 986h8M2574 992h8M826 712h8M2359 955h8M1438 717h8M2640 984h8M2097 728h8M1340 726h8M1499 965h8M2372 680h8M2233 721h8M1038 979h8M2140 994h8M1844 704h8M1836 963h8M1556 958h8M2778 680h8M1633 998h8M1368 709h8M2012 708h8M1243 673h8M1677 991h8M732 643h8M1296 953h8M1537 1008h8M2841 717h8M2019 727h8M983 987h8M620 985h8M2748 964h8M2771 1044h8M1460 962h8M2277 701h8M1454 733h8M2424 715h8M1314 980h8M1937 963h8M1340 707h8M1541 1033h8M1397 1023h8M1775 960h8M1471 673h8M1377 693h8M563 686h8M1538 688h8M1123 724h8M2555 956h8M2097 983h8M2749 964h8M1133 959h8M2105 688h8M2104 1004h8M1189 951h8M2093 975h8M1758 648h8M1116 726h8M2249 729h8M1233 964h8M1617 959h8M2795 727h8M826 971h8M2741 957h8M2406 1019h8M1800 709h8M757 683h8M2504 727h8M1115 1005h8M715 977h8M1569 953h8M2494 687h8M2495 963h8M1407 996h8M2003 696h8M1920 970h8M1033 731h8M1849 1007h8M1634 724h8M1664 984h8M1916 727h8M2484 700h8M863 953h8M2592 710h8M631 963h8M2505 703h8M1897 648h8M2555 993h8M671 725h8M2782 990h8M827 729h8M1592 713h8M2748 732h8M2114 966h8M1313 723h8M919 665h8M1052 709h8M2608 724h8M1756 724h8M732 959h8M1890 727h8M1452 695h8M2816 708h8M1437 715h8M1401 728h8M1874 727h8M1783 1059h8M2684 957h8M1872 968h8M2069 720h8M2097 731h8M779 952h8M846 955h8M2113 694h8M2594 702h8M2021 988h8M2520 732h8M1823 959h8M906 725h8M2599 959h8M1871 973h8M1034 724h8M2000 697h8M2225 673h8M980 726h8M1749 724h8M1874 967h8M2057 732h8M2177 712h8M1905 953h8M661 708h8M2155 729h8M2328 974h8M2144 956h8M1704 972h8M596 689h8M2528 715h8M2578 640h8M702 971h8M1051 658h8M2500 705h8M1016 721h8M1321 725h8M600 724h8M2686 973h8M586 1005h8M1260 964h8M1633 1004h8M2677 969h8M2455 957h8M1084 731h8M2844 703h8M912 711h8M2698 951h8M1044 726h8M1777 731h8M2849 959h8M984 722h8M1028 958h8M1159 732h8M1210 725h8M2055 966h8M2363 675h8M524 980h8M2442 712h8M1081 965h8M2374 725h8M2830 977h8M1817 1042h8M2420 1017h8M742 956h8M1644 978h8M560 974h8M1154 664h8M1786 681h8M2270 732h8M2246 591h8M1052 684h8M1140 715h8M918 725h8M899 720h8M2408 971h8M2214 646h8M1255 977h8M2849 709h8M2710 689h8M1059 976h8M2257 965h8M967 720h8M1993 642h8M1209 972h8M1523 685h8M1347 727h8M2831 978h8M1769 964h8M2753 963h8M2266 705h8M719 693h8M2158 961h8M1123 727h8M2536 953h8M1570 727h8M2528 968h8M1608 725h8M2492 1013h8M1240 728h8M901 975h8M2635 962h8M2092 975h8M1822 987h8M2333 730h8M1377 730h8M1591 1008h8M1948 703h8M710 962h8M934 964h8M600 978h8M1521 1025h8M1181 718h8M1360 687h8M1185 1013h8M832 697h8M1678 709h8M1574 962h8M2693 951h8M1113 968h8M1299 661h8M1878 1012h8M1885 1021h8M1745 702h8M1036 722h8M2041 711h8M1346 714h8M2432 958h8M1542 703h8M1768 959h8M2712 729h8M2842 968h8M1063 721h8M1326 967h8M1579 716h8M902 703h8M2355 994h8M2102 718h8M1917 986h8M729 955h8M1877 983h8M1012 958h8M1684 957h8M637 676h8M924 728h8M1584 967h8M1023 986h8M1548 727h8M2693 955h8M1134 716h8M927 696h8M1635 1002h8M729 724h8M2704 966h8M1402 703h8M2017 717h8M1831 699h8M1978 1003h8M1314 712h8M1264 722h8M2704 967h8M2526 962h8M2197 643h8M2238 705h8M1890 684h8M1317 973h8M648 711h8M1753 963h8M2398 956h8M2577 729h8M1711 953h8M1504 665h8M944 972h8M1214 977h8M2624 706h8M588 962h8M1953 957h8M1106 952h8M1889 701h8M1234 957h8M2644 954h8M541 953h8M2233 978h8M2251 701h8M2739 710h8M1687 1016h8M1256 977h8M2331 991h8M2456 962h8M1600 727h8M1952 705h8M1961 700h8M1111 703h8M2161 964h8M1349 731h8M2452 989h8M1574 955h8M1665 957h8M1906 725h8M2046 725h8M1028 728h8M2176 960h8M2427 731h8M2630 709h8M1440 718h8M1225 704h8M2049 956h8M1680 1016h8M1187 718h8M2099 669h8M645 988h8M756 1030h8M1871 967h8M2750 980h8M1728 726h8M1746 714h8M2645 970h8M2254 681h8M993 1008h8M681 696h8M1398 954h8M1769 694h8M857 732h8M2163 978h8M672 661h8M1947 971h8M1169 717h8M2219 1026h8M1009 692h8M1527 1076h8M1060 976h8M2425 989h8M2117 967h8M737 713h8M1596 978h8M2739 688h8M861 707h8M1101 686h8M1313 968h8M2624 731h8M811 1002h8M1158 963h8M2686 963h8M2839 704h8M676 987h8M1732 1040h8M1091 982h8M2347 1011h8M1406 963h8M1885 954h8M1314 998h8M1509 724h8M1187 1006h8M520 703h8M1911 721h8M2759 960h8M2613 956h8M2595 731h8M1838 984h8M1145 726h8M2617 984h8M2396 724h8M712 702h8M815 959h8M1054 706h8M1222 963h8M1025 729h8M1932 725h8M1100 721h8M1769 978h8M2341 984h8M2692 688h8M2297 713h8M2089 1037h8M2112 969h8M2228 1002h8M2786 960h8M2675 960h8M1561 977h8M1480 714h8M1850 972h8M2510 1023h8M1548 710h8M2082 701h8M2029 709h8M2055 725h8M1895 668h8M581 982h8M2022 951h8M1110 717h8M661 704h8M2558 959h8M2006 685h8M2660 732h8M1815 961h8M1411 962h8M1234 659h8M1194 1033h8M1749 676h8M2110 686h8M1651 1002h8M1620 974h8M2762 731h8M2727 718h8M712 991h8M2142 695h8M1311 959h8M1729 963h8M1053 989h8M581 728h8M897 996h8M1978 713h8M1748 1032h8M2644 986h8M2217 727h8M1395 723h8M1025 723h8M562 732h8M1832 971h8M2739 991h8M1087 720h8M2009 732h8M2680 977h8M1870 726h8M1443 730h8M2683 986h8M599 724h8M652 999h8M2619 718h8M2688 725h8M1555 961h8M1280 962h8M2845 729h8M925 720h8M580 965h8M2372 957h8M1566 726h8M2106 954h8M2343 721h8M952 715h8M1072 722h8M2691 716h8M2762 995h8M1621 692h8M2072 986h8M994 981h8M702 708h8M2091 952h8M1891 981h8M1204 1041h8M1534 967h8M1831 959h8M1530 727h8M623 969h8M1896 686h8M1794 993h8M1372 964h8M694 1013h8M656 972h8M1862 724h8M1007 731h8M939 692h8M1948 1011h8M2318 1031h8M2099 1023h8M1891 691h8M727 976h8M2242 955h8M2506 710h8M1684 987h8M2605 728h8M2531 981h8M1838 1023h8M2173 1006h8M2720 960h8M774 973h8M1392 708h8M1667 694h8M939 730h8M2144 689h8M1744 981h8M2600 988h8M2746 732h8M1515 951h8M1074 968h8M1891 959h8M2499 696h8M1392 958h8M1456 705h8M1046 974h8M2613 999h8M1924 967h8M786 691h8M2162 710h8M931 731h8M1705 956h8M1741 960h8M2195 675h8M712 983h8M2032 963h8M1661 690h8M2173 731h8M1962 709h8M1843 971h8M2142 732h8M2826 715h8M1408 729h8M1236 698h8M1473 720h8M1164 715h8M2294 672h8M2056 1017h8M2062 726h8M2162 1039h8M1920 684h8M991 993h8M2407 721h8M2208 954h8M1378 955h8M2779 678h8M1923 1021h8M525 726h8M1388 991h8M1517 963h8M2745 960h8M1240 707h8M2537 729h8M1221 726h8M1358 731h8M1432 980h8M635 714h8M2279 1075h8M1068 1000h8M981 720h8M2242 712h8M2208 1043h8M1171 974h8M1042 964h8M847 724h8M966 721h8M586 953h8M666 691h8M2046 726h8M1137 965h8M2094 975h8M867 989h8M1190 1023h8M2423 714h8M1045 1011h8M2068 981h8M2275 720h8M2824 978h8M1151 673h8M1477 1021h8M2363 1001h8M2537 1006h8M781 675h8M1631 951h8M2510 705h8M546 732h8M1353 708h8M1996 705h8M2814 1005h8M1429 966h8M2088 980h8M1317 729h8M886 956h8M1451 1007h8M604 954h8M1415 714h8M1420 731h8M1595 1002h8M1996 968h8M1109 697h8M2461 731h8M1505 721h8M948 958h8M1033 980h8M1726 638h8M2796 706h8M1036 709h8M2832 989h8M2016 724h8M714 964h8M1725 955h8M1604 1008h8M651 717h8M2337 708h8M2049 978h8M1485 696h8M2646 729h8M1351 722h8M1898 963h8M2431 719h8M642 974h8M2048 730h8M1880 730h8M623 725h8M1379 733h8M698 690h8M1885 966h8M2063 672h8M1652 678h8M2084 982h8M2733 953h8M1442 982h8M1564 705h8M2469 583h8M2694 958h8M2546 957h8M1320 992h8M1835 720h8M2375 996h8M2737 711h8M1622 726h8M1648 719h8M1317 968h8M2153 1019h8M1266 992h8M955 715h8M853 953h8M1729 722h8M963 710h8M1484 968h8M1876 982h8M760 1040h8M585 1050h8M1385 952h8M732 952h8M1105 731h8M1709 976h8M749 975h8M1071 960h8M520 982h8M2395 985h8M2057 731h8M1833 1017h8M1790 984h8M2490 981h8M2655 730h8M2655 726h8M764 729h8M2073 980h8M2096 718h8M1642 1049h8M2601 974h8M1564 732h8M2701 962h8M1694 733h8M2269 959h8M2738 969h8M1013 1051h8M2296 682h8M2646 732h8M842 966h8M975 698h8M2817 965h8M2558 972h8M1907 983h8M745 959h8M2674 965h8M2384 963h8M1259 710h8M2283 700h8M1142 703h8M2067 720h8M1524 974h8M2420 958h8M2019 962h8M1413 1053h8M2307 968h8M2051 1017h8M1488 997h8M1584 979h8M2504 718h8M1051 953h8M2802 971h8M2608 685h8M2104 688h8M1986 725h8M771 975h8M2365 953h8M1687 719h8M1394 619h8M2826 705h8M1378 974h8M1342 730h8M1493 963h8M2207 956h8M2838 720h8M2562 970h8M2662 1009h8M956 964h8M1229 702h8M2431 697h8M2783 683h8M1947 974h8M777 965h8M2359 703h8M1175 987h8M816 992h8M921 961h8M2467 686h8M1253 716h8M1901 700h8M1909 698h8M531 640h8M1370 971h8M733 953h8M1733 733h8M2336 988h8M1978 982h8M1368 959h8M2006 726h8M2815 977h8M1025 710h8M538 1057h8M1799 967h8M2500 694h8M2346 976h8M1240 971h8M1354 731h8M1623 981h8M862 700h8M706 689h8M960 955h8M1338 963h8M1679 977h8M2343 727h8M2305 961h8M1665 655h8M1028 730h8M2837 701h8M2708 725h8M743 966h8M2786 712h8M634 953h8M941 991h8M1413 715h8M880 713h8M770 974h8M1694 952h8M2170 1044h8M1871 1003h8M1634 718h8M1443 732h8M2142 981h8M913 967h8M2627 706h8M567 709h8M1279 731h8M2317 718h8M587 695h8M1048 676h8M1584 956h8M1287 707h8M2653 984h8M2277 733h8M878 1008h8M1380 987h8M2781 980h8M1084 654h8M1419 709h8M1344 962h8M942 961h8M2515 952h8M608 999h8M1329 715h8M882 707h8M2356 717h8M1705 989h8M1477 720h8M1273 726h8M1511 711h8M1040 719h8M841 696h8M2123 974h8M2159 711h8M1741 730h8M2318 1024h8M1113 951h8M1357 694h8M2765 990h8M1943 719h8M2066 714h8M2645 988h8M989 688h8M2208 955h8M1803 974h8M1727 700h8M1902 1040h8M612 706h8M1121 961h8M2518 953h8M891 676h8M1371 977h8M2471 721h8M2287 685h8M2502 963h8M1670 975h8M2516 975h8M913 712h8M2476 960h8M610 990h8M2708 725h8M2350 968h8M983 651h8M2498 1010h8M2668 729h8M815 697h8M2208 1017h8M1887 597h8M1990 713h8M2429 710h8M1867 962h8M1111 710h8M2545 968h8M2220 965h8M1408 990h8M662 704h8M2181 1000h8M2216 958h8M1581 702h8M536 666h8M2064 730h8M1978 730h8M1317 972h8M2497 713h8M925 968h8M1276 731h8M2303 637h8M2056 678h8M626 1003h8M2163 988h8M848 960h8M899 728h8M2804 1002h8M2012 978h8M1444 952h8M2074 953h8M1946 969h8M1229 965h8M2394 718h8M635 965h8M2374 728h8M598 710h8M2405 714h8M2482 955h8M2523 974h8M2412 711h8M1420 685h8M2007 719h8M2595 990h8M560 952h8M1553 968h8M1872 965h8M732 724h8M1413 1034h8M1387 1003h8M1372 666h8M1529 990h8M2565 971h8M1201 1003h8M2548 696h8M2170 969h8M794 725h8M2622 729h8M1411 720h8M828 724h8M1031 723h8M2260 727h8M1097 668h8M2487 704h8M2704 647h8M1191 964h8M2694 955h8M581 1007h8M2392 953h8M1359 998h8M2613 707h8M845 706h8M2284 691h8M1009 980h8M1110 729h8M2756 730h8M1354 963h8M1858 697h8M1069 731h8M2631 656h8M2571 706h8M1442 668h8M2013 639h8M2844 716h8M2332 999h8M1362 957h8M2569 985h8M2730 684h8M2797 721h8M1378 659h8M1826 972h8M2818 971h8M1941 1032h8M662 1051h8M1121 987h8M1896 716h8M1506 682h8M795 956h8M1454 706h8M888 961h8M2052 679h8M785 953h8M971 683h8M570 979h8M2033 952h8M669 956h8M1633 711h8M2821 977h8M1839 951h8M2772 717h8M699 995h8M2310 712h8M1694 1005h8M988 951h8M2088 1008h8M2367 721h8M1826 1034h8M1286 1030h8M2012 664h8M1621 727h8M2401 1007h8M1125 717h8M2779 959h8M828 983h8M1261 706h8M1381 963h8M1739 989h8M2048 961h8M2041 727h8M615 975h8M2607 725h8M836 656h8M1224 678h8M2679 956h8M2814 725h8M2672 728h8M1518 971h8M939 701h8M2038 957h8M1763 957h8M1495 967h8M2809 723h8M1843 691h8M861 724h8M2369 723h8M709 662h8M2381 952h8M1317 724h8M1443 952h8M1489 961h8M2619 954h8M2790 970h8M1133 1014h8M2353 1055h8M2318 719h8M1865 712h8M2718 730h8M979 704h8M2458 957h8M2517 973h8M840 701h8M797 1016h8M2795 996h8M560 1092h8M781 1009h8M2045 983h8M2387 712h8M1315 643h8M1451 713h8M2179 967h8M1660 728h8M1455 725h8M740 718h8M1374 727h8M834 981h8M1195 961h8M1627 701h8M1966 1004h8M1467 954h8M2140 724h8M1068 682h8M2318 951h8M2433 972h8M2700 963h8M2248 972h8M1781 961h8M2007 972h8M2425 697h8M555 1067h8M1484 994h8M1129 724h8M710 960h8M2612 978h8M2802 681h8M2532 730h8M2365 956h8M2741 990h8M1678 729h8M2011 973h8M1072 1007h8M2734 980h8M1611 955h8M706 733h8M1779 964h8M2794 962h8M926 986h8M2235 690h8M1603 697h8M2496 729h8M1929 1011h8M721 988h8M1406 694h8M1906 720h8M2081 691h8M2378 682h8M2158 961h8M1153 693h8M858 971h8M2286 977h8M1194 1007h8M1725 974h8M2520 698h8M1550 701h8M628 679h8M665 671h8M1375 984h8M2663 721h8M691 731h8M1724 981h8M703 978h8M1750 955h8M1518 731h8M1655 716h8M752 715h8M1401 693h8M1268 960h8M1673 646h8M2823 968h8M2808 719h8M2735 691h8M757 713h8M2593 956h8M633 730h8M2246 721h8M1396 1008h8M718 642h8M2828 980h8M1659 731h8M1296 678h8M2291 707h8M2119 955h8M2120 708h8M2442 728h8M979 1016h8M729 726h8M775 993h8M834 955h8M2674 953h8M1843 1009h8M2698 698h8M1721 716h8M608 702h8M1752 718h8M2301 981h8M2224 666h8M2744 679h8M1541 696h8M770 720h8M900 718h8M1715 952h8M1126 956h8M802 990h8M2556 719h8M1309 648h8M2608 972h8M1246 1070h8M2382 954h8M1700 960h8M1967 654h8M2849 979h8M2474 597h8M1364 956h8M2031 992h8M1908 1006h8M1192 963h8M757 970h8M1142 953h8M1380 728h8M2770 976h8M2752 979h8M1952 955h8M2599 717h8M1173 720h8M1278 702h8M2373 703h8M1434 954h8M1474 704h8M2106 960h8M2423 724h8M2188 959h8M2614 733h8M1949 702h8M2438 708h8M2393 727h8M1005 971h8M2450 989h8M861 722h8M1805 952h8M2783 700h8M2355 721h8M2456 714h8M635 702h8M1455 715h8M1845 985h8M684 974h8M607 956h8M2844 960h8M857 977h8M874 671h8M1091 974h8M2341 966h8M2360 991h8M1908 1102h8M637 955h8M1960 703h8M1633 982h8M1335 716h8M759 971h8M2682 1088h8M2542 982h8M2095 972h8M2449 666h8M1993 976h8M1798 728h8M610 683h8M1534 693h8M730 729h8M638 1014h8M1909 704h8M1029 681h8M958 992h8M1704 713h8M2187 650h8M1526 974h8M965 720h8M1194 724h8M1600 1024h8M716 960h8M1418 712h8M1565 1017h8M1034 960h8M2203 705h8M1862 721h8M645 1010h8M2375 708h8M2282 720h8M1200 721h8M676 957h8M1699 678h8M2659 721h8M2506 967h8M1642 701h8M2338 707h8M1837 689h8M877 964h8M1226 731h8M887 969h8M2273 955h8M1658 967h8M2117 728h8M2592 1059h8M1089 973h8M1662 721h8M788 717h8M2321 718h8M2614 663h8M1605 704h8M1797 726h8M1207 962h8M2770 957h8M2168 953h8M2207 668h8M2144 1000h8M824 731h8M1838 727h8M1401 694h8M1285 698h8M2447 954h8M1968 1015h8M906 1062h8M1171 705h8M2499 1003h8M1911 699h8M2836 987h8M1908 700h8M905 727h8M1256 956h8M2774 955h8M1477 956h8M828 707h8M1749 957h8M687 638h8M2235 721h8M1437 594h8M2730 965h8M1782 971h8M774 1013h8M838 963h8M1306 679h8M2181 981h8M1594 733h8M1841 687h8M2316 1003h8M2133 977h8M2379 968h8M703 977h8M1024 952h8M1706 972h8M1434 723h8M2141 691h8M875 723h8M1345 956h8M1346 712h8M2179 952h8M606 692h8M1593 732h8M859 713h8M2220 722h8M999 733h8M1099 671h8M1165 1054h8M1125 695h8M2233 991h8M2205 982h8M1065 730h8M1702 956h8M916 968h8M2851 978h8M1581 697h8M1214 702h8M1479 959h8M1080 698h8M1286 718h8M634 957h8M1735 970h8M1058 729h8M1160 966h8M1674 983h8M2279 961h8M1257 715h8M525 709h8M2258 972h8M1819 712h8M2278 733h8M1483 1008h8M1269 687h8M2766 686h8M706 1000h8M820 959h8M2374 1023h8M2198 1009h8M1282 974h8M958 967h8M2359 732h8M1326 1024h8M2162 707h8M2695 1011h8M1332 1029h8M2272 713h8M1751 1028h8M2805 705h8M828 712h8M827 731h8M1242 719h8M2247 693h8M1996 991h8M2098 970h8M1558 970h8M1480 707h8M1335 962h8M935 961h8M1574 987h8M1507 1035h8M858 977h8M2746 971h8M1167 995h8M1479 723h8M2695 956h8M2137 979h8M2744 958h8M2258 695h8M1470 691h8M1308 720h8M2660 706h8M827 682h8M1648 728h8M591 712h8M980 1004h8M2744 694h8M1868 961h8M809 731h8M1085 673h8M1137 1031h8M1598 709h8M1646 956h8M1826 659h8M2719 729h8M1529 963h8M1931 727h8M2024 955h8M1882 721h8M1744 650h8M1424 714h8M1693 1005h8M794 690h8M2619 714h8M1034 1025h8M1067 979h8M1068 653h8M1140 958h8M1347 1003h8M1568 1002h8M2776 710h8M1695 958h8M2021 982h8M1273 966h8M2693 952h8M2459 648h8M979 966h8M2178 708h8M1618 968h8M2467 972h8M1595 980h8M878 724h8M1555 964h8M1588 982h8M1340 975h8M2038 980h8M2825 1009h8M874 695h8M2336 731h8M1975 685h8M1139 957h8M872 974h8M1505 953h8M1930 993h8M625 602h8M2047 988h8M2313 692h8M2682 953h8M2673 1042h8M697 972h8M1636 684h8M2331 698h8M2784 973h8M1231 970h8M813 1044h8M580 677h8M1865 952h8M1573 1013h8M2437 994h8M1157 962h8M2800 725h8M1364 726h8M1467 677h8M699 984h8M2656 994h8M2130 998h8M2217 953h8M1578 977h8M555 994h8M646 1000h8M918 977h8M954 693h8M2835 675h8M2259 693h8M1704 731h8M1042 693h8M1323 970h8M1791 966h8M1391 730h8M609 965h8M1839 720h8M1030 727h8M2105 954h8M1732 960h8M627 673h8M2365 989h8M713 956h8M2828 729h8M2174 959h8M1525 723h8M522 971h8M2480 970h8M1150 726h8M1321 710h8M2848 712h8M2207 714h8M2614 953h8M2737 952h8M1663 977h8M1223 1012h8M1934 695h8M2009 703h8M1345 984h8M581 1038h8M1695 991h8M1226 952h8M2443 973h8M1628 695h8M2562 968h8M2606 996h8M2468 961h8M1660 989h8M1777 952h8M2264 991h8M2655 970h8M2787 959h8M2716 701h8M1135 970h8M2359 722h8M1446 727h8M1442 960h8M603 974h8M689 684h8M2653 631h8M520 960h8M1685 652h8M1774 726h8M2232 692h8M1248 691h8M539 1002h8M842 731h8M2008 725h8M2501 965h8M1985 957h8M1901 733h8M1425 724h8M1721 588h8M895 715h8M1103 700h8M2780 694h8M1180 690h8M1982 981h8M1067 731h8M733 726h8M1809 966h8M2137 995h8M732 717h8M2040 722h8M1695 988h8M2123 704h8M2157 958h8M1521 969h8M1993 719h8M1881 696h8M2481 990h8M2786 725h8M649 684h8M895 952h8M1898 731h8M1079 725h8M2363 960h8M2632 1026h8M1364 724h8M540 673h8M832 712h8M777 960h8M1359 989h8M909 662h8M2724 1005h8M2422 694h8M1596 700h8M2310 730h8M657 955h8M2499 965h8M1910 970h8M2294 964h8M2745 708h8M2470 704h8M755 683h8M904 954h8M1044 694h8M876 995h8M2391 957h8M1437 708h8M822 702h8M1336 698h8M761 990h8M1741 712h8M914 733h8M1172 725h8M1673 961h8M1678 972h8M2117 721h8M1358 955h8M2478 952h8M534 694h8M757 997h8M1313 721h8M1245 1024h8M1379 701h8M2734 706h8M1872 1007h8M2091 722h8M1359 730h8M853 983h8M1848 721h8M2373 968h8M2381 953h8M555 994h8M2477 977h8M2693 962h8M1434 983h8M2245 718h8M866 720h8M1451 731h8M1301 982h8M1071 666h8M1007 960h8M850 731h8M722 720h8M2791 959h8M2059 963h8M2522 984h8M864 730h8M2286 1013h8M2400 695h8M945 984h8M2455 662h8M2565 726h8M633 1010h8M1385 706h8M1320 717h8M550 955h8M907 725h8M2555 1017h8M1617 960h8M1367 685h8M903 966h8M680 729h8M1962 732h8M2844 670h8M2166 632h8M1006 1009h8M1525 952h8M1293 701h8M1264 724h8M2257 973h8M2307 716h8M2687 978h8M2830 719h8M541 715h8M2373 727h8M901 960h8M633 693h8M853 727h8M728 702h8M2301 957h8M1934 723h8M743 972h8M1618 663h8M1647 1028h8M1277 955h8M2478 974h8M2489 969h8M1544 726h8M2255 727h8M1574 713h8M559 994h8M1042 682h8M932 709h8M1682 726h8M1902 700h8M2415 987h8M1629 964h8M1495 730h8M1685 972h8M600 708h8M943 972h8M1383 961h8M984 969h8M2490 668h8M1876 956h8M566 726h8M2387 966h8M2022 958h8M1413 715h8M2147 968h8M944 962h8M1454 956h8M1749 976h8M1250 1050h8M1680 650h8M1427 716h8M2467 731h8M827 732h8M1059 648h8M1913 733h8M1948 1001h8M869 715h8M2523 691h8M1053 732h8M2583 688h8M600 700h8M2541 715h8M878 964h8M1484 968h8M912 704h8M1270 969h8M1129 730h8M652 1048h8M1461 957h8M2668 965h8M2614 720h8M1460 703h8M2405 732h8M1767 703h8M1397 693h8M2428 720h8M1391 699h8M1350 712h8M2298 960h8M589 978h8M2478 955h8M1843 715h8M1749 957h8M1755 994h8M2194 974h8M903 953h8M1695 709h8M2270 965h8M1075 704h8M1021 1023h8M1168 952h8M1165 711h8M1249 966h8M1706 726h8M2229 701h8M868 978h8M667 723h8M1875 981h8M1514 958h8M1154 709h8M1847 956h8M1278 727h8M1773 952h8M1356 672h8M830 730h8M1857 994h8M2619 711h8M2279 716h8M2807 716h8M1106 1039h8M669 706h8M2100 1045h8M2005 697h8M1899 721h8M1019 730h8M1897 725h8M2597 722h8M1172 1077h8M602 718h8M1216 987h8M878 978h8M2799 709h8M2373 684h8M1197 953h8M2439 984h8M1481 709h8M2382 1004h8M2124 697h8M1860 967h8M2829 954h8M1942 727h8M2307 968h8M2806 681h8M1969 690h8M659 702h8M896 964h8M1063 731h8M2280 1006h8M537 697h8M2792 988h8M1099 967h8M735 697h8M812 727h8M1437 1026h8M1227 1016h8M2628 1002h8M1974 1004h8M1596 960h8M2487 652h8M2834 952h8M2386 714h8M1469 684h8M1064 727h8M1508 963h8M1642 729h8M2331 686h8M1609 1012h8M1070 699h8M2215 962h8M2283 713h8M1254 986h8M619 1055h8M2022 731h8M825 957h8M930 693h8M1210 702h8M1202 726h8M717 723h8M1029 971h8M1843 728h8M1369 1005h8M1250 717h8M1054 711h8M1345 955h8M1845 728h8M1567 956h8M2272 954h8M1588 961h8M2121 967h8M2262 978h8M2028 712h8M2802 679h8M2440 711h8M1033 1004h8M1690 625h8M1052 669h8M1143 732h8M935 701h8M1099 976h8M1847 954h8M816 957h8M1393 694h8M1220 1006h8M2177 722h8M1019 952h8M947 959h8M2419 728h8M1345 670h8M2782 985h8M535 991h8M785 706h8M1219 726h8M2430 683h8M957 955h8M1259 663h8M732 717h8M1189 726h8M1236 715h8M2686 711h8M2447 708h8M2094 990h8M2631 995h8M1530 703h8M791 959h8M581 687h8M1143 961h8M2282 953h8M2480 721h8M2613 963h8M1886 956h8M1956 1021h8M786 669h8M1248 732h8M1735 977h8M1111 702h8M2138 1002h8M985 711h8M2721 718h8M1750 952h8M761 719h8M2668 973h8M2149 974h8M2721 723h8M2025 979h8M1876 986h8M2723 715h8M2173 971h8M2014 969h8M904 985h8M1374 972h8M1542 971h8M1227 1013h8M2480 721h8M587 995h8M2254 671h8M2511 701h8M1561 659h8M1568 731h8M1697 688h8M2330 973h8M1856 980h8M1277 1023h8M845 729h8M1749 698h8M837 1008h8M552 714h8M1685 646h8M2477 994h8M1535 1068h8M1534 701h8M2544 733h8M1288 1024h8M2526 999h8M1750 725h8M2423 727h8M958 969h8M621 671h8M2088 695h8M2595 1041h8M2626 957h8M1474 951h8M610 966h8M2230 963h8M1043 996h8M2421 985h8M724 955h8M2649 961h8M1471 728h8M2252 705h8M2843 995h8M639 971h8M1367 972h8M2422 715h8M2372 991h8M2719 697h8M696 983h8M1085 953h8M1697 721h8M2152 731h8M1940 1043h8M1232 966h8M2315 1032h8M1661 731h8M2298 703h8M1061 1041h8M1374 972h8M2380 969h8M1642 960h8M2600 993h8M1148 731h8M902 687h8M2098 962h8M1877 728h8M2229 670h8M1807 729h8M1408 713h8M1038 991h8M1372 701h8M2539 1004h8M2313 713h8M2844 716h8M2018 957h8M1598 726h8M1956 730h8M2062 975h8M2567 1004h8M2410 726h8M1024 963h8M703 957h8M1747 687h8M923 1025h8M1260 979h8M809 721h8M1973 711h8M1384 1029h8M2222 703h8M1913 723h8M2455 662h8M2142 723h8M793 733h8M1976 694h8M1830 721h8M2678 989h8M649 691h8M963 1010h8M1595 952h8M2201 709h8M2335 976h8M1635 960h8M2419 959h8M2646 961h8M1058 727h8M540 702h8M2495 957h8M2362 718h8M1999 984h8M2308 1031h8M997 952h8M736 956h8M1371 972h8M1101 959h8M2753 957h8M2326 997h8M2371 976h8M1017 976h8M1976 714h8M1144 702h8M2344 732h8M2639 698h8M2029 721h8M1168 710h8M1932 987h8M2689 709h8M1590 702h8M601 719h8M1016 971h8M1865 723h8M1709 733h8M2058 994h8M681 991h8M2486 663h8M2404 990h8M868 1058h8M1130 716h8M1649 707h8M1142 962h8M653 962h8M1685 702h8M2396 987h8M1831 722h8M2439 1038h8M2473 997h8M2575 970h8M1141 697h8M2180 962h8M2577 689h8M1521 961h8M1060 989h8M2545 695h8M1881 729h8M2508 954h8M1810 720h8M2011 972h8M1502 1013h8M2379 716h8M2362 723h8M1852 731h8M596 1032h8M960 977h8M2409 958h8M1810 959h8M1005 663h8M839 965h8M2294 704h8M1596 723h8M2679 709h8M1779 718h8M2054 952h8M1491 1018h8M1404 715h8M967 958h8M2172 997h8M2324 1040h8M1421 958h8M1082 970h8M2706 973h8M1482 1025h8M1688 1066h8M1365 712h8M1796 952h8M590 676h8M1660 967h8M2100 721h8M2260 953h8M1486 1034h8M1940 669h8M2418 954h8M2180 1028h8M929 974h8M1005 722h8M2237 1073h8M2251 1010h8M2320 718h8M856 718h8M1253 969h8M1867 727h8M1767 714h8M1222 730h8M1765 977h8M1197 978h8M1865 969h8M1277 989h8M2799 966h8M524 660h8M644 692h8M2545 715h8M1493 700h8M2776 675h8M1134 732h8M2099 971h8M1067 962h8M530 688h8M2743 719h8M2465 981h8M1657 706h8M1464 661h8M1317 967h8M696 723h8M2051 966h8M674 715h8M2449 968h8M1072 716h8M1318 633h8M2108 690h8M2450 954h8M973 958h8M2049 706h8M577 723h8M2086 976h8M558 966h8M1471 954h8M700 986h8M2676 973h8M2252 713h8M1960 1004h8M1801 994h8M2103 974h8M1535 716h8M2699 726h8M1572 970h8M905 965h8M582 699h8M681 688h8M1345 968h8M1816 969h8M1598 956h8M1306 953h8M1007 732h8M2130 731h8M2118 988h8M1005 708h8M981 705h8M1989 980h8M1039 710h8M2817 730h8M1405 731h8M2338 960h8M2305 674h8M2664 731h8M1307 618h8M560 988h8M863 951h8M835 720h8M2385 726h8M1914 964h8M2084 1010h8M2031 727h8M1273 952h8M1959 953h8M1965 1020h8M575 971h8M1616 1007h8M1194 974h8M2528 717h8M2445 668h8M2787 991h8M2038 725h8M817 968h8M2187 951h8M1453 959h8M2000 714h8M981 717h8M972 706h8M1922 996h8M537 710h8M956 956h8M2736 704h8M2215 963h8M2075 651h8M2731 997h8M2052 980h8M1181 731h8M1689 681h8M2672 960h8M2747 698h8M2030 961h8M2784 1002h8M728 686h8M1549 721h8M2222 706h8M687 719h8M1015 728h8M2011 955h8M827 1003h8M2383 1038h8M576 722h8M1637 964h8M1044 715h8M1007 963h8M1501 718h8M792 962h8M1670 719h8M1447 985h8M2786 661h8M1953 722h8M792 961h8M982 957h8M2183 628h8M1103 712h8M1742 632h8M1482 958h8M1826 952h8M532 708h8M551 704h8M974 702h8M2294 565h8M1693 720h8M2129 709h8M971 1060h8M2709 965h8M1030 702h8M2349 1029h8M740 712h8M520 961h8M1242 731h8M727 970h8M1817 716h8M2491 996h8M2455 719h8M1120 960h8M2068 979h8M1230 696h8M1440 658h8M1551 727h8M1188 702h8M884 719h8M530 698h8M1869 723h8M2221 721h8M2469 710h8M2529 988h8M2301 708h8M2345 970h8M2729 690h8M1011 728h8M1265 725h8M1443 972h8M2057 954h8M2501 732h8M632 1008h8M2469 986h8M807 955h8M2121 1012h8M2656 696h8M2366 672h8M1326 714h8M1576 705h8M549 951h8M1823 732h8M2436 953h8M2848 958h8M2712 725h8M1845 704h8M2239 712h8M837 670h8M2228 619h8M774 693h8M1980 714h8M1996 730h8M2771 1012h8M2830 678h8M1043 954h8M1132 727h8M1573 1066h8M769 960h8M2583 681h8M1056 717h8M2634 698h8M2339 979h8M1497 669h8M1265 706h8M1167 961h8M2641 978h8M1968 1008h8M1698 730h8M1788 954h8M1131 704h8M655 960h8M2568 665h8M1922 1046h8M1283 991h8M1089 710h8M1009 998h8M2762 717h8M2558 728h8M2404 723h8M2359 957h8M2500 979h8M1550 678h8M950 968h8M2097 720h8M2805 731h8M588 725h8M1458 713h8M657 959h8M1715 980h8M1596 701h8M2030 980h8M2698 691h8M2636 696h8M2768 1041h8M1166 725h8M884 717h8M1961 706h8M769 680h8M1273 954h8M1331 975h8M2848 979h8M1394 957h8M2124 715h8M2283 718h8M2686 960h8M1561 955h8M682 728h8M2386 733h8M810 685h8M1501 986h8M1526 727h8M2513 975h8M582 951h8M1752 723h8M2748 725h8M740 706h8M1852 691h8M1433 951h8M1513 956h8M730 675h8M830 700h8M1660 694h8M2461 977h8M2163 689h8M959 713h8M1500 727h8M2437 1001h8M749 976h8M2561 982h8M561 987h8M1810 1009h8M1861 697h8M1108 718h8M1081 722h8M1186 669h8M1813 714h8M2762 718h8M1884 953h8M620 670h8M1524 957h8M1711 962h8M2563 998h8M2224 732h8M1626 977h8M2548 718h8M1755 964h8M1038 968h8M2641 718h8M2324 970h8M1936 992h8M1601 990h8M1349 956h8M1450 1002h8M2170 958h8M2765 668h8M1078 976h8M1359 720h8M2843 699h8M2556 683h8M571 960h8M994 710h8M608 721h8M1895 670h8M1030 710h8M1560 722h8M604 952h8M2750 693h8M2824 956h8M2238 726h8M1390 721h8M2724 697h8M2546 701h8M1398 732h8M1869 955h8M1223 961h8M2298 995h8M1809 676h8M1354 702h8M2832 977h8M1184 989h8M1885 723h8M1942 716h8M1345 684h8M813 670h8M2543 676h8M2169 954h8M1231 958h8M1304 706h8M2287 722h8M1401 718h8M2773 965h8M2253 707h8M2831 708h8M686 728h8M2619 692h8M1400 961h8M2576 986h8M2833 720h8M2059 960h8M2734 705h8M1085 968h8M2501 958h8M1708 707h8M2090 961h8M2242 957h8M1276 715h8M1879 708h8M895 989h8M2463 958h8M1774 703h8M1341 963h8M1297 707h8M1153 953h8M2744 954h8M1706 1013h8M2699 954h8M2283 987h8M547 699h8M679 997h8M1741 684h8M2603 974h8M1606 972h8M1008 662h8M755 977h8M2662 731h8M2280 972h8M1801 971h8M1077 957h8M544 696h8M947 952h8M1290 720h8M1783 970h8M2338 686h8M1043 954h8M1446 971h8M2605 729h8M590 990h8M570 675h8M2096 672h8M1955 969h8M1995 953h8M2545 712h8M2522 963h8M917 956h8M901 957h8M2723 726h8M845 960h8M1666 711h8M2821 966h8M1082 951h8M2358 663h8M2687 960h8M2722 703h8M2245 964h8M607 957h8M2504 971h8M2687 716h8M1388 708h8M1354 733h8M1135 733h8M1396 678h8M2628 699h8M918 973h8M1960 719h8M1011 960h8M2090 711h8M1803 1052h8M819 657h8M940 695h8M1930 726h8M2715 704h8M1237 1029h8M2561 976h8M932 697h8M2784 726h8M2229 970h8M1063 724h8M849 732h8M1394 669h8M1508 695h8M1270 730h8M2084 667h8M2748 967h8M1106 722h8M1286 676h8"/>
<path transform="scale(0.1)" stroke="#000" stroke-opacity="0.5" stroke-width="8" fill="none" d="M2009 987h8M2155 953h8M529 720h8M805 966h8M1048 694h8M1442 1054h8M2659 971h8M1124 1034h8M1138 955h8M1075 708h8M2247 730h8M571 731h8M2264 1004h8M560 1038h8M1161 712h8M845 712h8M2680 970h8M2759 722h8M1436 954h8M2614 691h8M670 964h8M1702 1083h8M1247 959h8M1805 952h8M1727 713h8M819 729h8M1005 1023h8M2607 709h8M2230 1040h8M2490 689h8M850 718h8M1507 720h8M2356 954h8M1222 960h8M1463 983h8M2792 975h8M821 959h8M2458 726h8M1681 978h8M1694 972h8M2325 953h8M560 727h8M1494 983h8M1113 960h8M1730 716h8M857 953h8M1311 711h8M747 1031h8M2412 690h8M2271 969h8M1899 726h8M1696 711h8M2477 983h8M1044 955h8M1270 968h8M1392 955h8M2003 587h8M1344 692h8M1828 964h8M824 713h8M827 677h8M1187 1004h8M1479 717h8M782 712h8M2250 673h8M1309 971h8M1387 698h8M1071 731h8M2386 956h8M1865 708h8M2824 720h8M1144 726h8M1913 705h8M1576 1046h8M2002 980h8M2579 960h8M2241 726h8M1080 716h8M921 723h8M560 970h8M1287 987h8M1835 998h8M2663 724h8M754 960h8M2451 957h8M2357 704h8M1078 956h8M2712 733h8M2777 728h8M1963 666h8M2530 703h8M1788 966h8M874 719h8M952 967h8M738 961h8M2209 695h8M2197 687h8M2227 975h8M677 709h8M2663 698h8M1520 959h8M2167 712h8M2706 978h8M1362 732h8M2061 702h8M1067 680h8M713 961h8M1025 730h8M1829 710h8M2763 665h8M1466 727h8M923 733h8M1417 692h8M2622 703h8M1647 970h8M638 1059h8M1097 718h8M2415 1000h8M677 730h8M1037 965h8M1716 712h8M1475 726h8M1346 993h8M2352 699h8M2276 1015h8M1861 1006h8M1944 964h8M2734 715h8M2688 958h8M1359 698h8M2043 986h8M941 702h8M1038 733h8M644 969h8M977 703h8M2279 716h8M2669 720h8M1063 1017h8M1976 963h8M2750 714h8M1957 706h8M673 969h8M1008 967h8M754 960h8M877 991h8M1713 643h8M2051 698h8M1169 685h8M1726 960h8M2197 706h8M2834 993h8M1405 972h8M2414 654h8M1640 952h8M1666 714h8M591 1005h8M1702 1007h8M1473 671h8M1641 1074h8M1394 960h8M2431 650h8M1057 720h8M2301 696h8M1522 725h8M1768 721h8M2696 953h8M2612 957h8M1494 956h8M1527 714h8M1590 695h8M1113 707h8M932 959h8M2276 626h8M1630 976h8M724 1005h8M1814 684h8M2106 1003h8M1822 674h8M2525 960h8M1490 732h8M1115 957h8M1621 995h8M604 730h8M1990 688h8M2824 720h8M1146 969h8M525 723h8M2630 1009h8M1336 954h8M1134 681h8M1379 725h8M2598 711h8M2629 993h8M748 704h8M1934 951h8M1192 989h8M2674 981h8M2167 958h8M1280 974h8M1844 1013h8M2782 1020h8M1308 958h8M1494 970h8M2637 719h8M576 1012h8M2171 730h8M1737 991h8M2576 729h8M1498 716h8M1241 980h8M2747 732h8M2142 961h8M2576 1014h8M2107 704h8M2747 722h8M1691 721h8M1630 961h8M798 697h8M2118 722h8M617 968h8M2584 997h8M1977 732h8M939 953h8M2340 952h8M2359 960h8M793 678h8M1001 632h8M810 713h8M820 952h8M2235 987h8M1971 1004h8M686 660h8M1516 602h8M1628 975h8M1912 972h8M1860 969h8M1143 955h8M1465 964h8M1222 669h8M585 723h8M1114 715h8M1514 958h8M1936 1037h8M951 983h8M2616 728h8M2342 664h8M1167 999h8M1347 721h8M1319 958h8M868 669h8M613 990h8M2441 997h8M1477 666h8M2088 959h8M2608 957h8M881 712h8M1526 955h8M1671 684h8M2028 986h8M1122 691h8M2143 957h8M2553 679h8M1802 673h8M626 723h8M1922 954h8M1022 720h8M1339 692h8M2260 721h8M2101 687h8M622 988h8M2694 981h8M2259 707h8M2773 1004h8M2119 636h8M1436 700h8M2087 705h8M775 721h8M2455 715h8M670 952h8M2788 976h8M2740 958h8M2111 712h8M1661 990h8M820 705h8M2305 985h8M2481 709h8M2066 964h8M1333 988h8M551 677h8M1550 724h8M2401 952h8M2844 692h8M1333 685h8M2314 722h8M1443 719h8M1776 680h8M900 964h8M1515 715h8M2781 723h8M2392 722h8M1171 957h8M2750 999h8M2158 731h8M988 967h8M1868 710h8M1624 709h8M2693 956h8M2838 722h8M2786 731h8M953 968h8M2278 951h8M755 698h8M872 695h8M2500 961h8M1765 966h8M2042 989h8M1863 951h8M2548 729h8M2213 1029h8M2820 1013h8M2242 726h8M2836 959h8M2332 677h8M1286 982h8M1160 969h8M723 1003h8M2266 730h8M666 1015h8M870 689h8M844 971h8M2782 711h8M1412 983h8M2400 957h8M2203 970h8M2224 951h8M1113 958h8M2182 691h8M2546 684h8M564 1022h8M658 658h8M1661 704h8M1798 964h8M1118 695h8M846 997h8M1261 966h8M2218 969h8M1892 703h8M1131 970h8M1291 714h8M1070 1021h8M720 974h8M1946 726h8M1427 951h8M1191 683h8M940 720h8M1465 985h8M1339 965h8M722 976h8M1552 989h8M937 970h8M810 971h8M1137 723h8M2252 1007h8M874 717h8M1518 729h8M1156 964h8M1007 1082h8M2282 730h8M1042 962h8M1203 1005h8M605 719h8M692 728h8M926 713h8M952 704h8M863 719h8M592 962h8M1685 702h8M2771 1003h8M844 969h8M1956 688h8M1506 998h8M1570 705h8M1933 714h8M2692 721h8M1412 1036h8M1727 696h8M1277 688h8M1228 988h8M735 979h8M1971 712h8M978 982h8M665 960h8M1592 1026h8M1670 702h8M2656 686h8M710 956h8M2460 984h8M2484 708h8M2418 969h8M1588 729h8M979 1043h8M2448 1003h8M2654 996h8M1403 709h8M1622 957h8M1484 955h8M684 717h8M2295 704h8M902 1040h8M1604 981h8M1314 983h8M823 727h8M1415 963h8M1751 650h8M970 654h8M1332 968h8M1892 970h8M1673 954h8M2812 718h8M1237 710h8M614 955h8M1198 962h8M577 704h8M2582 702h8M982 961h8M2036 962h8M2424 660h8M1330 961h8M2211 1006h8M2568 680h8M2525 1037h8M2082 688h8M2636 1000h8M2183 723h8M2372 970h8M2639 959h8M611 731h8M1722 691h8M775 699h8M1254 998h8M1479 699h8M2404 711h8M1392 1027h8M2213 955h8M912 1041h8M2321 704h8M1454 705h8M1231 968h8M522 960h8M1155 971h8M865 954h8M864 718h8M932 719h8M1987 680h8M2148 965h8M1166 695h8M1209 726h8M1176 687h8M1825 715h8M1831 730h8M2508 967h8M1425 730h8M2336 652h8M2699 994h8M2517 666h8M842 985h8M2464 970h8M2457 726h8M2114 992h8M1783 1037h8M1211 955h8M1669 664h8M1547 951h8M665 1004h8M2519 675h8M2299 967h8M1643 651h8M2595 732h8M1033 952h8M700 1032h8M988 726h8M788 728h8M2275 691h8M2385 952h8M1640 952h8M2387 978h8M2697 982h8M1715 1031h8M2087 713h8M2223 953h8M2267 959h8M2422 724h8M2102 713h8M2714 953h8M1790 1030h8M1092 966h8M1076 731h8M2706 963h8M1026 957h8M1776 649h8M1812 955h8M2225 721h8M843 713h8M1414 1038h8M778 658h8M1261 712h8M2395 1010h8M603 728h8M944 990h8M617 971h8M1183 997h8M1431 984h8M1761 1005h8M2339 731h8M1335 727h8M2682 729h8M643 1004h8M796 716h8M2606 991h8M667 956h8M1554 960h8M759 701h8M2814 967h8M1025 971h8M1615 673h8M1304 979h8M2502 954h8M940 955h8M1495 718h8M2756 980h8M1458 970h8M2280 726h8M1923 989h8M1242 701h8M535 729h8M2274 976h8M885 953h8M2449 971h8M1002 685h8M1945 712h8M1216 652h8M2247 1002h8M1782 977h8M2813 674h8M540 729h8M621 958h8M1040 978h8M2543 972h8M805 720h8M633 961h8M2701 708h8M2766 959h8M1904 640h8M1470 974h8M2228 1074h8M1047 976h8M1409 733h8M829 723h8M1577 713h8M2498 728h8M1907 667h8M2100 953h8M2849 706h8M1911 1019h8M2096 1021h8M1124 955h8M686 730h8M1790 958h8M1351 693h8M581 704h8M1739 717h8M1493 700h8M2072 993h8M831 727h8M2259 714h8M2507 976h8M2368 994h8M2608 975h8M1716 705h8M1040 729h8M914 960h8M1624 666h8M1477 993h8M2604 733h8M752 956h8M2347 958h8M2390 973h8M521 694h8M1912 983h8M1771 958h8M2094 720h8M1951 674h8M1912 711h8M1085 951h8M2113 675h8M876 726h8M1835 966h8M1338 702h8M680 953h8M1810 969h8M1824 625h8M2016 995h8M1625 717h8M750 975h8M618 717h8M1886 703h8M1883 711h8M2044 964h8M1050 980h8M1550 714h8M2384 957h8M2194 701h8M1980 729h8M1648 703h8M1366 969h8M2276 700h8M726 968h8M648 701h8M1770 724h8M1153 727h8M1242 990h8M2369 722h8M1752 729h8M2495 714h8M2045 969h8M2040 728h8M1849 693h8M2180 1023h8M1741 971h8M2218 708h8M1834 969h8M691 673h8M1030 1037h8M2377 727h8M2023 968h8M1809 723h8M1844 996h8M1709 717h8M926 965h8M1951 724h8M1319 706h8M2271 718h8M2553 981h8M1681 699h8M1203 704h8M2189 964h8M2758 973h8M557 704h8M1138 953h8M1550 695h8M1514 952h8M2352 973h8M1827 971h8M1853 732h8M1226 977h8M2800 989h8M2128 966h8M2505 969h8M694 952h8M2680 960h8M2311 1016h8M2699 954h8M2775 700h8M1750 966h8M1074 977h8M2645 730h8M1965 692h8M1811 682h8M984 967h8M1649 1042h8M1244 692h8M2535 725h8M1115 1001h8M1351 656h8M831 955h8M1752 640h8M2563 985h8M1899 669h8M1630 724h8M2312 727h8M2159 690h8M1864 952h8M2487 954h8M598 955h8M1734 684h8M1070 725h8M1017 981h8M2780 729h8M2189 958h8M646 627h8M715 951h8M975 711h8M1751 722h8M1691 957h8M1599 731h8M2101 970h8M1411 730h8M2794 727h8M1369 691h8M1983 974h8M2305 993h8M860 959h8M2746 951h8M1915 968h8M1915 720h8M955 971h8M1442 958h8M1560 720h8M1436 984h8M2215 713h8M2240 720h8M810 978h8M2803 1004h8M1421 952h8M2309 963h8M1748 965h8M732 721h8M1180 957h8M2363 729h8M1309 963h8M2668 702h8M2771 688h8M1358 733h8M881 702h8M1690 956h8M2564 1041h8M2050 723h8M2568 967h8M1803 732h8M1898 718h8M1165 716h8M607 1012h8M2022 1040h8M2272 953h8M748 732h8M1034 979h8M1386 727h8M737 1018h8M2430 952h8M1654 715h8M617 715h8M584 708h8M1305 960h8M1554 953h8M2195 953h8M715 732h8M599 711h8M2309 720h8M1873 989h8M2312 713h8M1720 952h8M1196 684h8M700 1010h8M2596 963h8M1490 703h8M2489 983h8M2747 725h8M1284 971h8M791 682h8M1138 666h8M1985 714h8M1893 977h8M1147 972h8M1900 987h8M776 691h8M2717 980h8M2593 956h8M1383 697h8M2453 706h8M2503 974h8M691 961h8M1490 709h8M877 961h8M781 723h8M1946 710h8M1991 986h8M2048 712h8M1189 959h8M2217 723h8M763 1063h8M783 952h8M1051 696h8M762 674h8M2014 730h8M1482 970h8M1922 956h8M1965 723h8M926 1014h8M2509 725h8M2031 1009h8M813 729h8M1754 733h8M1375 952h8M1888 979h8M2771 1073h8M2478 985h8M1260 1002h8M2763 973h8M1935 1050h8M1008 730h8M614 700h8M679 700h8M996 1033h8M2071 975h8M1232 731h8M2636 1001h8M832 730h8M2753 716h8M2560 729h8M1124 1007h8M1164 981h8M2140 982h8M719 701h8M2245 726h8M1864 1016h8M2449 730h8M2179 1047h8M829 958h8M2340 714h8M1930 681h8M1746 981h8M2180 727h8M1618 720h8M1242 708h8M2797 726h8M877 969h8M1922 956h8M1091 720h8M1437 973h8M2515 712h8M1771 685h8M681 985h8M1107 958h8M731 708h8M1047 706h8M1777 969h8M2757 1020h8M2202 1013h8M2725 963h8M1252 714h8M2329 730h8M1718 698h8M2105 719h8M1517 964h8M1360 729h8M2633 964h8M1151 973h8M1750 966h8M1079 706h8M636 644h8M1052 696h8M1449 967h8M2424 686h8M783 724h8M2521 1002h8M2358 705h8M2544 968h8M1718 1067h8M733 699h8M2841 713h8M1645 722h8M1776 975h8M690 965h8M529 980h8M866 970h8M2804 965h8M1190 952h8M909 717h8M578 958h8M1753 663h8M2385 979h8M1919 975h8M1500 723h8M1467 730h8M1804 722h8M2352 1032h8M1789 732h8M2320 980h8M2296 703h8M2812 716h8M1558 975h8M2377 968h8M1961 731h8M704 962h8M1578 726h8M801 688h8M607 730h8M2013 724h8M1457 977h8M774 965h8M855 951h8M1201 952h8M1645 954h8M914 720h8M816 969h8M1556 982h8M855 983h8M2719 722h8M2642 713h8M1106 978h8M2555 961h8M2495 971h8M1621 959h8M885 731h8M920 992h8M2404 957h8M2495 959h8M1769 723h8M2242 954h8M2102 696h8M735 709h8M1412 962h8M573 729h8M1571 720h8M799 954h8M2516 672h8M1613 701h8M1861 998h8M2376 992h8M1183 984h8M555 957h8M1068 675h8M1477 956h8M1991 732h8M729 707h8M1183 730h8M2516 697h8M1977 964h8M2211 967h8M1331 1021h8M2539 970h8M1355 676h8M2827 1009h8M1368 709h8M1415 689h8M2650 964h8M882 978h8M1254 648h8M2359 716h8M582 982h8M2228 700h8M1251 709h8M2117 686h8M1612 959h8M2728 724h8M1457 719h8M2850 717h8M1663 721h8M1089 1034h8M1024 657h8M1933 973h8M1137 962h8M1257 957h8M2210 675h8M1275 991h8M2011 715h8M2515 1013h8M2466 970h8M1542 1007h8M1190 967h8M1195 714h8M2586 991h8M1419 712h8M1147 1009h8M1428 954h8M1551 1005h8M763 677h8M1304 698h8M937 717h8M549 713h8M1479 968h8M1498 1010h8M707 971h8M1523 959h8M1904 961h8M898 713h8M2761 1024h8M605 727h8M751 718h8M1279 730h8M2388 719h8M1605 964h8M2208 725h8M2392 1001h8M885 990h8M1095 960h8M2061 955h8M664 684h8M1479 725h8M1209 967h8M2625 954h8M2510 979h8M2766 958h8M2269 952h8M2080 731h8M1305 979h8M1726 959h8M1266 702h8M2376 959h8M1623 729h8M2822 723h8M2520 956h8M580 695h8M2253 725h8M2834 953h8M2259 1000h8M1721 954h8M561 1007h8M2457 732h8M2532 952h8M2287 720h8M1157 963h8M1509 699h8M2830 984h8M1507 951h8M1190 971h8M2122 963h8M2111 983h8M2246 701h8M1513 1003h8M761 1018h8M686 980h8M1927 713h8M1016 680h8M1823 999h8M582 957h8M1317 649h8M2756 959h8M1327 975h8M1639 961h8M2826 704h8M1010 994h8M1930 957h8M1430 962h8M2767 995h8M2345 726h8M1709 1015h8M782 670h8M2314 985h8M1135 952h8M2051 730h8M1613 690h8M1163 1002h8M2347 706h8M1799 714h8M1521 730h8M1917 956h8M1922 729h8M2408 972h8M2083 962h8M799 951h8M845 731h8M886 1005h8M2319 959h8M777 709h8M545 975h8M1605 984h8M2843 969h8M2351 1021h8M1055 730h8M2659 727h8M970 963h8M2327 729h8M2656 970h8M2534 701h8M1203 988h8M1009 705h8M2432 1004h8M2269 667h8M1294 726h8M1859 962h8M2080 965h8M633 958h8M2135 703h8M1275 637h8M1114 961h8M1239 711h8M1065 726h8M2642 669h8M1219 716h8M1414 985h8M1113 979h8M843 720h8M1439 707h8M759 955h8M2403 722h8M1596 720h8M1923 723h8M977 720h8M1287 989h8M1955 1083h8M1505 1015h8M2035 672h8M1119 679h8M1147 692h8M1577 715h8M1266 954h8M1928 962h8M888 958h8M2731 723h8M1861 958h8M1226 707h8M2829 666h8M1176 959h8M555 713h8M624 721h8M2008 703h8M912 972h8M2306 701h8M2691 729h8M1760 725h8M639 725h8M749 681h8M988 728h8M639 703h8M1428 724h8M2673 702h8M2781 967h8M2043 955h8M1163 704h8M1994 982h8M1832 952h8M1667 955h8M571 650h8M2761 730h8M1150 702h8M1537 663h8M2266 698h8M1071 664h8M1614 985h8M1927 954h8M1914 708h8M2839 1000h8M2252 702h8M1493 718h8M2390 977h8M1681 679h8M1831 719h8M1042 708h8M1526 973h8M1602 952h8M2303 630h8M2642 954h8M2457 981h8M2517 654h8M2540 962h8M1092 693h8M2838 1020h8M1664 715h8M1594 970h8M2041 703h8M2342 981h8M880 701h8M1954 1003h8M2139 954h8M1731 636h8M2093 725h8M2451 733h8M2136 963h8M2571 965h8M2153 1006h8M1960 730h8M2692 694h8M892 686h8M2509 982h8M683 687h8M1890 1042h8M1231 961h8M2685 965h8M1887 1058h8M1907 723h8M2002 955h8M1018 719h8M2712 721h8M2693 728h8M1976 675h8M1311 968h8M1443 693h8M1847 710h8M2357 985h8M2233 954h8M2167 957h8M1829 694h8M1558 1002h8M2239 709h8M1959 977h8M1798 710h8M2583 715h8M2340 975h8M1245 666h8M1650 722h8M2264 956h8M2705 1023h8M1985 997h8M650 719h8M2820 958h8M2112 707h8M1607 715h8M1313 721h8M2850 956h8M2006 716h8M947 1004h8M938 732h8M1507 727h8M2726 728h8M2113 676h8M1532 962h8M1529 992h8M2550 959h8M2588 728h8M2095 954h8M2052 956h8M1195 980h8M1341 956h8M1565 967h8M1263 670h8M2202 713h8M2596 708h8M1200 1005h8M1275 959h8M601 723h8M1169 968h8M1357 971h8M1702 1000h8M1899 730h8M959 712h8M2404 1020h8M1380 960h8M573 733h8M2144 961h8M2260 977h8M2422 699h8M1613 993h8M2343 966h8M1631 967h8M1080 704h8M621 984h8M2183 649h8M1507 732h8M2451 716h8M1718 996h8M1412 721h8M918 712h8M1022 712h8M2059 724h8M2651 700h8M732 676h8M1932 722h8M1320 718h8M2484 977h8M1421 980h8M1154 713h8M1981 674h8M2678 706h8M1041 731h8M2098 1016h8M2275 1073h8M1920 995h8M2528 670h8M1311 676h8M2749 973h8M852 718h8M2449 981h8M1429 707h8M1159 952h8M887 1029h8M1624 673h8M2073 717h8M925 718h8M1519 971h8M749 963h8M1528 684h8M1256 1000h8M1120 980h8M2416 1031h8M1436 705h8M2492 963h8M2049 726h8M1358 958h8M906 728h8M2407 957h8M1521 969h8M2386 981h8M2787 969h8M1297 724h8M2103 1044h8M576 673h8M999 982h8M910 963h8M2240 986h8M527 685h8M1242 953h8M2269 720h8M1959 970h8M2581 723h8M2819 981h8M2766 960h8M2844 725h8M1850 719h8M1665 712h8M588 980h8M1002 968h8M2739 951h8M927 997h8M2354 1009h8M2068 1038h8M1324 987h8M671 995h8M2178 692h8M976 957h8M1489 957h8M1529 732h8M2128 1061h8M653 961h8M1536 1011h8M2451 972h8M1568 993h8M1019 966h8M1753 721h8M2314 691h8M2800 992h8M2623 990h8M2662 970h8M890 999h8M2575 1006h8M2634 963h8M2079 708h8M2429 963h8M545 962h8M778 954h8M741 991h8M1453 984h8M1311 986h8M1623 706h8M555 1045h8M1777 999h8M2421 961h8M1786 979h8M1488 1007h8M2690 725h8M1969 956h8M1236 1001h8M2300 670h8M868 703h8M1598 954h8M1450 1031h8M1225 692h8M1505 685h8M589 982h8M1507 723h8M2333 680h8M1594 978h8M2413 1051h8M1290 980h8M1678 962h8M1077 1012h8M1275 703h8M677 707h8M550 1033h8M2267 996h8M1513 719h8M1292 951h8M1145 730h8M1739 973h8M2302 723h8M1085 958h8M790 707h8M1150 727h8M523 712h8M1797 971h8M2031 725h8M2033 699h8M2239 965h8M2026 954h8M1623 721h8M922 965h8M2530 715h8M1992 978h8M1786 954h8M1538 969h8M2724 981h8M2402 963h8M1924 717h8M566 980h8M2144 964h8M863 715h8M1727 698h8M897 687h8M2763 713h8M535 689h8M2541 710h8M2165 1014h8M1510 682h8M846 955h8M1466 732h8M2199 632h8M1124 719h8M2620 953h8M1209 719h8M849 984h8M618 970h8M765 1053h8M628 732h8M2236 708h8M1909 985h8M1387 975h8M2815 723h8M2684 692h8M2649 952h8M1476 988h8M1501 996h8M2404 708h8M1791 715h8M2034 730h8M888 723h8M1114 693h8M2306 969h8M2113 967h8M2808 954h8M2641 714h8M2609 984h8M606 732h8M823 983h8M1253 672h8M880 968h8M2321 685h8M2741 699h8M781 718h8M2750 999h8M2203 705h8M2756 958h8M533 719h8M986 727h8M2319 704h8M1637 683h8M2175 1007h8M2394 958h8M1809 971h8M1870 967h8M2703 969h8M2662 716h8M2289 956h8M2510 1015h8M834 970h8M1367 986h8M1107 727h8M921 703h8M2728 964h8M775 723h8M1967 731h8M1501 951h8M1972 685h8M1712 700h8M669 961h8M1941 709h8M1196 712h8M1562 988h8M661 700h8M1903 711h8M1820 988h8M2240 984h8M2822 698h8M2216 1018h8M1158 721h8M1868 1035h8M2300 1028h8M1460 664h8M756 719h8M1144 965h8M2772 995h8M1043 691h8M1211 989h8M989 713h8M2687 983h8M945 727h8M1940 959h8M2226 732h8M1727 953h8M782 709h8M2201 722h8M2797 694h8M2214 718h8M2086 1026h8M2083 686h8M754 687h8M2078 1006h8M1491 965h8M2132 718h8M1455 987h8M636 966h8M2314 1036h8M2517 955h8M1743 708h8M1641 719h8M1004 956h8M2392 692h8M1148 960h8M2043 982h8M834 721h8M2190 956h8M1753 970h8M1820 643h8M876 691h8M1276 968h8M904 1012h8M2097 952h8M2275 967h8M1568 725h8M2393 715h8M2508 696h8M2372 725h8M1816 708h8M2376 982h8M2447 953h8M901 684h8M1145 981h8M2485 956h8M2261 967h8M2521 984h8M683 678h8M1062 977h8M796 731h8M2099 961h8M787 965h8M1115 687h8M575 1057h8M1821 700h8M1720 955h8M2321 687h8M2715 724h8M1965 1002h8M1157 964h8M1377 987h8M1214 1076h8M2193 707h8M1597 712h8M2743 714h8M2320 659h8M2092 967h8M1859 713h8M2161 1007h8M1482 957h8M2383 731h8M2078 721h8M2656 729h8M2346 1036h8M2644 723h8M834 961h8M2208 652h8M958 694h8M1871 732h8M2729 700h8M1552 667h8M872 976h8M611 968h8M542 680h8M1725 693h8M1747 964h8M2650 719h8M1538 953h8M2446 999h8M1706 671h8M2099 962h8M902 667h8M2663 690h8M2753 953h8M1024 974h8M734 725h8M1476 968h8M647 688h8M2284 963h8M1455 969h8M1182 726h8M2723 970h8M1084 730h8M1197 993h8M908 707h8M2458 731h8M1898 961h8M2610 955h8M1118 964h8M753 979h8M2743 956h8M2703 705h8M2563 701h8M588 711h8M1731 690h8M2072 694h8M917 1020h8M2571 722h8M2480 716h8M1566 956h8M1538 987h8M2676 728h8M1999 634h8M1909 716h8M1133 955h8M1090 725h8M1461 678h8M2050 978h8M1598 667h8M1202 1012h8M2023 1016h8M1627 957h8M2643 724h8M559 663h8M1311 674h8M1374 722h8M2113 709h8M540 707h8M520 721h8M1387 971h8M923 998h8M2033 983h8M1260 706h8M1163 724h8M1127 976h8M1728 723h8M623 722h8M1659 1005h8M957 957h8M989 669h8M1006 1029h8M2000 995h8M2751 697h8M1125 708h8M1590 963h8M1783 722h8M587 732h8M575 973h8M1001 958h8M1235 980h8M1952 955h8M660 1010h8M1840 992h8M2338 731h8M1348 965h8M1245 952h8M2772 1001h8M1049 728h8M2321 718h8M1835 960h8M2512 955h8M2838 670h8M1580 1013h8M1404 716h8M1268 713h8M1418 725h8M701 974h8M1454 1017h8M1199 960h8M1948 724h8M778 717h8M1096 717h8M1290 967h8M2104 984h8M1937 710h8M2251 959h8M1054 678h8M572 1016h8M1440 966h8M587 716h8M965 1002h8M2424 982h8M778 960h8M2834 959h8M534 990h8M1939 958h8M648 958h8M1395 963h8M582 695h8M2578 954h8M2684 952h8M1014 957h8M1825 986h8M2145 707h8M834 1013h8M1172 1023h8M785 964h8M2031 969h8M2024 711h8M1210 969h8M529 713h8M554 1005h8M896 725h8M943 973h8M1316 724h8M603 976h8M2118 730h8M573 692h8M2714 690h8M2114 1064h8M2106 1002h8M1641 982h8M895 727h8M2226 1009h8M1559 716h8M2445 954h8M929 994h8M1077 963h8M1347 958h8M2712 962h8M796 695h8M1176 733h8M536 968h8M1197 697h8M2692 715h8M2753 962h8M1271 952h8M1250 719h8M2161 695h8M1861 956h8M2089 718h8M932 951h8M1204 958h8M1106 677h8M1785 727h8M1490 729h8M1816 730h8M2272 954h8M523 702h8M1488 994h8M1554 960h8M1242 981h8M1672 716h8M656 706h8M1169 1024h8M1305 963h8M1388 951h8M2803 969h8M2484 702h8M2325 692h8M961 967h8M1158 960h8M2591 703h8M951 720h8M1014 665h8M999 984h8M1943 972h8M1879 713h8M1095 1011h8M1584 716h8M2533 711h8M2510 729h8M1248 729h8M662 964h8M2372 677h8M1989 599h8M2809 698h8M1898 960h8M956 987h8M924 731h8M1969 1015h8M2437 732h8M1527 987h8M1649 977h8M1416 951h8M665 969h8M1775 991h8M818 992h8M912 729h8M1772 1001h8M2780 954h8M2485 730h8M1498 1011h8M2382 722h8M948 731h8M1817 717h8M1254 700h8M2744 721h8M1359 965h8M1663 978h8M1475 953h8M1697 728h8M2403 716h8M1487 957h8M2468 722h8M817 958h8M850 988h8M2764 707h8M2302 953h8M1853 1070h8M1287 715h8M2533 956h8M2421 707h8M2553 956h8M2067 716h8M2623 732h8M2697 963h8M704 974h8M1293 1016h8M731 966h8M2550 670h8M2167 956h8M2760 986h8M1661 978h8M1672 668h8M1210 953h8M910 989h8M1113 974h8M2673 951h8M2120 1040h8M2688 961h8M2552 959h8M2850 989h8M2626 982h8M835 675h8M532 705h8M1424 707h8M2060 984h8M1810 714h8M801 731h8M1013 956h8M1948 707h8M1660 960h8M1175 1041h8M954 709h8M2216 970h8M1740 960h8M1143 977h8M1627 705h8M1887 952h8M2586 730h8M1441 954h8M1056 984h8M2540 999h8M2200 710h8M2241 955h8M2377 985h8M1951 663h8M749 649h8M1041 980h8M1597 720h8M2789 717h8M1236 718h8M1804 953h8M2068 982h8M1324 956h8M702 667h8M1493 1051h8M1872 966h8M1074 683h8M2242 962h8M1719 730h8M2561 725h8M2538 707h8M1399 975h8M1640 727h8M1037 695h8M2341 961h8M1919 698h8M1175 721h8M1574 959h8M1300 700h8M2544 983h8M2565 707h8M801 705h8M2133 723h8M2835 661h8M1910 724h8M827 986h8M699 962h8M1722 1001h8M2426 951h8M891 977h8M1262 1006h8M2559 960h8M1409 967h8M2449 971h8M1125 955h8M2659 978h8M2042 720h8M2568 705h8M2494 1032h8M1867 729h8M1816 704h8M2215 957h8M1154 728h8M2393 986h8M1642 719h8M565 964h8M1271 623h8M2461 679h8M786 967h8M2798 727h8M919 701h8M2078 981h8M876 975h8M2735 961h8M2733 718h8M982 966h8M2599 732h8M1482 1018h8M2497 967h8M2803 730h8M629 700h8M599 666h8M1187 689h8M2413 721h8M1143 685h8M871 973h8M1216 972h8M2213 706h8M2527 699h8M572 961h8M1036 719h8M2769 966h8M1518 1004h8M2059 691h8M2432 641h8M712 698h8M2277 962h8M2355 953h8M1851 955h8M639 732h8M1606 998h8M1993 966h8M2013 1007h8M1291 719h8M2387 961h8M821 732h8M580 972h8M2230 658h8M1122 1026h8M1143 952h8M582 955h8M2334 964h8M1352 662h8M2017 678h8M2645 724h8M2368 971h8M1773 1020h8M673 731h8M2791 978h8M977 973h8M1651 989h8M2152 713h8M2158 977h8M2713 730h8M1878 709h8M1652 711h8M2689 1006h8M945 1018h8M2624 1005h8M1792 960h8M835 958h8M1109 961h8M1219 729h8M601 654h8M2230 1017h8M1485 675h8M1494 1018h8M2568 996h8M2163 986h8M1524 975h8M2456 967h8M1196 719h8M1623 961h8M1010 695h8M1939 961h8M2579 961h8M826 703h8M2618 732h8M2798 975h8M2061 730h8M1799 730h8M2430 962h8M1686 728h8M2126 989h8M2654 985h8M1139 690h8M1549 656h8M2815 960h8M615 722h8M2087 712h8M1829 955h8M2187 708h8M964 952h8M1618 1036h8M1310 1023h8M1389 983h8M861 717h8M2201 1000h8M1982 956h8M2327 972h8M1688 732h8M1901 966h8M2467 707h8M2510 961h8M2677 731h8M1805 983h8M856 967h8M619 974h8M1847 961h8M1182 958h8M2691 708h8M1800 991h8M2584 727h8M1008 675h8M707 732h8M1749 691h8M1845 720h8M972 960h8M1358 721h8M2216 1013h8M1105 670h8M609 724h8M1175 672h8M1958 986h8M619 965h8M670 1011h8M2400 719h8M901 954h8M2690 720h8M1684 727h8M2493 697h8M2819 729h8M1076 958h8M1719 704h8M1981 1071h8M2252 970h8M2622 1001h8M931 709h8M861 710h8M665 707h8M2587 660h8M725 727h8M662 702h8M1615 964h8M2836 951h8M1945 712h8M2035 960h8M1699 726h8M1073 995h8M1601 985h8M2370 724h8M795 960h8M1563 970h8M2813 957h8M2352 968h8M2348 964h8M925 952h8M703 717h8M2471 726h8M1572 963h8M2534 962h8M1417 987h8M788 698h8M1955 668h8M2047 726h8M1361 722h8M2293 969h8M778 968h8M2353 701h8M805 1022h8M752 731h8M2159 968h8M1003 704h8M2450 665h8M945 687h8M1327 733h8M1611 962h8M2264 721h8M2661 713h8M2817 697h8M2718 732h8M1926 704h8M894 1060h8M1891 732h8M2367 624h8M1016 728h8M1415 728h8M2441 726h8M1937 722h8M1646 705h8M2505 730h8M1408 732h8M2851 982h8M627 665h8M2828 957h8M559 956h8M1150 988h8M1268 996h8M679 719h8M2685 720h8M2345 717h8M1425 722h8M2726 716h8M2279 977h8M533 726h8M1383 984h8M2700 731h8M2528 677h8M1143 966h8M753 980h8M1346 975h8M1375 721h8M2769 954h8M1262 723h8M910 685h8M2702 725h8M853 972h8M966 700h8M537 954h8M2499 1015h8M1500 951h8M2166 967h8M1660 702h8M1942 730h8M726 711h8M2242 964h8M771 715h8M2608 956h8M2224 723h8M1446 711h8M832 993h8M1270 688h8M2752 954h8M2481 957h8M1003 715h8M2225 683h8M2382 721h8M971 712h8M2660 721h8M2330 960h8M2213 728h8M1327 1004h8M1138 732h8M797 985h8M1764 972h8M565 683h8M2441 673h8M820 709h8M917 714h8M1282 952h8M1433 1008h8M636 701h8M981 731h8M1320 968h8M1704 718h8M2849 966h8M2210 718h8M764 687h8M892 711h8M2361 982h8M2178 998h8M1154 731h8M1086 965h8M1508 731h8M1258 725h8M930 715h8M894 954h8M2479 672h8M1826 706h8M1166 975h8M2759 992h8M1531 983h8M2237 987h8M2323 704h8M2213 977h8M1918 708h8M2789 979h8M2214 980h8M1909 663h8M1381 957h8M956 732h8M2642 965h8M1453 1016h8M2759 730h8M1111 974h8M1245 1042h8M2222 960h8M2647 726h8M1057 701h8M2453 625h8M2284 717h8M1241 954h8M2274 978h8M1923 1030h8M2786 955h8M841 954h8M1717 703h8M928 956h8M1375 700h8M2744 713h8M2031 721h8M1856 952h8M1576 954h8M659 993h8M1625 973h8M2652 978h8M2336 959h8M600 715h8M2079 970h8M928 1002h8M1566 711h8M1167 951h8M1741 1001h8M782 708h8M2780 1026h8M2380 979h8M734 698h8M1394 954h8M1776 973h8M2337 987h8M2172 713h8M634 978h8M1385 709h8M715 989h8M1340 708h8M2334 966h8M1388 660h8M915 956h8M1646 953h8M873 730h8M1645 981h8M1293 716h8M2698 731h8M2679 991h8M1115 718h8M2317 725h8M2778 702h8M1197 992h8M1191 997h8M841 714h8M580 980h8M2546 713h8M1293 725h8M657 731h8M717 701h8M2521 628h8M1170 956h8M857 675h8M1711 954h8M1114 1001h8M2034 965h8M2225 715h8M2108 1019h8M659 723h8M1072 958h8M1324 952h8M2235 1000h8M2221 703h8M1549 986h8M1785 648h8M1739 724h8M1242 993h8M1230 964h8M2220 967h8M2759 729h8M1483 701h8M911 709h8M1801 707h8M1602 956h8M1829 1003h8M545 687h8M1386 977h8M2620 732h8M673 1005h8M1077 972h8M2726 962h8M1592 981h8M2782 981h8M2498 704h8M2085 954h8M2491 662h8M578 695h8M1742 960h8M659 1036h8M2627 717h8M1145 678h8M1962 733h8M2394 952h8M2713 701h8M2073 1008h8M1883 697h8M2339 997h8M2396 699h8M994 703h8M1664 691h8M942 731h8M1607 717h8M1220 685h8M752 960h8M2585 959h8M2393 966h8M682 728h8M637 1001h8M2716 688h8M1196 958h8M1048 954h8M2358 981h8M2594 731h8M571 683h8M2745 954h8M2358 1049h8M2466 729h8M771 975h8M1029 985h8M1963 712h8M2689 726h8M1449 985h8M1462 983h8M2745 726h8M1258 702h8M2148 649h8M1371 699h8M1656 958h8M1514 727h8M2569 660h8M1231 666h8M2114 1051h8M2250 971h8M2221 1007h8M1527 703h8M1695 984h8M2609 732h8M2730 953h8M979 731h8M1858 710h8M1421 953h8M1374 696h8M2610 966h8M1995 722h8M707 646h8M818 721h8M1891 707h8M1477 969h8M2203 708h8M526 974h8M1919 731h8M1083 1010h8M1062 677h8M528 712h8M1584 993h8M1179 968h8M1096 971h8M1059 667h8M1288 682h8M2156 963h8M1269 981h8M1197 701h8M1331 719h8M2403 1001h8M1951 970h8M1709 956h8M2172 964h8M2141 977h8M606 675h8M1007 709h8M1130 716h8M1658 714h8M2112 695h8M1769 1000h8M1781 703h8M1240 967h8M1146 958h8M736 726h8M1230 727h8M860 681h8M653 997h8M2764 718h8M2156 953h8M548 982h8M2475 723h8M551 655h8M871 964h8M2068 712h8M1473 705h8M1310 975h8M691 720h8M1017 708h8M2803 979h8M2790 976h8M1003 730h8M2254 954h8M2184 1003h8M1674 727h8M1948 695h8M2381 699h8M2272 704h8M1886 730h8M787 978h8M2845 651h8M643 729h8M2185 716h8M779 733h8M1300 731h8M1328 1002h8M943 984h8M1119 973h8M1561 952h8M2833 717h8M2649 953h8M1438 706h8M1013 706h8M1084 726h8M2134 732h8M1143 1004h8M1462 717h8M2651 708h8M724 671h8M2400 703h8M2750 956h8M2196 966h8M1831 727h8M522 729h8M2224 721h8M894 963h8M2240 729h8M2120 720h8M2471 712h8M2159 690h8M701 732h8M1846 703h8M643 1031h8M2488 953h8M682 701h8M1374 960h8M1384 701h8M2252 958h8M1546 1003h8M2829 954h8M746 719h8M619 976h8M1076 711h8M1307 723h8M1911 963h8M1374 690h8M1147 720h8M603 718h8M2603 706h8M2605 684h8M1733 651h8M727 975h8M905 987h8M1661 959h8M1959 970h8M2336 1073h8M1774 651h8M2339 983h8M1256 670h8M1114 694h8M2761 964h8M2755 705h8M863 705h8M1453 985h8M1255 638h8M1812 702h8M2542 971h8M1100 980h8M2109 729h8M1138 980h8M758 962h8M2500 713h8M2396 672h8M2089 983h8M935 958h8M889 724h8M987 969h8M1996 961h8M1813 731h8M1381 952h8M686 997h8M1357 698h8M1199 725h8M1103 990h8M1595 957h8M2134 981h8M2821 718h8M2775 711h8M2585 980h8M1250 717h8M853 978h8M938 1025h8M661 1070h8M1207 961h8M1363 700h8M2307 968h8M754 1015h8M1805 978h8M1702 709h8M1032 980h8M1203 958h8M1588 956h8M1106 964h8M1271 967h8M1157 669h8M1088 724h8M2448 703h8M2473 719h8M2767 657h8M1584 723h8M1278 717h8M772 673h8M1762 730h8M1842 959h8M2603 952h8M733 731h8M1915 727h8M2487 953h8M711 709h8M759 706h8M2721 688h8M525 700h8M1146 951h8M1019 1004h8M673 953h8M2019 986h8M1109 973h8M944 957h8M2736 730h8M1496 1013h8M2177 1008h8M905 694h8M2550 1001h8M1112 971h8M885 969h8M2450 962h8M1226 670h8M1331 1019h8M1682 681h8M1225 967h8M1483 1003h8M2312 703h8M2306 674h8M1103 953h8M2717 1015h8M2801 954h8M2399 716h8M2811 954h8M2422 724h8M1604 965h8M1613 959h8M543 1003h8M2585 710h8M739 720h8M931 684h8M1962 960h8M2144 991h8M1554 974h8M2836 959h8M854 727h8M1931 713h8M602 722h8M2216 1004h8M1519 993h8M976 966h8M1875 975h8M945 965h8M2505 1006h8M2250 1023h8M1587 688h8M1247 700h8M2096 694h8M1647 993h8M519 1007h8M795 728h8M2499 689h8M1969 987h8M1900 959h8M756 730h8M990 729h8M2329 973h8M1896 675h8M2614 955h8M1477 954h8M910 954h8M1676 708h8M2699 731h8M1730 681h8M556 967h8M1352 976h8M1141 689h8M1079 963h8M2476 978h8M757 730h8M1100 726h8M1861 989h8M590 724h8M1443 729h8M1876 959h8M2336 705h8M2665 1002h8M2099 998h8M957 727h8M1204 961h8M1413 960h8M1919 724h8M2082 709h8M602 716h8M893 722h8M2289 706h8M2033 952h8M2266 1001h8M2291 964h8M965 965h8M1007 711h8M1978 984h8M751 730h8M1038 676h8M1284 961h8M2675 709h8M597 961h8M2516 691h8M636 692h8M524 726h8M1614 723h8M958 979h8M1721 980h8M786 724h8M1452 729h8M1001 954h8M1392 730h8M2005 710h8M1961 700h8M1588 708h8M2373 731h8M1149 960h8M1018 976h8M2826 964h8M2243 727h8M1412 990h8M622 956h8M1152 727h8"/>
<path transform="scale(0.1)" stroke="#000" stroke-opacity="0.5" stroke-width="8" fill="none" d="M658 954h8M1183 1010h8M2742 979h8M1647 709h8M584 732h8M915 691h8M563 704h8M839 679h8M821 962h8M990 731h8M2481 955h8M1753 986h8M693 963h8M1567 643h8M1139 722h8M731 717h8M1098 634h8M1681 732h8M593 685h8M1958 1052h8M2805 965h8M2830 702h8M667 700h8M1970 955h8M2209 721h8M1709 974h8M605 717h8M571 694h8M1759 731h8M1536 978h8M1997 998h8M2188 720h8M1348 700h8M883 726h8M1858 711h8M755 978h8M1613 701h8M2739 733h8M2480 951h8M1258 965h8M2437 971h8M956 994h8M2449 998h8M724 974h8M1129 703h8M1216 993h8M852 700h8M2213 954h8M2228 954h8M1673 1046h8M2260 982h8M2101 963h8M988 697h8M1305 957h8M1554 709h8M1545 974h8M1229 951h8M2627 729h8M1459 715h8M1889 653h8M2067 695h8M629 695h8M2168 727h8M911 717h8M1266 1004h8M2627 682h8M1836 705h8M1016 980h8M2121 720h8M1870 733h8M1067 723h8M986 970h8M2677 952h8M827 658h8M2229 956h8M1213 590h8M2225 660h8M2138 953h8M620 1022h8M935 731h8M1745 971h8M1645 994h8M1762 967h8M2632 723h8M1330 720h8M1716 952h8M2364 975h8M1090 955h8M1060 681h8M2154 963h8M1974 955h8M2396 697h8M2083 704h8M1309 728h8M2475 730h8M1892 981h8M2533 952h8M831 680h8M1452 975h8M2285 952h8M1341 978h8M1276 718h8M2775 694h8M2780 709h8M2811 955h8M1592 729h8M2224 708h8M966 957h8M839 957h8M1849 1024h8M2717 704h8M1137 961h8M2389 1002h8M1127 696h8M1261 960h8M767 727h8M922 719h8M2477 971h8M1456 974h8M1407 972h8M1312 951h8M1029 727h8M1528 969h8M1162 979h8M649 731h8M1305 982h8M2688 730h8M857 688h8M2647 961h8M542 730h8M849 722h8M726 717h8M1140 718h8M2141 967h8M1390 966h8M2348 962h8M2596 676h8M604 967h8M1125 729h8M2064 726h8M1793 993h8M891 728h8M1466 697h8M1035 728h8M2475 728h8M2456 678h8M1277 713h8M2557 710h8M1106 971h8M2418 721h8M2251 962h8M1109 723h8M1384 660h8M2501 972h8M2385 690h8M1408 961h8M1053 999h8M1083 966h8M1396 1017h8M770 968h8M2045 704h8M2545 974h8M2079 995h8M1239 1010h8M2070 975h8M2413 975h8M1483 728h8M2568 976h8M1514 968h8M1957 1040h8M883 683h8M525 702h8M2042 956h8M1611 1013h8M2356 705h8M2387 668h8M2380 975h8M807 730h8M1658 675h8M1876 971h8M926 1014h8M1506 703h8M1994 983h8M1760 649h8M2845 955h8M2694 698h8M1486 719h8M1326 958h8M1030 954h8M1562 655h8M1299 1005h8M1677 726h8M2592 640h8M2456 716h8M785 976h8M1040 709h8M1726 708h8M2401 697h8M1162 974h8M1415 708h8M1357 955h8M663 730h8M2742 721h8M856 959h8M1510 970h8M2712 973h8M2520 977h8M2099 999h8M1363 695h8M1935 653h8M808 733h8M846 980h8M2389 722h8M766 721h8M1914 956h8M2109 709h8M2131 698h8M1664 969h8M1134 720h8M2300 708h8M1722 957h8M1708 730h8M2332 1046h8M713 958h8M825 708h8M1466 655h8M1906 991h8M2562 963h8M1050 710h8M1380 667h8M2501 968h8M831 720h8M2810 991h8M2090 969h8M2100 965h8M1131 718h8M1193 959h8M1529 718h8M2254 688h8M1581 708h8M2686 727h8M1276 1015h8M792 731h8M1087 984h8M795 704h8M2396 982h8M1902 689h8M2263 712h8M2356 974h8M1604 717h8M1492 729h8M2459 958h8M1611 681h8M1464 733h8M808 728h8M2352 970h8M1777 717h8M2821 1022h8M2785 957h8M2535 732h8M1140 968h8M1208 984h8M2183 975h8M2133 720h8M1017 1020h8M541 733h8M916 706h8M2818 732h8M1885 702h8M2166 657h8M2070 670h8M817 710h8M2333 710h8M1414 687h8M2129 724h8M1649 996h8M928 695h8M2147 969h8M619 726h8M1913 968h8M1402 954h8M2736 708h8M1073 715h8M541 726h8M1136 957h8M1004 725h8M2477 996h8M1077 731h8M840 704h8M1453 695h8M574 730h8M2479 975h8M2341 956h8M1767 958h8M2367 712h8M1857 982h8M2844 724h8M853 727h8M1643 968h8M849 955h8M1163 958h8M793 959h8M2804 730h8M979 726h8M531 964h8M1330 965h8M1599 962h8M559 694h8M1592 962h8M1267 959h8M2157 651h8M1750 978h8M2769 1025h8M1216 721h8M1949 730h8M2583 728h8M2578 961h8M2179 714h8M1613 719h8M1302 710h8M805 717h8M2845 724h8M2402 997h8M1017 701h8M1524 976h8M2384 958h8M566 952h8M2336 656h8M1868 985h8M940 953h8M2662 957h8M2041 1008h8M2027 720h8M2814 714h8M579 719h8M1139 986h8M1237 982h8M2136 980h8M1342 688h8M1209 954h8M1216 700h8M719 961h8M2596 709h8M989 727h8M859 953h8M1211 1049h8M2415 953h8M2229 970h8M1508 998h8M2154 979h8M1017 979h8M1603 730h8M595 1078h8M2045 970h8M2121 678h8M2325 998h8M2500 659h8M2266 625h8M1595 726h8M1774 980h8M1677 707h8M890 723h8M834 697h8M1542 967h8M783 718h8M1414 987h8M712 969h8M1822 969h8M2219 700h8M1049 730h8M2119 731h8M2122 960h8M2580 716h8M793 715h8M666 1015h8M777 676h8M1731 1009h8M1557 716h8M2079 724h8M2570 1029h8M2721 973h8M1327 974h8M1694 969h8M2433 966h8M2804 999h8M1507 1018h8M1817 961h8M832 962h8M1530 968h8M2020 652h8M651 959h8M1176 727h8M2254 958h8M2722 1007h8M2318 727h8M581 671h8M2398 726h8M2491 956h8M1839 692h8M1474 959h8M1504 707h8M2772 957h8M909 967h8M1380 677h8M1331 951h8M831 725h8M1814 1002h8M824 718h8M2321 991h8M2353 702h8M1861 681h8M1609 732h8M1614 962h8M1443 720h8M2526 1019h8M2027 703h8M1365 953h8M1566 719h8M2715 960h8M602 625h8M2020 970h8M914 961h8M2444 1035h8M586 732h8M2147 732h8M2610 693h8M2717 731h8M752 1006h8M973 952h8M1672 1007h8M1835 704h8M2652 709h8M1838 961h8M1266 693h8M2812 1013h8M576 963h8M2802 718h8M2530 987h8M763 724h8M2347 965h8M2167 984h8M2197 953h8M1089 727h8M1280 961h8M596 957h8M2470 609h8M2144 731h8M1301 967h8M1173 967h8M784 686h8M1755 985h8M1100 976h8M997 957h8M1915 683h8M2580 967h8M1825 959h8M2749 681h8M1193 1026h8M1409 628h8M1459 954h8M1197 678h8M2162 966h8M2200 670h8M2206 957h8M2821 714h8M1989 678h8M799 702h8M2286 953h8M1269 733h8M1261 729h8M1997 957h8M2804 720h8M1338 722h8M2690 730h8M646 612h8M1309 970h8M1852 956h8M2202 715h8M2543 643h8M2558 979h8M766 701h8M1206 636h8M1792 969h8M1522 704h8M2804 957h8M779 673h8M1815 703h8M2676 724h8M1306 722h8M1412 729h8M1388 714h8M1903 1022h8M2639 984h8M2746 732h8M1356 650h8M1283 727h8M2091 959h8M775 960h8M2277 709h8M2559 983h8M754 725h8M2591 644h8M2556 988h8M1784 731h8M1630 956h8M1377 964h8M859 1053h8M1987 1007h8M2350 711h8M1127 701h8M1921 698h8M1397 953h8M522 725h8M2258 1015h8M1942 980h8M923 689h8M952 724h8M1467 716h8M1517 966h8M561 686h8M744 1024h8M1208 698h8M2254 731h8M2056 727h8M2620 993h8M572 991h8M520 985h8M992 957h8M2471 637h8M2588 710h8M564 958h8M1707 712h8M963 712h8M2772 724h8M2565 702h8M2793 701h8M1343 718h8M2623 966h8M2533 702h8M2188 952h8M2601 959h8M2062 973h8M1759 649h8M702 714h8M2457 1039h8M1149 719h8M2733 679h8M2555 721h8M1427 954h8M1771 955h8M2356 994h8M606 964h8M2006 991h8M1386 1018h8M877 728h8M2789 961h8M1286 712h8M2648 722h8M1885 958h8M2474 696h8M1261 983h8M816 697h8M2747 978h8M1431 976h8M1205 705h8M1473 976h8M2193 711h8M1281 677h8M2424 695h8M1582 965h8M1374 719h8M1479 724h8M1481 706h8M2268 725h8M1056 657h8M1861 992h8M1477 660h8M843 703h8M1094 982h8M2275 733h8M2318 973h8M2721 966h8M1401 718h8M1167 968h8M2097 701h8M1957 991h8M2117 962h8M2370 731h8M1324 724h8M861 1009h8M1856 718h8M2136 980h8M911 952h8M1588 675h8M708 643h8M1171 1033h8M2045 969h8M2600 730h8M2166 995h8M2560 720h8M2199 694h8M1614 717h8M1572 707h8M2799 684h8M2312 956h8M1229 712h8M1675 989h8M786 718h8M1769 958h8M2259 719h8M1197 955h8M1129 977h8M1107 721h8M2696 994h8M1400 718h8M2000 1022h8M2707 962h8M879 682h8M1925 729h8M2068 958h8M1326 969h8M2510 964h8M2301 726h8M1639 721h8M2467 952h8M2510 978h8M994 954h8M2769 698h8M855 956h8M1933 973h8M2709 977h8M2313 993h8M1494 654h8M581 732h8M650 707h8M773 1049h8M2049 714h8M2535 956h8M2000 1017h8M785 684h8M594 959h8M758 982h8M667 961h8M2029 684h8M1142 1013h8M1666 961h8M1062 955h8M1338 722h8M1803 1032h8M2087 1007h8M2554 1035h8M1714 1009h8M790 979h8M2360 727h8M820 983h8M594 970h8M1811 711h8M1043 1004h8M1789 668h8M2500 966h8M1829 1020h8M1287 960h8M924 720h8M1968 995h8M1531 711h8M2848 714h8M2218 648h8M1837 969h8M2466 688h8M2510 956h8M1098 962h8M2563 973h8M2383 726h8M1813 722h8M2090 705h8M2464 966h8M2487 962h8M2301 712h8M807 972h8M1528 703h8M1130 725h8M2483 954h8M1026 731h8M2714 727h8M2040 733h8M1344 954h8M1528 963h8M770 702h8M785 983h8M1921 955h8M2243 1003h8M1084 724h8M2826 989h8M724 726h8M1969 990h8M2344 963h8M2738 710h8M978 726h8M2776 719h8M2773 632h8M1295 730h8M2765 960h8M2405 975h8M636 976h8M1235 955h8M2016 713h8M2653 1006h8M2070 730h8M2168 709h8M702 702h8M1233 659h8M2753 983h8M1702 951h8M1362 953h8M838 959h8M981 982h8M1739 964h8M1180 671h8M2440 725h8M2461 977h8M700 697h8M1067 984h8M1028 963h8M1600 722h8M1768 982h8M1672 953h8M2024 710h8M1399 651h8M1834 692h8M2063 701h8M1401 1017h8M1695 976h8M2643 954h8M1676 959h8M2098 974h8M2446 957h8M738 1037h8M2435 1025h8M1920 954h8M614 685h8M1891 997h8M1391 962h8M1097 1029h8M1100 699h8M2379 707h8M1770 954h8M2390 725h8M2254 713h8M617 724h8M2454 1016h8M2606 968h8M1014 1002h8M2152 697h8M1220 724h8M1996 1005h8M2521 623h8M2731 955h8M2756 692h8M1998 954h8M1683 1001h8M835 967h8M1203 716h8M1970 959h8M1335 681h8M911 961h8M2277 721h8M1837 1006h8M1665 700h8M2845 964h8M1079 953h8M1464 683h8M1591 1037h8M638 725h8M1262 710h8M1833 1081h8M2837 699h8M2780 717h8M1964 649h8M1313 956h8M2390 717h8M2231 967h8M587 731h8M787 955h8M1120 1004h8M561 711h8M2429 965h8M978 693h8M1271 729h8M860 960h8M2805 983h8M1675 652h8M566 979h8M2804 697h8M1822 974h8M1628 956h8M2429 730h8M2650 986h8M1810 674h8M769 693h8M604 674h8M615 968h8M2451 702h8M1595 965h8M658 975h8M2037 729h8M1593 953h8M2258 957h8M1992 703h8M2595 973h8M2841 700h8M1438 965h8M1161 957h8M1271 960h8M1369 955h8M2417 728h8M830 689h8M538 979h8M1443 1024h8M1599 960h8M1092 720h8M2839 725h8M962 692h8M2221 719h8M2781 706h8M2700 956h8M1494 963h8M634 714h8M2648 956h8M1376 959h8M846 991h8M2081 720h8M1841 976h8M1985 687h8M2413 1038h8M2450 966h8M1773 600h8M1704 966h8M2534 955h8M1565 979h8M653 952h8M2489 962h8M1565 725h8M617 719h8M2084 717h8M1401 690h8M2327 996h8M520 661h8M2141 670h8M563 961h8M2330 1018h8M1038 728h8M1188 975h8M2831 991h8M1182 731h8M2519 709h8M2071 670h8M1636 729h8M1924 952h8M2199 712h8M912 1013h8M1316 727h8M2045 990h8M729 958h8M2367 731h8M2696 706h8M2330 714h8M1469 722h8M598 722h8M1642 991h8M737 953h8M1687 959h8M1724 1005h8M2039 713h8M2795 969h8M630 719h8M2512 732h8M1071 649h8M2009 980h8M1602 706h8M1384 717h8M858 958h8M1351 955h8M748 695h8M1078 1031h8M2325 684h8M1681 981h8M2725 714h8M905 698h8M2805 967h8M1384 730h8M1945 692h8M1372 997h8M1309 689h8M2812 955h8M2168 731h8M1699 964h8M781 727h8M2455 688h8M2180 952h8M579 955h8M663 977h8M916 995h8M1391 702h8M2751 959h8M2743 984h8M731 990h8M1687 696h8M2186 966h8M2107 1017h8M1949 731h8M910 700h8M2508 728h8M2714 955h8M692 722h8M720 996h8M1893 719h8M1830 969h8M1190 973h8M1346 955h8M529 953h8M1504 972h8M1709 958h8M2361 681h8M2447 1004h8M2697 957h8M2062 672h8M1090 1042h8M1251 724h8M1419 695h8M932 966h8M1541 986h8M1005 961h8M2268 686h8M2201 967h8M828 718h8M978 700h8M2550 664h8M2657 996h8M2546 684h8M1003 964h8M1657 724h8M2620 992h8M2216 632h8M2610 703h8M1734 979h8M2737 716h8M1129 966h8M1633 1011h8M2139 1006h8M2426 675h8M1447 712h8M2677 957h8M2315 1043h8M2499 967h8M2474 1016h8M792 977h8M2327 713h8M2300 969h8M2408 723h8M2079 952h8M1698 723h8M2633 977h8M2524 973h8M2357 959h8M2471 985h8M1169 719h8M1730 1019h8M1417 974h8M1221 707h8M1376 716h8M1050 969h8M694 974h8M2347 694h8M1023 983h8M827 989h8M1617 981h8M1022 728h8M2123 983h8M1043 706h8M931 966h8M1116 961h8M833 728h8M1341 958h8M1761 996h8M885 681h8M1099 974h8M1933 707h8M2003 679h8M2045 1027h8M1054 724h8M1598 695h8M2705 1014h8M1107 697h8M1740 731h8M1470 954h8M2705 680h8M2745 981h8M2608 681h8M2450 691h8M1811 974h8M776 964h8M1114 720h8M711 686h8M1223 729h8M1975 960h8M2700 960h8M2579 733h8M671 724h8M1758 966h8M2479 1059h8M2496 972h8M1156 969h8M847 954h8M1248 986h8M725 715h8M2037 990h8M954 724h8M2080 713h8M2503 952h8M1310 957h8M532 685h8M1987 711h8M2110 722h8M1541 956h8M1763 716h8M2144 705h8M1422 697h8M2340 638h8M1877 718h8M1998 725h8M2397 713h8M1600 1008h8M2550 649h8M2033 721h8M1361 727h8M2119 728h8M2443 972h8M2772 956h8M825 952h8M2242 726h8M2469 731h8M1759 977h8M1221 660h8M2571 622h8M2555 952h8M989 710h8M2092 724h8M1197 985h8M1617 648h8M1097 980h8M1555 707h8M1486 1013h8M1973 1026h8M2205 724h8M861 958h8M2742 981h8M2494 1086h8M866 726h8M1137 720h8M1843 656h8M853 700h8M2623 1032h8M961 961h8M1624 731h8M2107 1044h8M1172 969h8M2580 690h8M2435 955h8M650 964h8M1284 956h8M1484 958h8M1850 732h8M2132 974h8M541 966h8M2149 969h8M1176 986h8M2624 973h8M1520 728h8M2134 964h8M742 707h8M1616 725h8M987 725h8M2590 981h8M2188 698h8M2837 726h8M2834 726h8M2040 722h8M1568 1002h8M1652 706h8M983 730h8M1212 994h8M1320 726h8M546 690h8M742 953h8M539 966h8M2710 1001h8M892 701h8M894 703h8M540 672h8M2679 712h8M589 720h8M1548 724h8M1504 693h8M1370 727h8M1075 955h8M1754 706h8M2450 959h8M639 980h8M2785 731h8M2657 720h8M2344 1038h8M2754 728h8M2367 727h8M2789 710h8M1251 710h8M1992 955h8M884 973h8M1591 968h8M1851 966h8M2806 975h8M1756 952h8M1581 993h8M2516 1001h8M857 718h8M2821 987h8M1608 953h8M1205 951h8M528 662h8M1338 707h8M1855 728h8M782 981h8M2197 967h8M2563 956h8M1923 960h8M1054 721h8M2791 978h8M1978 978h8M1270 1010h8M1430 712h8M1723 987h8M925 685h8M654 724h8M2617 963h8M2659 730h8M1023 652h8M2518 972h8M2377 691h8M1319 697h8M583 723h8M1874 959h8M1586 721h8M2811 707h8M2751 958h8M2373 952h8M2835 962h8M1767 967h8M1496 988h8M1109 961h8M571 721h8M999 730h8M1742 733h8M2117 683h8M1436 722h8M1931 688h8M859 712h8M1703 957h8M2402 952h8M1114 711h8M885 960h8M1548 962h8M544 722h8M2808 999h8M2189 679h8M849 1005h8M2347 1023h8M1577 958h8M2620 724h8M1044 721h8M2755 665h8M983 986h8M1719 732h8M2752 951h8M694 722h8M548 635h8M1290 999h8M2525 703h8M1054 959h8M882 717h8M2787 987h8M705 722h8M1810 1000h8M2469 677h8M1687 956h8M1862 719h8M1799 732h8M1804 975h8M1812 964h8M2369 1040h8M2506 1038h8M1052 722h8M2560 648h8M890 730h8M1432 722h8M2784 954h8M1730 709h8M1819 711h8M1330 960h8M2098 720h8M614 729h8M2478 969h8M563 708h8M2216 686h8M2606 1022h8M2668 728h8M2136 730h8M1580 979h8M1183 708h8M1605 672h8M1499 711h8M527 709h8M774 977h8M2496 971h8M2764 955h8M2725 718h8M1486 675h8M2317 706h8M1645 975h8M2851 982h8M2789 725h8M719 684h8M687 660h8M916 669h8M2293 685h8M848 986h8M571 691h8M1663 965h8M695 657h8M1098 961h8M701 962h8M2284 996h8M1314 1000h8M2708 963h8M2755 966h8M1415 732h8M2675 999h8M1234 711h8M1474 686h8M1690 730h8M2152 729h8M1578 724h8M2009 714h8M952 697h8M736 731h8M783 717h8M2050 669h8M2639 715h8M1768 731h8M2642 961h8M1975 705h8M2020 670h8M2001 958h8M1919 962h8M2499 976h8M1433 707h8M1952 985h8M1038 977h8M2689 682h8M1735 693h8M1723 962h8M1560 952h8M2193 970h8M2260 965h8M2412 719h8M2587 719h8M1621 990h8M2487 1008h8M1187 730h8M1559 731h8M1647 703h8M709 730h8M2606 962h8M736 993h8M2026 969h8M987 958h8M548 696h8M537 970h8M2587 967h8M1392 668h8M930 973h8M1980 627h8M845 972h8M2164 989h8M1439 963h8M2498 720h8M1680 956h8M609 996h8M734 679h8M684 687h8M1126 702h8M1995 954h8M1019 707h8M1204 726h8M2802 1006h8M2201 967h8M1322 993h8M1768 968h8M1511 965h8M2035 705h8M962 659h8M808 962h8M1205 677h8M1678 994h8M1742 1038h8M903 960h8M1977 999h8M639 1006h8M2315 721h8M2696 951h8M1724 618h8M2034 726h8M1430 700h8M1594 729h8M544 968h8M799 957h8M2367 971h8M1808 707h8M1731 731h8M1920 725h8M1396 955h8M1534 702h8M2785 981h8M1767 699h8M2749 699h8M1701 1000h8M639 711h8M865 972h8M937 991h8M2175 955h8M2290 959h8M2705 1025h8M1645 694h8M1331 953h8M839 719h8M1050 975h8M2126 980h8M1827 722h8M1934 688h8M2792 978h8M925 732h8M2540 963h8M1311 957h8M911 997h8M1724 701h8M1981 718h8M591 715h8M619 706h8M2398 970h8M2181 1034h8M2684 962h8M1330 969h8M900 711h8M577 726h8M1625 712h8M716 969h8M809 732h8M2227 710h8M1777 1003h8M2243 698h8M1569 731h8M2796 1000h8M1104 988h8M1454 720h8M682 731h8M2323 697h8M890 711h8M2803 952h8M2027 982h8M908 953h8M2688 707h8M1053 722h8M1211 962h8M1553 698h8M2662 993h8M2684 1003h8M1377 723h8M591 974h8M1786 725h8M2532 728h8M2406 712h8M1568 1042h8M841 686h8M1370 1014h8M2326 997h8M2167 635h8M653 689h8M1118 706h8M2605 955h8M894 1035h8M745 716h8M1203 1020h8M2529 700h8M958 967h8M907 722h8M1841 730h8M1241 1032h8M2518 637h8M2582 679h8M2308 714h8M1420 981h8M862 953h8M1341 991h8M2625 724h8M1562 711h8M810 989h8M2671 700h8M1442 697h8M1345 966h8M2339 710h8M643 702h8M1568 705h8M2200 952h8M588 709h8M566 714h8M2606 971h8M2372 953h8M529 702h8M1572 963h8M1786 670h8M1962 694h8M2187 963h8M1335 715h8M739 957h8M1503 721h8M1976 665h8M1801 649h8M1852 964h8M2690 985h8M1764 628h8M2322 720h8M2758 967h8M1408 952h8M1789 976h8M2387 731h8M1284 1037h8M639 955h8M2703 957h8M2367 703h8M905 971h8M896 1063h8M2012 957h8M2244 713h8M1787 963h8M704 985h8M944 982h8M1049 686h8M2764 705h8M1092 717h8M2082 699h8M1727 962h8M2752 674h8M1332 959h8M1937 951h8M894 951h8M1976 719h8M917 710h8M1676 716h8M1659 967h8M2772 969h8M2753 993h8M1377 954h8M1955 960h8M2821 665h8M1372 963h8M2388 985h8M1546 710h8M1399 652h8M592 969h8M1133 980h8M1689 712h8M2310 959h8M1558 982h8M629 699h8M782 716h8M2574 721h8M2112 980h8M660 693h8M1846 1000h8M1466 990h8M2116 1061h8M2646 951h8M1419 729h8M669 968h8M2300 731h8M2502 1009h8M1308 721h8M2548 998h8M1929 984h8M1207 978h8M1258 729h8M2677 983h8M2542 989h8M1707 678h8M536 678h8M1190 974h8M1499 724h8M2555 952h8M786 694h8M2679 962h8M1550 998h8M2651 971h8M1447 720h8M2091 982h8M1955 717h8M958 967h8M2553 960h8M2292 1028h8M1445 689h8M805 1009h8M792 725h8M554 997h8M2236 992h8M1752 711h8M1439 953h8M2673 965h8M2329 956h8M1274 714h8M2077 951h8M1324 957h8M627 604h8M2381 986h8M2563 725h8M1341 1041h8M1645 669h8M1741 1010h8M1963 694h8M919 696h8M1287 978h8M777 977h8M702 958h8M784 963h8M1777 727h8M900 955h8M1576 728h8M1670 714h8M2513 993h8M609 716h8M2304 661h8M1423 959h8M2451 1052h8M2400 728h8M1620 956h8M1299 725h8M1371 722h8M1731 705h8M2039 982h8M1625 727h8M2202 732h8M1911 954h8M1737 969h8M1168 725h8M2727 981h8M650 709h8M1346 980h8M866 716h8M2720 1034h8M2048 728h8M626 691h8M1403 1000h8M692 1064h8M1735 981h8M764 986h8M752 715h8M1549 960h8M2548 719h8M791 677h8M2059 977h8M2213 696h8M1175 670h8M2411 713h8M2301 1022h8M971 990h8M1429 1007h8M920 706h8M1756 718h8M1024 730h8M2845 973h8M705 725h8M2574 721h8M1008 952h8M1600 999h8M2432 952h8M2317 720h8M2816 954h8M1153 960h8M2386 972h8M2359 695h8M1926 1006h8M2624 969h8M1938 979h8M2241 682h8M2735 723h8M1344 693h8M532 649h8M2389 716h8M2554 709h8M542 1033h8M1987 686h8M2699 957h8M1022 710h8M1080 724h8M2672 956h8M1909 963h8M945 733h8M976 691h8M1703 1007h8M1080 956h8M2446 650h8M2076 729h8M2230 727h8M1530 1006h8M1579 669h8M1477 956h8M2549 1015h8M2387 686h8M1493 984h8M1122 698h8M1045 683h8M1524 701h8M1172 986h8M2130 723h8M1363 974h8M2057 996h8M2706 723h8M1224 958h8M1903 961h8M2753 978h8M1214 994h8M595 694h8M745 963h8M2358 990h8M2562 719h8M1872 635h8M1945 967h8M2491 977h8M1390 1016h8M1379 726h8M1114 957h8M2053 955h8M1778 1006h8M778 995h8M655 1020h8M2339 1019h8M997 732h8M1698 727h8M2279 718h8M1878 630h8M1006 957h8M1551 973h8M1454 693h8M2172 711h8M1627 974h8M1522 731h8M1482 967h8M598 699h8M1953 958h8M2187 952h8M2602 1004h8M2413 988h8M2029 692h8M1545 697h8M2329 1000h8M599 641h8M885 976h8M2317 966h8M2081 994h8M903 717h8M1694 729h8M2081 974h8M1676 976h8M1890 1019h8M1643 968h8M1872 1010h8M1907 980h8M1974 1011h8M1322 992h8M797 680h8M1047 714h8M770 728h8M2794 965h8M1159 713h8M2082 632h8M2812 726h8M1233 729h8M643 996h8M864 952h8M1107 965h8M1046 662h8M2718 955h8M777 715h8M2010 1009h8M1865 971h8M724 965h8M982 661h8M1695 719h8M825 712h8M2077 965h8M2589 967h8M1379 969h8M2693 953h8M1416 953h8M1408 980h8M1060 1012h8M2398 717h8M2298 706h8M1604 724h8M2604 988h8M2352 698h8M1563 957h8M1923 716h8M1065 677h8M1748 954h8M1502 959h8M1131 715h8M899 954h8M2193 1001h8M854 678h8M1458 965h8M936 723h8M2464 708h8M1910 676h8M1886 971h8M2458 711h8M997 960h8M1287 728h8M1740 979h8M1219 689h8M784 962h8M622 991h8M767 1004h8M2259 674h8M2129 1014h8M1507 687h8M2381 965h8M1973 962h8M2687 698h8M859 708h8M1410 984h8M2571 692h8M556 729h8M2162 667h8M1782 985h8M2562 1014h8M848 717h8M1441 729h8M1485 957h8M1214 983h8M805 968h8M2366 688h8M789 964h8M1675 672h8M1825 958h8M1225 708h8M596 1015h8M2849 1010h8M1034 715h8M2172 1025h8M944 695h8M1134 713h8M1609 1029h8M1556 710h8M953 962h8M2193 713h8M1368 994h8M1978 978h8M2053 687h8M2184 732h8M653 716h8M1889 637h8M708 990h8M2183 1011h8M2550 729h8M980 725h8M933 715h8M2364 971h8M2113 695h8M2832 728h8M809 973h8M2062 952h8M2176 704h8M1286 720h8M1102 688h8M789 712h8M2497 967h8M2166 666h8M2349 732h8M1077 970h8M1896 959h8M2257 992h8M2513 718h8M889 679h8M1800 951h8M1655 997h8M2293 698h8M2734 966h8M2339 682h8M971 1045h8M1817 981h8M889 730h8M1924 695h8M893 1019h8M780 732h8M2026 1021h8M580 960h8M599 628h8M998 711h8M2349 712h8M1850 702h8M2546 718h8M911 956h8M2728 727h8M2183 710h8M1514 632h8M2150 714h8M1979 703h8M2185 994h8M1829 954h8M2785 700h8M891 702h8M2571 711h8M1015 718h8M855 699h8M2122 967h8M1485 718h8M2776 726h8M1648 960h8M1107 715h8M2713 696h8M2670 689h8M1355 995h8M919 953h8M922 971h8M2019 686h8M1129 670h8M703 717h8M1864 729h8M1830 958h8M2415 698h8M2831 962h8M1468 999h8M529 733h8M2345 992h8M1764 1016h8M540 1036h8M579 958h8M899 986h8M1928 688h8M1617 718h8M846 952h8M1393 972h8M650 704h8M1927 714h8M1891 998h8M2090 683h8M1894 988h8M1024 719h8M2654 951h8M868 953h8M1203 659h8M612 1009h8M2183 726h8M2105 976h8M963 955h8M2496 647h8M714 711h8M843 988h8M2608 1006h8M1433 730h8M776 978h8M2293 962h8M1515 730h8M1245 697h8M1509 962h8M643 714h8M2525 707h8M1297 958h8M817 955h8M1170 1006h8M1784 952h8M1417 732h8M1855 701h8M775 698h8M1255 996h8M1417 706h8M1577 695h8M2181 643h8M598 957h8M1542 729h8M1633 729h8M1057 1039h8M2730 972h8M1589 973h8M1524 656h8M1721 689h8M545 720h8M1395 954h8M1129 691h8M2639 965h8M1690 689h8M1439 639h8M2846 728h8M1777 726h8M950 965h8M2072 957h8M2557 701h8M1825 722h8M2431 1090h8M948 731h8M1140 667h8M2619 1000h8M534 693h8M1194 977h8M909 680h8M1380 678h8M2571 1010h8M1379 711h8M2735 979h8M981 999h8M2093 702h8M2745 717h8M656 1002h8M1576 975h8M2161 693h8M954 956h8M661 955h8M2118 975h8M2813 711h8M2709 707h8M802 731h8M2824 955h8M1616 732h8M2714 969h8M1493 999h8M1368 963h8M2408 1001h8M1060 966h8M1222 1011h8M747 705h8M2714 994h8M810 981h8M527 982h8M2509 998h8M1945 723h8M1921 962h8M1726 969h8M2524 966h8M1083 1022h8M2318 959h8M1198 965h8M1588 700h8M636 1036h8M2683 625h8M2101 648h8M529 700h8M2260 731h8M1870 715h8M2348 1001h8M1361 697h8M2280 690h8M1544 709h8M2181 697h8M1733 687h8M2769 996h8M2552 1000h8M2224 731h8M1918 727h8M1365 722h8M2567 682h8M883 981h8M1468 1010h8M2030 986h8M779 678h8M1627 721h8M1449 985h8M687 700h8M2324 993h8M2757 1011h8M1720 1002h8M1162 678h8M1376 961h8M1523 1012h8M2463 990h8M1150 954h8M2168 730h8M2421 709h8M1319 658h8M890 680h8M2551 975h8M2717 655h8M900 697h8M2596 1003h8M1276 962h8M1546 716h8M1153 974h8M629 1043h8M1531 956h8M1329 688h8M646 717h8M2741 727h8M1723 724h8M2236 690h8M2584 971h8M2067 1047h8M2489 706h8M773 976h8M893 681h8M1838 723h8M2445 955h8M702 723h8M1708 720h8M587 732h8M1525 731h8M926 980h8M1269 990h8M2568 988h8M1919 1016h8M1978 962h8M1674 731h8M1001 725h8M1616 967h8M2485 719h8M2292 969h8M2723 968h8M1891 973h8M1931 970h8M2349 715h8M1989 703h8M2054 689h8M967 966h8M965 730h8M1452 952h8M1316 961h8M1938 697h8M1569 973h8M1759 726h8M2212 971h8M1672 960h8M1842 1018h8M938 954h8M1614 720h8M1028 975h8M2023 965h8M782 980h8M1084 1012h8M690 721h8M1232 680h8M2051 961h8M2045 730h8M813 731h8M1326 716h8M1224 728h8M1167 703h8M1755 966h8M1057 968h8M2112 695h8M2544 976h8M741 715h8M2533 1051h8M606 710h8M1820 981h8M2110 952h8M2148 982h8M1634 962h8M557 975h8M1781 968h8M689 959h8M2212 953h8M1710 956h8M854 707h8M1447 681h8M793 1012h8M2130 1000h8M770 957h8M2222 991h8M2637 967h8M707 984h8M1561 726h8M2385 660h8M1302 987h8M2325 980h8M2207 955h8M2308 623h8M1632 724h8M1812 1080h8M1567 966h8M2254 953h8M2788 972h8M2290 972h8M2365 978h8M1625 707h8M2449 1035h8M1574 709h8M2493 959h8M1085 625h8M2808 1012h8M1824 961h8M983 716h8M2240 971h8M1094 952h8M1662 720h8M1885 952h8M718 729h8M960 709h8M2201 722h8M2390 1017h8M868 719h8M1796 678h8M2604 709h8M1653 954h8M1775 977h8M986 706h8M2400 977h8M1727 973h8M2836 954h8M2546 701h8M787 1097h8M2149 1021h8M544 968h8M1753 955h8M2380 986h8M2315 695h8M735 954h8M1362 965h8M2378 962h8M1034 723h8M2547 722h8M2416 703h8M2163 977h8M1521 960h8M2756 733h8M1936 716h8M705 719h8M1113 636h8M2443 1030h8M2776 721h8M2363 984h8M1243 964h8M1746 951h8M1122 715h8M2407 954h8M2033 956h8M2840 1006h8M2169 684h8M2342 717h8M842 666h8M1774 979h8M723 968h8M2362 964h8M1338 728h8M751 961h8M1547 969h8M2824 956h8M1553 706h8M2749 1017h8M976 730h8M718 969h8M908 721h8M1772 1019h8M2676 972h8M1820 700h8M2642 710h8M671 956h8M823 721h8M825 956h8M2838 726h8M2100 988h8M1737 954h8M697 714h8M1243 725h8M1215 698h8M638 669h8M1962 958h8M1599 732h8M1370 996h8M1515 1004h8M858 693h8M1688 1060h8M1950 680h8M2154 720h8M835 717h8M2305 976h8M903 997h8M2144 985h8M1954 639h8M816 991h8M1972 717h8M2184 729h8M778 973h8M2463 719h8M2236 694h8M1545 725h8M2170 730h8M2195 955h8M2431 981h8M1446 722h8M2124 679h8M843 968h8M2196 971h8M588 1007h8M2699 982h8M913 714h8M2783 954h8M1796 609h8M2419 714h8M1004 980h8M853 678h8M2710 708h8M814 985h8M1205 653h8M713 975h8M2592 661h8M1290 974h8M1182 730h8M2660 732h8M2116 728h8M1999 731h8M1941 962h8M1528 723h8M989 963h8M537 956h8M1191 733h8M2744 962h8M572 706h8M2194 697h8M901 678h8M1769 708h8M1736 1000h8M2665 959h8M1507 697h8M1710 730h8M1101 956h8M1155 732h8M1926 729h8M2097 956h8M2119 650h8M1061 681h8M1191 957h8M1685 958h8M2486 954h8M2696 727h8M1129 961h8M639 1019h8M2286 726h8M1454 951h8M1429 726h8M1836 705h8M1489 724h8M693 1053h8M1536 693h8M2257 716h8M800 716h8M2265 984h8M540 597h8M1599 726h8M930 699h8M1622 710h8M1945 728h8M2841 732h8M2672 1044h8M1745 1005h8M1582 1001h8M2697 637h8M2037 689h8M2678 954h8M2152 985h8M1857 695h8M2546 721h8M1889 959h8M2034 990h8M2697 964h8M1830 723h8M1332 973h8M1388 1008h8M1088 1012h8M2298 990h8M1253 1035h8M607 963h8M2337 968h8M564 971h8M1745 686h8M1589 718h8M978 712h8M1838 990h8M1291 965h8M939 984h8M2028 723h8M1850 702h8M1056 954h8M1920 1023h8M1320 661h8M1816 986h8M595 726h8M2024 953h8M2760 690h8M2392 976h8M685 704h8M1170 966h8M748 961h8M1947 970h8M1470 980h8M2305 953h8M902 982h8M922 728h8M1138 955h8M2841 645h8M2258 999h8M679 663h8M2575 958h8M1180 727h8M812 714h8M2667 1007h8M1783 729h8M1054 720h8M2364 730h8M1804 691h8M1184 685h8M2839 1030h8M993 1002h8M1897 727h8M571 700h8M1250 977h8M1850 718h8M1233 968h8M1184 724h8M2641 695h8M2141 731h8M1574 983h8M1194 1000h8M2625 700h8M1633 664h8M1055 979h8M1123 723h8M1513 1024h8M1464 703h8M912 638h8M1292 996h8M790 961h8M740 720h8M707 703h8M835 965h8M1596 967h8M1711 1017h8M549 951h8M1615 952h8M2510 688h8M1211 710h8M1453 964h8M2277 700h8M2848 723h8M600 733h8M1720 660h8M778 967h8M1736 962h8M1198 956h8M2584 705h8M662 713h8M1338 1052h8M2031 721h8M564 725h8M1211 963h8M876 716h8M876 958h8M1224 719h8M2091 707h8M1985 708h8M2184 722h8M2286 953h8M1666 960h8M1466 966h8M2783 672h8M1626 965h8M2000 971h8M1366 965h8M1806 960h8M2258 1077h8M2115 969h8M2225 1013h8M882 968h8M1888 730h8M2624 715h8M2368 956h8M1469 709h8M2303 961h8M695 725h8M951 993h8M2269 963h8M1882 1023h8M1224 711h8M2791 996h8M2004 952h8M1718 732h8M1230 705h8M997 971h8M871 721h8M1092 963h8M1116 1024h8M1584 716h8M2571 962h8M889 721h8M1710 992h8M2714 956h8M1377 960h8M832 956h8M2446 714h8M2546 716h8M1413 980h8M1420 721h8M2388 1003h8M2498 718h8M2468 997h8M1046 957h8M1490 985h8M2408 977h8M2309 713h8M1363 706h8M2607 705h8M1769 979h8M1270 965h8M1614 724h8M919 690h8M1100 716h8M1523 959h8M1160 723h8M1815 977h8M2672 1024h8M2844 988h8M923 717h8M969 722h8M931 970h8M1365 977h8M1160 966h8M567 982h8M722 1041h8M575 973h8M825 719h8M1633 953h8M770 973h8M2120 976h8M985 967h8M710 967h8M2823 953h8M1006 705h8M2210 996h8M601 957h8M2359 709h8M586 954h8M2811 961h8M2582 699h8M1800 674h8M1051 733h8M1158 964h8M1247 722h8M2404 667h8M1407 730h8M2296 724h8M1511 973h8M1213 722h8M837 962h8M1890 985h8M2085 689h8M1891 992h8M1441 637h8M1561 731h8M2576 1041h8M707 951h8M2313 706h8M2689 711h8M717 960h8M897 679h8M1009 728h8M1351 1007h8M1701 656h8M781 715h8M592 727h8M1582 726h8M2626 683h8M522 981h8M1075 960h8M2185 697h8M2370 988h8M1921 986h8M2501 707h8M738 958h8M2844 711h8M1635 960h8M1474 732h8M837 971h8M2261 730h8M2372 657h8M2510 683h8M1918 967h8M689 719h8M1935 665h8M2043 999h8M1826 713h8M1558 676h8M2312 711h8M840 716h8M1021 974h8M2388 727h8M1808 640h8M2007 959h8M1460 988h8M2370 991h8M2067 712h8M2553 683h8M740 731h8M1281 690h8M1539 954h8M2132 720h8M2338 675h8M2183 723h8M1677 696h8M805 733h8M2665 612h8M743 708h8M2157 984h8M1892 975h8M2265 652h8M2379 698h8M872 988h8M2000 665h8M2309 988h8M2231 955h8M818 959h8M586 640h8M1267 968h8M2405 670h8M2165 710h8M823 726h8M1492 962h8M1743 969h8M922 728h8M1771 725h8M756 729h8M1623 707h8M1496 669h8M2567 722h8M2475 730h8M695 1001h8M785 960h8M1550 685h8M888 955h8M1336 951h8M1162 731h8M1914 973h8M1127 693h8M2485 708h8M1819 705h8M1692 991h8M1455 723h8M828 690h8M2081 724h8M2319 713h8M745 678h8M1124 717h8M2664 668h8M1230 718h8M1915 981h8M761 1027h8M1117 684h8M1762 660h8M2188 714h8M2759 970h8M2291 700h8M1385 713h8M1085 689h8M2180 730h8M1057 975h8M2206 689h8M820 981h8M2253 986h8M2382 971h8M2307 727h8M2018 715h8M1783 723h8M1407 728h8M2033 655h8M1582 982h8M626 605h8M2233 725h8M2609 957h8M1479 1044h8M620 960h8M1132 708h8M1164 956h8M2503 725h8M1623 974h8M2497 990h8M2481 717h8M1834 954h8M1663 961h8M626 675h8M800 725h8M2390 712h8M1592 697h8M2719 731h8M1187 647h8M2176 958h8M1351 698h8M1216 958h8M1797 965h8M2754 956h8M2614 709h8M1365 976h8M2184 715h8M967 724h8M2164 732h8M1113 732h8M1016 632h8M1468 1007h8M1824 1013h8M1788 604h8M2357 684h8M1559 719h8M2105 1001h8"/>
<path transform="scale(0.1)" stroke="#000" stroke-opacity="0.5" stroke-width="8" fill="none" d="M1252 713h8M1596 732h8M2096 985h8M1136 717h8M2750 989h8M2400 1022h8M2383 733h8M1080 954h8M1122 1006h8M1195 682h8M1084 721h8M2569 689h8M1411 976h8M2432 957h8M2227 953h8M2588 704h8M1805 975h8M599 722h8M1293 716h8M1162 965h8M715 721h8M1204 731h8M2010 700h8M1180 958h8M2285 980h8M2229 955h8M2349 958h8M1352 955h8M2335 953h8M2571 723h8M1896 954h8M591 698h8M1000 952h8M894 707h8M2203 962h8M1713 996h8M2422 674h8M852 955h8M2479 691h8M2348 987h8M1223 721h8M1985 729h8M1518 720h8M1871 963h8M1111 639h8M1274 729h8M1809 995h8M2401 732h8M2409 953h8M944 724h8M1426 1035h8M1968 1039h8M1948 701h8M2242 980h8M1861 726h8M1755 715h8M978 989h8M1418 973h8M1338 679h8M1715 728h8M2150 988h8M720 685h8M1721 962h8M2269 1076h8M2458 713h8M1833 711h8M2594 726h8M2591 971h8M2732 683h8M2819 713h8M2550 733h8M978 987h8M1951 730h8M2324 989h8M2534 971h8M2235 726h8M680 964h8M2259 951h8M806 683h8M1083 719h8M579 684h8M2552 675h8M1157 718h8M2141 953h8M736 1033h8M1867 727h8M2268 723h8M1322 727h8M2176 991h8M800 684h8M2061 717h8M896 963h8M2659 716h8M2506 978h8M843 701h8M2819 720h8M1348 962h8M1403 981h8M2034 722h8M1713 958h8M2497 669h8M1158 687h8M2633 721h8M934 687h8M1040 707h8M1637 728h8M998 719h8M2731 733h8M652 654h8M1071 961h8M1539 694h8M785 952h8M2170 959h8M2371 643h8M1386 996h8M2462 702h8M1495 958h8M2433 968h8M2617 712h8M1223 961h8M1115 723h8M1696 718h8M1372 957h8M2128 726h8M1988 684h8M2652 673h8M2331 729h8M2004 726h8M1599 960h8M634 951h8M2387 982h8M880 722h8M2124 713h8M2800 721h8M1166 961h8M2136 698h8M1393 997h8M1708 699h8M524 723h8M1062 716h8M1037 977h8M2680 964h8M1619 1021h8M946 727h8M715 722h8M2598 969h8M2082 956h8M1163 999h8M2250 953h8M1123 725h8M2570 1011h8M1876 686h8M2691 992h8M1230 722h8M2606 1003h8M1931 981h8M2498 691h8M1417 728h8M2672 688h8M1338 714h8M599 977h8M1061 721h8M2219 697h8M1014 722h8M2810 969h8M1660 952h8M2743 955h8M1813 960h8M558 729h8M803 693h8M905 662h8M1125 954h8M754 965h8M1261 952h8M746 721h8M2768 959h8M1570 987h8M2819 969h8M2815 693h8M2143 730h8M1369 703h8M1285 978h8M2758 970h8M2419 658h8M2308 706h8M657 982h8M2472 732h8M2461 1014h8M738 952h8M1761 707h8M1876 982h8M1639 727h8M1726 709h8M641 956h8M768 954h8M1110 968h8M1656 647h8M1315 1004h8M887 961h8M2044 1024h8M2297 644h8M1355 1033h8M1338 706h8M2409 722h8M803 962h8M1698 973h8M1025 712h8M2731 978h8M2763 951h8M2409 691h8M1326 710h8M1992 952h8M1452 990h8M2101 1043h8M665 688h8M731 717h8M2336 1020h8M1385 992h8M1180 953h8M2503 723h8M2042 699h8M2708 667h8M2798 967h8M937 989h8M2806 726h8M1730 1001h8M1253 977h8M1537 681h8M2763 732h8M1149 676h8M2443 733h8M2019 974h8M1503 968h8M2333 648h8M2214 712h8M2267 687h8M2081 717h8M2360 716h8M1670 686h8M1110 706h8M2130 630h8M2725 728h8M2120 999h8M1634 731h8M2343 687h8M1734 723h8M2188 971h8M1849 716h8M2136 718h8M1979 995h8M1325 706h8M2298 719h8M520 728h8M2112 707h8M986 972h8M1181 723h8M2214 983h8M1838 729h8M1019 985h8M1382 658h8M1054 957h8M1152 980h8M2723 708h8M1115 659h8M2659 703h8M579 982h8M1800 980h8M638 641h8M2067 975h8M2026 727h8M1489 705h8M2056 717h8M727 701h8M1517 687h8M1589 695h8M1616 729h8M2543 729h8M2636 966h8M719 731h8M1242 708h8M2666 714h8M2016 733h8M895 989h8M800 722h8M2324 669h8M1479 669h8M617 639h8M2383 963h8M1369 725h8M2437 992h8M2153 717h8M2596 708h8M925 982h8M1046 988h8M2779 689h8M2457 729h8M2178 725h8M1955 956h8M1364 1016h8M704 968h8M1270 981h8M2285 1058h8M2055 725h8M2828 711h8M2119 679h8M1759 722h8M1856 689h8M1960 698h8M2180 1018h8M1326 974h8M1496 695h8M2431 709h8M2786 730h8M2214 964h8M1733 697h8M668 727h8M2696 691h8M1310 965h8M2521 686h8M1683 706h8M1753 960h8M2568 961h8M1048 715h8M2589 953h8M1144 958h8M1602 963h8M869 732h8M1405 982h8M1010 725h8M2040 974h8M2468 683h8M991 1005h8M558 669h8M1884 685h8M2074 1005h8M1111 957h8M794 978h8M2083 694h8M708 951h8M1404 962h8M1896 621h8M2187 655h8M1918 709h8M1034 957h8M932 685h8M1616 960h8M2721 984h8M604 966h8M1225 992h8M1302 717h8M1642 711h8M1998 979h8M1346 684h8M975 954h8M2760 1018h8M520 1007h8M2584 955h8M1530 713h8M2046 699h8M2330 954h8M1689 699h8M1804 985h8M769 722h8M1514 702h8M2601 959h8M2536 960h8M2217 970h8M1716 716h8M1249 703h8M1687 957h8M2455 978h8M1259 993h8M932 700h8M1050 1003h8M1831 667h8M820 722h8M1681 1005h8M1749 699h8M2255 722h8M949 955h8M1595 716h8M1868 968h8M1144 717h8M1201 703h8M2380 970h8M2509 971h8M1055 732h8M1528 951h8M648 714h8M2244 677h8M2006 969h8M1624 980h8M2262 978h8M2583 1022h8M891 1035h8M2434 709h8M2631 975h8M1546 953h8M1627 971h8M2697 668h8M1903 974h8M2820 727h8M761 957h8M1725 1012h8M2233 721h8M1259 991h8M1492 714h8M845 721h8M2335 968h8M2356 710h8M734 712h8M2140 720h8M1350 1030h8M1474 985h8M2401 957h8M2042 974h8M2228 726h8M1690 713h8M2163 975h8M1425 978h8M1400 714h8M2240 716h8M2275 967h8M881 959h8M1042 979h8M2478 729h8M1467 952h8M2313 997h8M2107 714h8M679 676h8M1694 971h8M1978 714h8M1311 1014h8M1365 716h8M1214 1014h8M1212 969h8M815 963h8M2712 963h8M1722 958h8M927 727h8M625 724h8M2684 661h8M2002 665h8M1933 956h8M2388 952h8M1686 979h8M2734 731h8M2218 971h8M1751 701h8M718 977h8M724 1059h8M1182 992h8M689 983h8M1372 705h8M1279 1009h8M1753 724h8M2777 688h8M1864 972h8M2650 963h8M1223 996h8M824 719h8M1299 694h8M1377 716h8M1714 962h8M2083 999h8M2786 1084h8M673 957h8M688 1001h8M1551 992h8M2819 982h8M2066 983h8M719 989h8M2369 959h8M598 622h8M612 688h8M2452 689h8M2485 733h8M2825 718h8M2725 952h8M1388 697h8M1314 956h8M2520 1016h8M1025 712h8M1062 733h8M2388 970h8M537 963h8M1608 964h8M2016 726h8M2061 733h8M1749 974h8M2079 692h8M1684 955h8M1707 732h8M1639 692h8M1058 716h8M561 1002h8M1414 733h8M890 991h8M1249 719h8M525 682h8M2218 709h8M1427 688h8M2238 951h8M2753 721h8M1015 952h8M2533 1008h8M981 1006h8M1858 687h8M687 979h8M1956 974h8M732 1013h8M1550 730h8M1076 974h8M2824 966h8M1992 985h8M2341 991h8M1086 975h8M772 706h8M2486 1016h8M1453 724h8M811 974h8M2814 979h8M1847 980h8M2026 990h8M524 1019h8M2784 963h8M1174 719h8M2840 978h8M763 689h8M2062 617h8M2395 689h8M528 973h8M1013 694h8M736 713h8M529 702h8M934 967h8M1824 984h8M2214 719h8M881 968h8M1432 975h8M527 953h8M2568 972h8M983 958h8M2139 992h8M714 688h8M1609 958h8M688 711h8M722 993h8M1417 975h8M2647 657h8M1604 987h8M2699 674h8M545 985h8M1155 620h8M2174 708h8M1488 958h8M1805 711h8M1874 727h8M2347 730h8M1319 1004h8M1984 725h8M2247 712h8M1984 674h8M2504 952h8M2492 708h8M881 712h8M1453 1001h8M2088 698h8M600 693h8M2425 714h8M1120 951h8M1889 955h8M2149 954h8M1197 730h8M1243 718h8M1793 721h8M998 966h8M887 712h8M2212 1061h8M1685 719h8M1561 962h8M1396 728h8M988 724h8M2551 696h8M1266 700h8M2447 729h8M2546 956h8M629 1053h8M947 719h8M521 711h8M830 983h8M1850 985h8M1576 964h8M2752 967h8M2697 990h8M999 674h8M2177 963h8M2715 731h8M751 702h8M1506 1010h8M1466 963h8M2209 961h8M1284 712h8M2275 729h8M2412 986h8M1104 728h8M2140 984h8M2771 992h8M1110 673h8M2134 729h8M1297 1009h8M938 719h8M1368 964h8M1976 668h8M777 975h8M2356 955h8M2479 670h8M2772 697h8M1350 732h8M1004 713h8M742 714h8M2351 673h8M1356 726h8M2364 962h8M1308 702h8M2812 700h8M2351 722h8M2629 711h8M1355 664h8M1608 733h8M2465 962h8M1589 956h8M2414 730h8M2821 976h8M1062 955h8M1756 967h8M1578 971h8M2540 649h8M1751 702h8M2743 698h8M1298 972h8M1102 723h8M1917 704h8M1284 703h8M2314 662h8M1045 952h8M2626 975h8M575 967h8M2042 711h8M1288 988h8M918 996h8M2256 630h8M1917 973h8M2188 1009h8M1045 953h8M1261 952h8M1763 978h8M2406 706h8M1089 715h8M2418 1036h8M2372 965h8M2456 667h8M1769 969h8M1433 672h8M1328 968h8M2171 982h8M811 994h8M2437 972h8M682 722h8M814 1002h8M2610 730h8M1698 698h8M2718 725h8M1612 697h8M2447 697h8M2215 993h8M718 722h8M638 990h8M1573 701h8M879 706h8M1719 993h8M1650 720h8M584 710h8M862 686h8M2676 969h8M1954 1016h8M1740 965h8M2363 965h8M2741 731h8M1904 953h8M1072 713h8M761 962h8M1228 718h8M901 983h8M1505 974h8M2724 730h8M1038 714h8M2814 951h8M1830 952h8M1617 725h8M2304 955h8M1291 688h8M714 964h8M1826 686h8M1972 728h8M546 726h8M1886 730h8M2704 1008h8M688 720h8M724 688h8M1467 961h8M2427 954h8M906 971h8M1850 957h8M809 964h8M1625 678h8M1274 1001h8M2242 960h8M2818 632h8M2768 717h8M2259 954h8M1153 1056h8M1192 954h8M2821 956h8M2040 693h8M2803 987h8M2500 728h8M1679 956h8M567 666h8M2187 710h8M2153 989h8M668 678h8M1395 613h8M882 725h8M1042 952h8M2238 977h8M588 699h8M2270 729h8M555 717h8M902 715h8M2552 636h8M1042 983h8M572 701h8M2087 965h8M664 962h8M2667 967h8M995 697h8M2586 967h8M1836 723h8M2064 663h8M1384 1000h8M625 963h8M2259 679h8M673 703h8M1327 729h8M1581 972h8M1677 719h8M2563 985h8M2643 721h8M602 646h8M1911 721h8M1676 957h8M1244 726h8M2801 731h8M2752 955h8M1524 964h8M947 732h8M763 724h8M1349 965h8M1510 724h8M1629 986h8M724 986h8M1649 715h8M1530 956h8M1730 703h8M785 716h8M596 991h8M1766 669h8M930 704h8M2821 717h8M560 694h8M1529 958h8M1823 993h8M1573 689h8M2645 975h8M1972 713h8M577 965h8M1648 956h8M974 708h8M2176 716h8M1048 964h8M2200 958h8M1820 732h8M2046 731h8M2480 972h8M1208 1013h8M2533 702h8M1899 724h8M2811 966h8M1734 651h8M1458 720h8M1341 714h8M1228 726h8M951 983h8M599 714h8M1662 729h8M1193 719h8M1161 667h8M1732 1023h8M1640 680h8M2113 982h8M873 997h8M2053 953h8M2421 980h8M1880 650h8M2207 975h8M593 700h8M1628 989h8M2524 728h8M1833 727h8M1146 729h8M2181 725h8M1677 722h8M1421 959h8M1245 987h8M2822 964h8M969 1010h8M1089 710h8M1803 991h8M974 953h8M2152 973h8M2843 976h8M982 1008h8M1197 982h8M2752 725h8M1225 969h8M2309 973h8M1655 702h8M589 990h8M1342 704h8M2369 962h8M1212 733h8M1517 954h8M2685 732h8M830 718h8M1096 976h8M1213 712h8M1788 1004h8M1975 982h8M1611 999h8M970 953h8M803 729h8M2312 967h8M729 687h8M1544 984h8M1213 1009h8M1483 974h8M1431 712h8M1658 979h8M1413 992h8M715 1014h8M2243 967h8M1042 712h8M2839 696h8M1504 701h8M2498 720h8M2790 695h8M1951 704h8M1978 965h8M1324 714h8M593 973h8M795 724h8M1240 711h8M995 1012h8M2630 980h8M2560 708h8M925 991h8M1894 715h8M2597 728h8M2602 688h8M1793 727h8M1665 699h8M706 712h8M1733 730h8M1345 952h8M932 724h8M1598 718h8M1723 972h8M1304 989h8M1861 1017h8M1480 962h8M599 977h8M2747 693h8M586 962h8M2583 997h8M1639 724h8M1959 1024h8M538 720h8M1365 968h8M2296 956h8M1867 968h8M2153 701h8M2810 965h8M1175 730h8M1767 718h8M828 997h8M2099 694h8M1745 973h8M586 986h8M2196 993h8M2490 972h8M2095 637h8M1169 698h8M1994 708h8M2022 726h8M1246 678h8M1139 973h8M2459 539h8M2065 727h8M2140 997h8M2115 726h8M1221 722h8M2066 953h8M1778 984h8M1588 732h8M1926 965h8M2752 995h8M2597 971h8M877 983h8M870 987h8M2006 989h8M701 960h8M817 730h8M1953 955h8M1433 967h8M1143 678h8M2773 954h8M1933 984h8M1833 704h8M1308 982h8M2159 961h8M1364 723h8M1986 1007h8M2835 695h8M663 687h8M2392 967h8M935 675h8M704 710h8M1403 725h8M887 724h8M1261 698h8M1275 724h8M1243 955h8M1039 997h8M2315 708h8M1348 971h8M1362 952h8M1139 1053h8M2484 1005h8M2423 986h8M2130 731h8M1986 998h8M2645 1037h8M1147 968h8M1660 1002h8M1178 969h8M2335 729h8M714 678h8M2632 664h8M799 971h8M848 952h8M2339 965h8M2109 960h8M2375 729h8M2362 696h8M2683 994h8M1782 991h8M2189 958h8M2230 955h8M1016 988h8M2405 731h8M1167 716h8M2770 725h8M860 724h8M656 732h8M2436 718h8M1592 703h8M2634 713h8M2745 952h8M548 1015h8M2412 698h8M1685 960h8M2709 712h8M1409 957h8M1251 695h8M1691 716h8M2349 979h8M2759 980h8M1084 985h8M2347 959h8M2386 731h8M2566 612h8M2348 723h8M2324 698h8M1967 726h8M2683 707h8M930 964h8M2430 952h8M1317 703h8M654 627h8M1091 696h8M2149 974h8M2410 966h8M575 665h8M2634 722h8M1563 725h8M1956 666h8M1555 1012h8M566 961h8M1844 1022h8M2839 964h8M1462 725h8M2794 958h8M2849 713h8M1339 690h8M1133 706h8M2129 984h8M1547 952h8M1985 680h8M2200 693h8M1321 1012h8M2143 716h8M2344 955h8M2659 958h8M1715 621h8M1918 621h8M2300 972h8M1942 674h8M2648 704h8M801 975h8M2692 970h8M534 726h8M1340 957h8M2720 991h8M1066 1003h8M2457 647h8M1677 962h8M1475 728h8M1927 975h8M902 955h8M548 968h8M2596 966h8M1938 969h8M770 697h8M1263 625h8M1136 958h8M810 672h8M1676 730h8M841 1009h8M819 1066h8M1616 698h8M1122 967h8M2094 968h8M2361 696h8M1074 724h8M1046 717h8M917 967h8M1369 716h8M2544 694h8M2273 991h8M632 967h8M1878 956h8M1172 983h8M1460 975h8M1280 989h8M2146 732h8M1659 970h8M1913 731h8M680 960h8M1752 954h8M531 956h8M1025 969h8M675 1017h8M1647 969h8M868 986h8M895 724h8M1388 992h8M765 1018h8M541 711h8M1515 682h8M2700 693h8M891 705h8M1203 730h8M2136 954h8M1383 972h8M1616 955h8M2587 1009h8M1654 973h8M2218 984h8M2202 726h8M2768 662h8M1422 961h8M1524 725h8M2791 723h8M2240 980h8M1567 709h8M1875 978h8M2542 696h8M547 634h8M1371 1011h8M2270 720h8M1601 961h8M760 686h8M996 720h8M633 961h8M1727 966h8M1249 672h8M1098 718h8M1957 957h8M2280 730h8M1960 729h8M876 988h8M2189 660h8M2391 951h8M2339 1009h8M830 977h8M2154 699h8M2569 968h8M2015 984h8M586 654h8M1289 730h8M654 733h8M1496 691h8M1142 953h8M2661 951h8M1036 723h8M1313 728h8M2250 719h8M2057 711h8M2041 963h8M1433 966h8M1684 954h8M2687 966h8M2393 989h8M2155 724h8M1196 951h8M2467 732h8M2381 959h8M2777 623h8M2756 722h8M2320 727h8M775 658h8M878 955h8M1268 951h8M2230 966h8M1088 956h8M1165 709h8M1954 983h8M1192 705h8M1532 707h8M2220 1019h8M1863 1013h8M1606 997h8M1790 723h8M2389 958h8M1598 961h8M2749 733h8M2529 725h8M767 705h8M665 997h8M2612 722h8M558 972h8M1759 707h8M1104 703h8M1998 640h8M1698 964h8M2216 958h8M2313 701h8M1535 725h8M2484 1014h8M1775 674h8M792 715h8M2768 957h8M2763 976h8M1051 684h8M2736 1043h8M2423 995h8M1175 998h8M1151 703h8M2275 961h8M1757 718h8M2643 690h8M1607 731h8M868 728h8M1889 985h8M700 1021h8M2118 730h8M828 988h8M1642 676h8M2559 1032h8M1102 716h8M2094 706h8M1037 966h8M1741 962h8M728 683h8M791 707h8M1418 980h8M943 715h8M2082 714h8M1179 641h8M2022 653h8M815 973h8M723 731h8M2664 729h8M540 710h8M1845 964h8M2494 724h8M1406 712h8M2208 692h8M1689 700h8M524 719h8M1789 718h8M2433 664h8M1557 695h8M1013 632h8M1039 709h8M1824 963h8M2729 974h8M1989 971h8M2387 999h8M2661 964h8M1577 714h8M1966 951h8M931 1030h8M2418 731h8M2297 956h8M2458 727h8M1734 983h8M2313 673h8M1430 956h8M1539 730h8M1370 723h8M1280 961h8M1202 951h8M2748 975h8M2443 955h8M712 702h8M1600 951h8M1455 714h8M1092 699h8M1946 686h8M1679 968h8M673 720h8M1100 681h8M2587 972h8M1837 978h8M832 700h8M2821 721h8M1789 678h8M1492 680h8M2198 732h8M520 1054h8M2412 977h8M1970 698h8M2605 613h8M2272 719h8M736 956h8M1529 966h8M1978 1026h8M1164 714h8M1164 731h8M2710 988h8M744 960h8M913 660h8M2660 961h8M721 1030h8M536 977h8M1437 705h8M2103 701h8M2454 957h8M1938 648h8M2357 972h8M2807 970h8M1935 698h8M639 723h8M627 960h8M758 717h8M991 710h8M2583 961h8M1116 635h8M2448 697h8M2608 971h8M2551 705h8M2757 958h8M2062 972h8M1838 965h8M2361 1010h8M1919 975h8M1422 694h8M2033 973h8M2143 988h8M2226 953h8M775 724h8M2076 966h8M2628 695h8M1632 726h8M523 700h8M1670 720h8M943 1011h8M1479 986h8M2139 961h8M2468 685h8M1706 707h8M2739 709h8M1922 964h8M1318 968h8M972 707h8M844 960h8M1862 573h8M2406 955h8M1225 973h8M1980 954h8M2341 688h8M1569 711h8M1980 703h8M1356 717h8M1915 683h8M727 710h8M1908 985h8M2753 1013h8M1094 732h8M2688 729h8M1892 961h8M902 966h8M1715 954h8M2026 718h8M1401 1020h8M958 704h8M732 683h8M536 723h8M2761 952h8M2811 731h8M545 691h8M1959 720h8M2454 725h8M1765 1016h8M1613 698h8M2353 984h8M2814 1004h8M2576 974h8M1971 691h8M1188 1018h8M2257 997h8M1340 1010h8M1148 959h8M538 731h8M2810 730h8M1268 727h8M1968 952h8M1059 962h8M666 966h8M892 713h8M1194 643h8M1949 1027h8M2279 997h8M1071 719h8M1285 718h8M2381 711h8M670 731h8M2264 977h8M729 676h8M2448 693h8M2045 702h8M1034 1028h8M735 960h8M2051 1000h8M892 957h8M1281 1004h8M1128 717h8M1126 649h8M1038 701h8M687 705h8M1920 717h8M2504 988h8M597 972h8M2740 989h8M2541 959h8M1908 953h8M1364 720h8M1883 651h8M1655 969h8M1369 732h8M1265 983h8M2640 998h8M773 992h8M1745 689h8M1154 722h8M957 718h8M1374 1054h8M1169 983h8M2419 661h8M824 717h8M2709 728h8M836 970h8M1235 955h8M1347 975h8M2269 726h8M2311 719h8M1883 726h8M2451 671h8M2192 647h8M1952 685h8M2353 954h8M862 1072h8M2040 733h8M2756 688h8M1717 999h8M2019 642h8M1204 720h8M1363 722h8M1293 976h8M1152 689h8M1331 694h8M2639 986h8M1261 957h8M2712 992h8M1559 964h8M874 718h8M1850 1013h8M1895 704h8M1022 699h8M2475 1094h8M1881 980h8M810 983h8M2451 1023h8M2358 731h8M2336 963h8M930 711h8M1798 656h8M2214 728h8M937 960h8M2217 697h8M564 990h8M2847 968h8M1791 965h8M1819 982h8M1830 733h8M1690 706h8M1192 700h8M2514 989h8M824 709h8M1196 702h8M2037 730h8M1450 999h8M1428 707h8M912 696h8M879 720h8M1920 1008h8M564 643h8M1169 952h8M1697 1007h8M1432 959h8M1206 730h8M521 727h8M2462 688h8M1690 726h8M1157 1001h8M994 955h8M1824 700h8M2170 969h8M521 679h8M627 999h8M1801 954h8M2052 1042h8M1543 676h8M1199 682h8M2146 956h8M1833 980h8M2663 1044h8M1034 967h8M1559 733h8M2335 710h8M2183 968h8M1074 962h8M2802 958h8M1569 656h8M1680 990h8M2032 954h8M934 986h8M1608 721h8M1879 954h8M817 979h8M778 676h8M2526 698h8M875 724h8M1701 729h8M1713 692h8M1696 998h8M1440 959h8M1113 959h8M890 977h8M746 975h8M1152 727h8M2420 962h8M828 979h8M2379 708h8M2343 700h8M2315 728h8M971 729h8M1109 730h8M2647 958h8M2192 699h8M1162 995h8M768 723h8M2035 982h8M2285 984h8M2412 991h8M658 692h8M804 957h8M2583 676h8M2426 955h8M1345 722h8M1300 687h8M2428 1008h8M1957 953h8M934 954h8M1108 699h8M1022 966h8M2334 958h8M951 675h8M1807 727h8M731 954h8M1716 692h8M2329 716h8M2233 696h8M1698 972h8M1693 723h8M1481 704h8M525 722h8M795 724h8M1822 955h8M1098 968h8M933 718h8M1482 729h8M1218 732h8M2708 980h8M595 725h8M1591 993h8M1140 978h8M1004 730h8M796 970h8M2271 720h8M565 962h8M1307 676h8M2755 1006h8M2452 1029h8M1729 716h8M1883 726h8M758 723h8M2109 957h8M2755 975h8M2442 1040h8M1994 968h8M2355 721h8M2459 968h8M1778 729h8M1304 997h8M2220 961h8M723 698h8M2701 725h8M2299 988h8M532 953h8M2723 1004h8M1685 968h8M628 712h8M576 730h8M1959 965h8M1932 954h8M1479 723h8M1091 660h8M1280 684h8M1320 722h8M1078 967h8M1587 677h8M535 972h8M2828 713h8M1921 986h8M2538 985h8M1339 1033h8M970 710h8M997 654h8M2500 965h8M2349 701h8M1088 669h8M1327 725h8M1776 1110h8M1985 726h8M763 727h8M2023 966h8M987 732h8M1916 699h8M1295 662h8M2404 698h8M2270 972h8M2232 704h8M688 982h8M1439 703h8M523 982h8M791 1012h8M1219 968h8M1927 702h8M1669 1029h8M1693 680h8M660 995h8M1539 726h8M1287 960h8M767 725h8M913 717h8M1496 999h8M2613 970h8M1309 667h8M2695 954h8M520 1029h8M865 728h8M1562 717h8M1708 731h8M1072 729h8M831 659h8M957 707h8M1871 724h8M574 984h8M1460 957h8M2343 1003h8M2000 1045h8M1190 957h8M1966 732h8M1812 961h8M523 1062h8M1585 724h8M1441 954h8M2722 996h8M1690 966h8M1771 730h8M1399 721h8M1878 984h8M2391 978h8M1148 689h8M1115 953h8M844 957h8M1692 697h8M1906 724h8M2251 726h8M2531 716h8M1545 719h8M2715 646h8M1558 974h8M2219 615h8M562 952h8M832 725h8M2396 965h8M2350 959h8M654 1007h8M2116 703h8M1946 722h8M1378 725h8M1251 1018h8M2410 732h8M523 677h8M1452 1004h8M1158 995h8M1598 725h8M2809 717h8M2156 715h8M1906 972h8M764 728h8M2750 963h8M1411 721h8M1007 974h8M2588 720h8M2337 968h8M2144 983h8M539 975h8M2771 996h8M2520 1016h8M2340 670h8M1366 707h8M2263 995h8M2653 960h8M1110 956h8M2153 707h8M918 705h8M666 964h8M2676 705h8M2284 731h8M2687 966h8M1842 984h8M1610 981h8M1263 964h8M2556 979h8M690 711h8M1938 727h8M1052 671h8M529 984h8M1320 688h8M1139 687h8M1480 956h8M1009 714h8M1384 968h8M2192 952h8M2735 1027h8M2244 990h8M1504 719h8M596 1034h8M2333 729h8M2194 715h8M1067 692h8M2829 733h8M2495 724h8M2799 1021h8M1840 723h8M2234 682h8M1070 955h8M1956 711h8M2671 714h8M2042 722h8M2527 729h8M1765 706h8M1884 952h8M2299 999h8M2806 974h8M748 1010h8M1557 700h8M754 694h8M853 1006h8M2739 664h8M998 730h8M2314 957h8M2525 973h8M2471 702h8M1553 1019h8M1193 671h8M866 976h8M1413 961h8M1967 993h8M1233 728h8M1359 643h8M583 1000h8M1395 690h8M2525 682h8M654 955h8M2368 981h8M1807 699h8M549 975h8M1742 990h8M973 713h8M578 724h8M1647 958h8M2419 1060h8M1938 702h8M1123 696h8M940 990h8M2493 659h8M1919 1000h8M891 732h8M1596 973h8M657 715h8M2364 976h8M1973 961h8M1828 952h8M575 713h8M2006 990h8M2699 723h8M2225 963h8M587 970h8M1421 969h8M2219 723h8M2628 718h8M1200 663h8M824 711h8M1288 698h8M873 723h8M747 1012h8M1332 720h8M994 1013h8M1543 721h8M1183 691h8M1708 988h8M1728 961h8M1372 966h8M1239 997h8M1690 733h8M1149 961h8M594 1009h8M2327 1009h8M2091 952h8M2190 974h8M587 954h8M2607 686h8M2784 697h8M632 701h8M1724 715h8M1714 955h8M2154 705h8M742 721h8M2310 967h8M1837 727h8M675 730h8M699 958h8M902 1001h8M2357 970h8M1715 1004h8M1445 661h8M1460 711h8M599 951h8M2483 967h8M2485 664h8M2797 725h8M599 1002h8M2152 625h8M2395 1016h8M1186 730h8M2253 710h8M901 954h8M1197 999h8M1866 990h8M1240 728h8M1174 730h8M1552 720h8M2240 971h8M1352 967h8M2180 975h8M1359 689h8M939 971h8M1132 976h8M2699 984h8M772 1024h8M2604 718h8M2061 994h8M575 705h8M982 976h8M1318 729h8M1275 968h8M2423 700h8M761 693h8M944 724h8M1240 967h8M1750 1000h8M1208 954h8M2417 959h8M525 680h8M1221 720h8M1383 709h8M1645 730h8M2273 974h8M2575 968h8M2755 719h8M1702 966h8M2104 1016h8M1208 720h8M1861 724h8M1178 718h8M2292 622h8M1475 620h8M2690 693h8M2540 727h8M1164 719h8M831 667h8M2652 718h8M2495 966h8M2687 955h8M834 968h8M2412 1005h8M644 1043h8M2805 714h8M957 714h8M2508 717h8M613 956h8M1170 706h8M810 951h8M1326 708h8M2005 710h8M1931 724h8M2411 728h8M1447 1032h8M2264 977h8M2317 727h8M742 719h8M2621 1008h8M714 731h8M1221 995h8M965 976h8M2577 1055h8M1438 978h8M2638 631h8M1880 995h8M1031 726h8M2547 975h8M1717 977h8M692 683h8M1738 684h8M1763 953h8M2837 964h8M2663 955h8M706 951h8M1913 731h8M2322 975h8M831 726h8M1803 958h8M1334 964h8M2112 720h8M1806 727h8M2442 999h8M978 725h8M733 973h8M2279 999h8M2066 975h8M1063 730h8M792 977h8M1149 968h8M1355 1001h8M1144 1042h8M1045 682h8M1780 732h8M617 713h8M2375 710h8M1704 711h8M2193 704h8M971 668h8M1309 687h8M1434 992h8M1039 1024h8M1480 644h8M2738 715h8M1438 632h8M2762 958h8M737 964h8M1768 1003h8M1852 680h8M2386 962h8M1028 724h8M1095 705h8M988 956h8M2579 988h8M2315 707h8M1444 984h8M2787 956h8M1560 730h8M2241 700h8M984 999h8M2666 960h8M2176 978h8M1061 726h8M1259 1004h8M1864 953h8M1869 725h8M694 647h8M2264 953h8M678 960h8M2719 720h8M2558 983h8M2837 963h8M1535 701h8M729 725h8M1762 955h8M2623 729h8M2238 954h8M2325 964h8M929 979h8M1096 954h8M1161 955h8M2108 715h8M813 954h8M523 682h8M1485 959h8M1664 706h8M2405 684h8M2812 732h8M1254 997h8M2373 691h8M2242 718h8M2651 970h8M610 709h8M1623 957h8M754 960h8M1629 955h8M2660 714h8M670 680h8M2438 966h8M1465 710h8M2011 968h8M741 965h8M1776 952h8M1005 961h8M923 956h8M1948 724h8M677 957h8M2764 709h8M1178 1021h8M1790 975h8M1495 1043h8M710 704h8M855 961h8M1901 952h8M998 972h8M1376 694h8M1976 1013h8M1301 996h8M2650 984h8M576 706h8M974 971h8M1864 698h8M1721 974h8M1747 717h8M563 967h8M2118 1008h8M2359 1010h8M2235 966h8M526 651h8M2120 977h8M715 997h8M1340 1001h8M1585 675h8M2509 714h8M771 716h8M1795 952h8M2342 998h8M2310 956h8M1663 692h8M1715 707h8M1647 677h8M568 663h8M2309 654h8M953 727h8M1302 978h8M2821 962h8M583 952h8M2211 972h8M654 971h8M694 730h8M1688 718h8M567 659h8M2706 711h8M548 967h8M894 1014h8M1201 964h8M1273 963h8M2617 728h8M2259 723h8M1633 729h8M560 961h8M1688 1008h8M854 685h8M1110 968h8M2236 683h8M2100 712h8M1354 666h8M1022 957h8M1687 686h8M882 967h8M2226 723h8M2148 965h8M1417 974h8M1426 975h8M2833 952h8M1914 953h8M870 667h8M2429 1066h8M2356 733h8M1256 973h8M2493 951h8M904 989h8M1088 965h8M2034 976h8M2821 709h8M2332 722h8M2518 974h8M2648 696h8M812 713h8M1630 990h8M2214 720h8M2129 952h8M1429 688h8M2064 717h8M1659 708h8M2394 708h8M1964 730h8M2324 1011h8M1760 963h8M1817 731h8M2689 987h8M2168 730h8M1899 1009h8M1712 727h8M1280 722h8M2458 1016h8M2272 958h8M1741 718h8M1075 1040h8M2687 683h8M824 723h8M1295 1006h8M1726 972h8M1258 966h8M2038 960h8M545 646h8M2057 1032h8M2320 722h8M1916 726h8M736 962h8M2408 702h8M1877 998h8M616 708h8M1452 690h8M2392 725h8M1601 1075h8M1674 731h8M1246 701h8M905 732h8M2406 729h8M1772 953h8M1521 728h8M625 979h8M1414 994h8M2227 963h8M2676 959h8M1187 1021h8M1520 709h8M848 968h8M1177 978h8M1776 978h8M770 693h8M1302 702h8M2473 718h8M640 725h8M1278 711h8M2672 645h8M712 705h8M1595 953h8M2356 986h8M1427 719h8M1625 1027h8M1005 957h8M2754 706h8M1568 989h8M801 689h8M2355 987h8M1360 678h8M906 733h8M1256 675h8M1298 648h8M2205 977h8M2657 961h8M1564 699h8M1217 727h8M1241 970h8M1637 718h8M2145 680h8M1753 690h8M1976 724h8M2041 960h8M543 982h8M990 677h8M1277 980h8M1384 1009h8M1214 722h8M1760 630h8M1264 953h8M1121 715h8M1348 708h8M613 694h8M2703 972h8M2273 716h8M2835 963h8M642 963h8M1847 965h8M540 959h8M2770 1009h8M2063 723h8M1160 989h8M1923 967h8M2780 966h8M2297 679h8M2174 733h8M2187 984h8M1377 952h8M1941 708h8M1235 966h8M578 671h8M764 956h8M1815 958h8M2485 653h8M1616 690h8M1405 685h8M1094 956h8M2381 1004h8M2141 1013h8M615 722h8M1538 970h8M677 972h8M2393 1019h8M2516 625h8M1911 956h8M1492 676h8M2267 963h8M1412 692h8M2466 695h8M1311 965h8M1248 719h8M2634 703h8M1484 961h8M2430 647h8M856 968h8M2365 976h8M540 731h8M1151 731h8M1816 682h8M1992 723h8M1562 1042h8M2092 698h8M2433 712h8M2182 713h8M1770 732h8M2064 679h8M782 732h8M1571 975h8M1363 710h8M1776 710h8M1756 689h8M1099 984h8M1185 712h8M2472 712h8M1167 719h8M534 716h8M764 634h8M759 966h8M1744 645h8M593 708h8M1832 698h8M930 1000h8M1573 729h8M2561 680h8M2389 689h8M869 676h8M1213 720h8M2801 958h8M1436 1009h8M2453 713h8M2250 713h8M2594 963h8M1293 693h8M1315 959h8M1623 970h8M1876 722h8M2097 724h8M609 1042h8M1537 671h8M2804 976h8M1355 726h8M2691 690h8M597 999h8M1134 720h8M1720 708h8M2148 731h8M1969 957h8M2515 998h8M1712 989h8M659 987h8M1162 963h8M707 728h8M764 997h8M1726 987h8M1575 731h8M574 727h8M825 975h8M1832 716h8M2005 705h8M2608 725h8M2469 726h8M2336 723h8M724 713h8M1032 953h8M826 952h8M2139 1005h8M1800 977h8M2700 1017h8M542 1028h8M2141 732h8M2570 726h8M2252 968h8M743 952h8M975 953h8M2304 1040h8M2783 691h8M1169 732h8M1173 655h8M1973 675h8M2509 723h8M2352 697h8M647 960h8M1121 1048h8M2557 635h8M1012 956h8M1288 965h8M2787 958h8M1973 713h8M1959 994h8M2571 960h8M1003 979h8M999 964h8M1286 965h8M963 732h8M2674 641h8M1238 959h8M2777 958h8M1996 727h8M743 975h8M2205 961h8M2299 984h8M589 1027h8M2503 964h8M736 960h8M2117 962h8M768 677h8M2429 987h8M625 713h8M2289 667h8M749 714h8M2489 697h8M2754 664h8M2637 965h8M1417 716h8M1955 974h8M2101 719h8M564 727h8M1707 960h8M1513 956h8M2818 717h8M1233 951h8M1614 963h8M683 691h8M2217 1027h8M1889 690h8M751 730h8M2120 995h8M581 965h8M2752 700h8M2414 690h8M1899 650h8M2435 702h8M1850 710h8M2530 730h8M1648 980h8M2152 956h8M693 1004h8M1430 724h8M1424 963h8M2393 621h8M2691 994h8M1486 703h8M2609 953h8M2511 983h8M2112 956h8M2595 985h8M1201 971h8M2803 730h8M1422 980h8M1413 702h8M1172 999h8M1705 953h8M720 957h8M1175 954h8M2789 957h8M922 963h8M1515 954h8M1386 731h8M2489 978h8M2559 725h8M2607 961h8M2282 956h8M2754 1045h8M1392 694h8M2677 697h8M2314 968h8M2672 699h8M1011 959h8M2541 707h8M2730 994h8M2783 972h8M692 719h8M2054 689h8M805 976h8M1005 717h8M1768 986h8M575 689h8M1804 713h8M2425 692h8M797 956h8M533 716h8M2505 714h8M1763 992h8M2481 665h8M1139 671h8M2755 964h8M966 707h8M1657 957h8M2754 693h8M1518 998h8M2151 712h8M1591 974h8M2711 966h8M824 722h8M2674 686h8M1570 1022h8M569 721h8M1292 698h8M1550 957h8M2042 653h8M989 955h8M1906 957h8M1812 1008h8M2769 720h8M532 701h8M2795 716h8M1853 729h8M1009 733h8M735 1001h8M2551 732h8M556 998h8M1940 723h8M1272 710h8M2831 732h8M2733 728h8M1171 726h8M1509 981h8M2412 974h8M2754 672h8M1054 964h8M2010 954h8M1417 712h8M1126 628h8M1073 967h8M746 974h8M554 955h8M763 726h8M1631 726h8M552 969h8M1195 719h8M1556 723h8M1133 965h8M1443 690h8M2835 710h8M929 679h8M1800 1001h8M1470 985h8M1414 967h8M606 718h8M898 1016h8M2419 955h8M540 680h8M1576 701h8M2652 719h8M2743 955h8M2594 954h8M1344 703h8M1194 703h8M2652 682h8M2329 997h8M2266 968h8M2401 714h8M992 969h8M2412 728h8M659 974h8M2348 993h8M2242 953h8M2488 983h8M2058 729h8M590 725h8M2724 988h8M2666 965h8M713 969h8M1664 1008h8M1244 718h8M1834 969h8M1345 955h8M2733 724h8M571 732h8M1957 679h8M978 709h8M1717 726h8M694 724h8M1391 728h8M2118 733h8M1621 731h8M2690 731h8M1971 963h8M1942 976h8M2829 711h8M2500 716h8M2792 716h8M2781 988h8M2090 963h8M1589 720h8M2287 985h8M670 700h8M1779 967h8M1542 1006h8M2198 718h8M545 731h8M2194 665h8M661 953h8M1209 976h8M2029 733h8M1038 702h8M921 702h8M977 966h8M2558 709h8M2761 959h8M2250 988h8M957 668h8M2851 992h8M1025 731h8M1154 972h8M1837 951h8M1941 666h8M1108 978h8M1692 1010h8M2500 717h8M2071 972h8M1852 1034h8M1651 730h8M927 630h8M2009 988h8M1999 951h8M871 696h8M1806 977h8M2516 724h8M1053 1029h8M2253 685h8M1140 1010h8M2793 726h8M681 988h8M1882 694h8M1461 985h8M1608 952h8M644 1007h8M1885 711h8M2076 952h8M608 1003h8M1532 698h8M729 966h8M868 709h8M903 684h8M1509 658h8M2673 1003h8M1048 712h8M1204 722h8M770 724h8M680 968h8M526 666h8M1464 987h8M2204 729h8M2612 717h8M969 609h8M1634 994h8M2576 992h8M2845 733h8M1732 648h8M2086 728h8M651 692h8M2654 693h8M1166 989h8M2787 958h8M1830 713h8M639 983h8M2420 712h8M2782 961h8M2667 722h8M1424 952h8M1055 1013h8M623 709h8M573 709h8M573 729h8M2600 955h8M1678 672h8M2683 959h8M1995 727h8M2700 956h8M1569 965h8M2469 971h8M2298 1053h8M1428 951h8M1039 1006h8M1389 664h8M963 954h8M800 722h8M694 712h8M1302 960h8M1700 717h8M2761 988h8M1189 708h8M2720 726h8M763 691h8M1982 957h8M1915 679h8M1314 1010h8M1279 719h8M1946 689h8M2624 728h8M1393 686h8M1447 975h8M1119 685h8M2381 978h8M858 979h8M1217 708h8M2579 1022h8M1660 730h8M2569 716h8M1347 715h8M2798 958h8M2159 957h8M1397 957h8M2073 695h8M2829 668h8M2497 721h8M1152 726h8"/>
</g>
<rect x="51.5" y="10.9" width="234.7" height="146.6" fill="none" stroke="#8a8a8a" stroke-width="0.7"/>
<text x="51.5" y="168.7" font-size="9.8" text-anchor="middle" fill="#111">0</text>
<line x1="98.44" y1="157.5" x2="98.44" y2="154.9" stroke="#8a8a8a" stroke-width="0.7"/>
<line x1="98.44" y1="10.9" x2="98.44" y2="13.5" stroke="#8a8a8a" stroke-width="0.7"/>
<text x="98.44" y="168.7" font-size="9.8" text-anchor="middle" fill="#111">1</text>
<line x1="145.38" y1="157.5" x2="145.38" y2="154.9" stroke="#8a8a8a" stroke-width="0.7"/>
<line x1="145.38" y1="10.9" x2="145.38" y2="13.5" stroke="#8a8a8a" stroke-width="0.7"/>
<text x="145.38" y="168.7" font-size="9.8" text-anchor="middle" fill="#111">2</text>
<line x1="192.32" y1="157.5" x2="192.32" y2="154.9" stroke="#8a8a8a" stroke-width="0.7"/>
<line x1="192.32" y1="10.9" x2="192.32" y2="13.5" stroke="#8a8a8a" stroke-width="0.7"/>
<text x="192.32" y="168.7" font-size="9.8" text-anchor="middle" fill="#111">3</text>
<line x1="239.26" y1="157.5" x2="239.26" y2="154.9" stroke="#8a8a8a" stroke-width="0.7"/>
<line x1="239.26" y1="10.9" x2="239.26" y2="13.5" stroke="#8a8a8a" stroke-width="0.7"/>
<text x="239.26" y="168.7" font-size="9.8" text-anchor="middle" fill="#111">4</text>
<text x="286.2" y="168.7" font-size="9.8" text-anchor="middle" fill="#111">5</text>
<text x="49.5" y="159.6" font-size="9.8" text-anchor="end" fill="#111">−400</text>
<line x1="51.5" y1="120.85" x2="54.1" y2="120.85" stroke="#8a8a8a" stroke-width="0.7"/>
<text x="49.5" y="123.95" font-size="9.8" text-anchor="end" fill="#111">−200</text>
<line x1="51.5" y1="84.2" x2="54.1" y2="84.2" stroke="#8a8a8a" stroke-width="0.7"/>
<text x="49.5" y="87.3" font-size="9.8" text-anchor="end" fill="#111">0</text>
<line x1="51.5" y1="47.55" x2="54.1" y2="47.55" stroke="#8a8a8a" stroke-width="0.7"/>
<text x="49.5" y="50.65" font-size="9.8" text-anchor="end" fill="#111">200</text>
<text x="49.5" y="14" font-size="9.8" text-anchor="end" fill="#111">400</text>
<text x="287.2" y="158.8" font-size="9.8" text-anchor="start" fill="#111">−2</text>
<line x1="286.2" y1="120.85" x2="283.6" y2="120.85" stroke="#8a8a8a" stroke-width="0.7"/>
<text x="287.2" y="124.15" font-size="9.8" text-anchor="start" fill="#111">−1</text>
<line x1="286.2" y1="84.2" x2="283.6" y2="84.2" stroke="#8a8a8a" stroke-width="0.7"/>
<text x="288.8" y="87.5" font-size="9.8" text-anchor="start" fill="#111">0</text>
<line x1="286.2" y1="47.55" x2="283.6" y2="47.55" stroke="#8a8a8a" stroke-width="0.7"/>
<text x="288.8" y="50.85" font-size="9.8" text-anchor="start" fill="#111">1</text>
<text x="288.8" y="16" font-size="9.8" text-anchor="start" fill="#111">2</text>
<text x="169.6" y="188" font-size="10.2" text-anchor="middle" fill="#111"><tspan font-style="italic">t</tspan> / (10<tspan dy="-5.2" dx="0.4" font-size="7.2">5</tspan><tspan dy="5.2" dx="0.3"> s)</tspan></text>
<g transform="rotate(-90)" fill="#111">
<text x="-129.8" y="13.5" font-size="10.2">(</text><text x="-126.2" y="13.5" font-size="9.38" font-style="italic">ν</text><text x="-119.84" y="5.3" font-size="6.8" stroke="#111" stroke-width="0.25">#1</text><text x="-121.04" y="14.1" font-size="7.7">C</text><text x="-115.48" y="16.4" font-size="5.2">2</text><text x="-112.59" y="14.1" font-size="7.7">H</text><text x="-107.03" y="16.4" font-size="5.2">2</text><text x="-102.23" y="13.5" font-size="10.2">−</text><text x="-94.78" y="13.5" font-size="9.38" font-style="italic">ν</text><text x="-88.41" y="5.3" font-size="6.8" stroke="#111" stroke-width="0.25">#2</text><text x="-89.61" y="14.1" font-size="7.7">C</text><text x="-84.05" y="16.4" font-size="5.2">2</text><text x="-81.16" y="14.1" font-size="7.7">H</text><text x="-75.6" y="16.4" font-size="5.2">2</text>
<text x="-72.51" y="13.5" font-size="10.2">)</text><text x="-69.11" y="13.5" font-size="10.2" xml:space="preserve"> / Hz</text>
</g>
<g transform="rotate(-90)" fill="#111">
<text x="-148.6" y="316.7" font-size="10.2">(</text><text x="-145" y="316.7" font-size="10.2" font-style="italic">y</text><text x="-138.6" y="308.5" font-size="6.8" stroke="#111" stroke-width="0.25">#1</text><text x="-139.8" y="317.3" font-size="7.7">C</text><text x="-134.24" y="319.6" font-size="5.2">2</text><text x="-131.35" y="317.3" font-size="7.7">H</text><text x="-125.79" y="319.6" font-size="5.2">2</text><text x="-121" y="316.7" font-size="10.2">−</text><text x="-113.25" y="316.7" font-size="10.2" font-style="italic">y</text><text x="-106.85" y="308.5" font-size="6.8" stroke="#111" stroke-width="0.25">#2</text><text x="-108.05" y="317.3" font-size="7.7">C</text><text x="-102.49" y="319.6" font-size="5.2">2</text><text x="-99.59" y="317.3" font-size="7.7">H</text><text x="-94.04" y="319.6" font-size="5.2">2</text>
<text x="-91.54" y="316.7" font-size="10.2">)</text><text x="-88.65" y="316.7" font-size="10.2" xml:space="preserve"> / (10<tspan dy="-7.8" font-size="6.8">−12</tspan><tspan dy="7.8"> Hz/Hz)</tspan></text>
</g>
<!-- panel b -->
<text x="22.6" y="209.2" font-size="15" text-anchor="start" fill="#111">(b)</text>
<line x1="114.65" y1="201.7" x2="114.65" y2="402.1" stroke="#c6c6c6" stroke-width="0.5"/>
<line x1="151.65" y1="201.7" x2="151.65" y2="402.1" stroke="#c6c6c6" stroke-width="0.5"/>
<line x1="188.65" y1="201.7" x2="188.65" y2="402.1" stroke="#c6c6c6" stroke-width="0.5"/>
<line x1="225.65" y1="201.7" x2="225.65" y2="402.1" stroke="#c6c6c6" stroke-width="0.5"/>
<line x1="262.65" y1="201.7" x2="262.65" y2="402.1" stroke="#c6c6c6" stroke-width="0.5"/>
<line x1="75.4" y1="365.5" x2="276.4" y2="365.5" stroke="#c6c6c6" stroke-width="0.5"/>
<line x1="75.4" y1="330.35" x2="276.4" y2="330.35" stroke="#c6c6c6" stroke-width="0.5"/>
<line x1="75.4" y1="295.2" x2="276.4" y2="295.2" stroke="#c6c6c6" stroke-width="0.5"/>
<line x1="75.4" y1="260.05" x2="276.4" y2="260.05" stroke="#c6c6c6" stroke-width="0.5"/>
<line x1="75.4" y1="224.9" x2="276.4" y2="224.9" stroke="#c6c6c6" stroke-width="0.5"/>
<path d="M77.65 402.1v-4.4M77.65 201.7v4.4M88.79 402.1v-2.1M88.79 201.7v2.1M95.3 402.1v-2.1M95.3 201.7v2.1M99.93 402.1v-2.1M99.93 201.7v2.1M103.51 402.1v-2.1M103.51 201.7v2.1M106.44 402.1v-2.1M106.44 201.7v2.1M108.92 402.1v-2.1M108.92 201.7v2.1M111.06 402.1v-2.1M111.06 201.7v2.1M112.96 402.1v-2.1M112.96 201.7v2.1M114.65 402.1v-4.4M114.65 201.7v4.4M125.79 402.1v-2.1M125.79 201.7v2.1M132.3 402.1v-2.1M132.3 201.7v2.1M136.93 402.1v-2.1M136.93 201.7v2.1M140.51 402.1v-2.1M140.51 201.7v2.1M143.44 402.1v-2.1M143.44 201.7v2.1M145.92 402.1v-2.1M145.92 201.7v2.1M148.06 402.1v-2.1M148.06 201.7v2.1M149.96 402.1v-2.1M149.96 201.7v2.1M151.65 402.1v-4.4M151.65 201.7v4.4M162.79 402.1v-2.1M162.79 201.7v2.1M169.3 402.1v-2.1M169.3 201.7v2.1M173.93 402.1v-2.1M173.93 201.7v2.1M177.51 402.1v-2.1M177.51 201.7v2.1M180.44 402.1v-2.1M180.44 201.7v2.1M182.92 402.1v-2.1M182.92 201.7v2.1M185.06 402.1v-2.1M185.06 201.7v2.1M186.96 402.1v-2.1M186.96 201.7v2.1M188.65 402.1v-4.4M188.65 201.7v4.4M199.79 402.1v-2.1M199.79 201.7v2.1M206.3 402.1v-2.1M206.3 201.7v2.1M210.93 402.1v-2.1M210.93 201.7v2.1M214.51 402.1v-2.1M214.51 201.7v2.1M217.44 402.1v-2.1M217.44 201.7v2.1M219.92 402.1v-2.1M219.92 201.7v2.1M222.06 402.1v-2.1M222.06 201.7v2.1M223.96 402.1v-2.1M223.96 201.7v2.1M225.65 402.1v-4.4M225.65 201.7v4.4M236.79 402.1v-2.1M236.79 201.7v2.1M243.3 402.1v-2.1M243.3 201.7v2.1M247.93 402.1v-2.1M247.93 201.7v2.1M251.51 402.1v-2.1M251.51 201.7v2.1M254.44 402.1v-2.1M254.44 201.7v2.1M256.92 402.1v-2.1M256.92 201.7v2.1M259.06 402.1v-2.1M259.06 201.7v2.1M260.96 402.1v-2.1M260.96 201.7v2.1M262.65 402.1v-4.4M262.65 201.7v4.4M273.79 402.1v-2.1M273.79 201.7v2.1M75.4 400.65h4.4M276.4 400.65h-4.4M75.4 390.07h2.1M276.4 390.07h-2.1M75.4 383.88h2.1M276.4 383.88h-2.1M75.4 379.49h2.1M276.4 379.49h-2.1M75.4 376.08h2.1M276.4 376.08h-2.1M75.4 373.3h2.1M276.4 373.3h-2.1M75.4 370.94h2.1M276.4 370.94h-2.1M75.4 368.91h2.1M276.4 368.91h-2.1M75.4 367.11h2.1M276.4 367.11h-2.1M75.4 365.5h4.4M276.4 365.5h-4.4M75.4 354.92h2.1M276.4 354.92h-2.1M75.4 348.73h2.1M276.4 348.73h-2.1M75.4 344.34h2.1M276.4 344.34h-2.1M75.4 340.93h2.1M276.4 340.93h-2.1M75.4 338.15h2.1M276.4 338.15h-2.1M75.4 335.79h2.1M276.4 335.79h-2.1M75.4 333.76h2.1M276.4 333.76h-2.1M75.4 331.96h2.1M276.4 331.96h-2.1M75.4 330.35h4.4M276.4 330.35h-4.4M75.4 319.77h2.1M276.4 319.77h-2.1M75.4 313.58h2.1M276.4 313.58h-2.1M75.4 309.19h2.1M276.4 309.19h-2.1M75.4 305.78h2.1M276.4 305.78h-2.1M75.4 303h2.1M276.4 303h-2.1M75.4 300.64h2.1M276.4 300.64h-2.1M75.4 298.61h2.1M276.4 298.61h-2.1M75.4 296.81h2.1M276.4 296.81h-2.1M75.4 295.2h4.4M276.4 295.2h-4.4M75.4 284.62h2.1M276.4 284.62h-2.1M75.4 278.43h2.1M276.4 278.43h-2.1M75.4 274.04h2.1M276.4 274.04h-2.1M75.4 270.63h2.1M276.4 270.63h-2.1M75.4 267.85h2.1M276.4 267.85h-2.1M75.4 265.49h2.1M276.4 265.49h-2.1M75.4 263.46h2.1M276.4 263.46h-2.1M75.4 261.66h2.1M276.4 261.66h-2.1M75.4 260.05h4.4M276.4 260.05h-4.4M75.4 249.47h2.1M276.4 249.47h-2.1M75.4 243.28h2.1M276.4 243.28h-2.1M75.4 238.89h2.1M276.4 238.89h-2.1M75.4 235.48h2.1M276.4 235.48h-2.1M75.4 232.7h2.1M276.4 232.7h-2.1M75.4 230.34h2.1M276.4 230.34h-2.1M75.4 228.31h2.1M276.4 228.31h-2.1M75.4 226.51h2.1M276.4 226.51h-2.1M75.4 224.9h4.4M276.4 224.9h-4.4M75.4 214.32h2.1M276.4 214.32h-2.1M75.4 208.13h2.1M276.4 208.13h-2.1M75.4 203.74h2.1M276.4 203.74h-2.1" stroke="#222" stroke-width="0.7" fill="none"/>
<rect x="75.4" y="201.7" width="201" height="200.4" fill="none" stroke="#222" stroke-width="0.8"/>
<text x="69.85" y="422" font-size="10.7" fill="#111">10<tspan dy="-6.3" dx="0.2" font-size="7.9">0</tspan></text>
<text x="106.85" y="422" font-size="10.7" fill="#111">10<tspan dy="-6.3" dx="0.2" font-size="7.9">1</tspan></text>
<text x="143.85" y="422" font-size="10.7" fill="#111">10<tspan dy="-6.3" dx="0.2" font-size="7.9">2</tspan></text>
<text x="180.85" y="422" font-size="10.7" fill="#111">10<tspan dy="-6.3" dx="0.2" font-size="7.9">3</tspan></text>
<text x="217.85" y="422" font-size="10.7" fill="#111">10<tspan dy="-6.3" dx="0.2" font-size="7.9">4</tspan></text>
<text x="254.85" y="422" font-size="10.7" fill="#111">10<tspan dy="-6.3" dx="0.2" font-size="7.9">5</tspan></text>
<text x="45.4" y="406.45" font-size="10.7" fill="#111">10<tspan dy="-6.3" dx="0.2" font-size="7.9">−18</tspan></text>
<text x="45.4" y="371.3" font-size="10.7" fill="#111">10<tspan dy="-6.3" dx="0.2" font-size="7.9">−17</tspan></text>
<text x="45.4" y="336.15" font-size="10.7" fill="#111">10<tspan dy="-6.3" dx="0.2" font-size="7.9">−16</tspan></text>
<text x="45.4" y="301" font-size="10.7" fill="#111">10<tspan dy="-6.3" dx="0.2" font-size="7.9">−15</tspan></text>
<text x="45.4" y="265.85" font-size="10.7" fill="#111">10<tspan dy="-6.3" dx="0.2" font-size="7.9">−14</tspan></text>
<text x="45.4" y="230.7" font-size="10.7" fill="#111">10<tspan dy="-6.3" dx="0.2" font-size="7.9">−13</tspan></text>
<text x="176.2" y="435.2" font-size="10.7" text-anchor="middle" fill="#111"><tspan font-style="italic">τ</tspan> / s</text>
<g transform="rotate(-90)" fill="#111"><text x="-301.8" y="33" font-size="11.2" text-anchor="middle"><tspan font-style="italic">σ</tspan><tspan dy="2.6" font-size="8" font-style="italic">y</tspan><tspan dy="-2.6"> / (Hz/Hz)</tspan></text></g>
<g stroke="#ff1cd8" fill="#ff1cd8">
<polyline fill="none" stroke-width="0.9" points="77.6,214.2 88.8,229.4 100,245.4 111,261.1 122,276.2 133.2,290.7 144.4,302.4 155.4,313.1 166.6,324.1 177.8,334.8 189,342.6 200,346.2 211.2,350 222.1,353.2 233.4,356.4 244.6,369.9 255.6,388.1 262.7,385.4"/>
<path fill="none" stroke-width="0.9" d="M244.6 367V372.6M242.4 367h4.4M242.4 372.6h4.4M255.6 381.3V391M253.4 381.3h4.4M253.4 391h4.4M262.7 375.4V389.6M260.5 375.4h4.4M260.5 389.6h4.4"/>
<rect x="75.55" y="212.15" width="4.1" height="4.1" stroke="none"/><rect x="86.75" y="227.35" width="4.1" height="4.1" stroke="none"/><rect x="97.95" y="243.35" width="4.1" height="4.1" stroke="none"/><rect x="108.95" y="259.05" width="4.1" height="4.1" stroke="none"/><rect x="119.95" y="274.15" width="4.1" height="4.1" stroke="none"/><rect x="131.15" y="288.65" width="4.1" height="4.1" stroke="none"/><rect x="142.35" y="300.35" width="4.1" height="4.1" stroke="none"/><rect x="153.35" y="311.05" width="4.1" height="4.1" stroke="none"/><rect x="164.55" y="322.05" width="4.1" height="4.1" stroke="none"/><rect x="175.75" y="332.75" width="4.1" height="4.1" stroke="none"/><rect x="186.95" y="340.55" width="4.1" height="4.1" stroke="none"/><rect x="197.95" y="344.15" width="4.1" height="4.1" stroke="none"/><rect x="209.15" y="347.95" width="4.1" height="4.1" stroke="none"/><rect x="220.05" y="351.15" width="4.1" height="4.1" stroke="none"/><rect x="231.35" y="354.35" width="4.1" height="4.1" stroke="none"/><rect x="242.55" y="367.85" width="4.1" height="4.1" stroke="none"/><rect x="253.55" y="386.05" width="4.1" height="4.1" stroke="none"/><rect x="260.65" y="383.35" width="4.1" height="4.1" stroke="none"/>
</g>
<g stroke="#ff1616" fill="#ff1616">
<polyline fill="none" stroke-width="0.9" points="77.6,214.2 88.9,224.4 100,235.1 111,245.4 121.9,256.1 133.3,266.3 144.4,277 155.4,287.2 166.6,297.7 177.8,308.2 189,318.6 200,328.4 211.2,336.6 222.1,343.8 233.4,347.9 244.6,360.4 255.6,366.2 262.7,382.6"/>
<path fill="none" stroke-width="0.9" d="M233.4 345.3V351.2M231.2 345.3h4.4M231.2 351.2h4.4M244.6 354.3V363.6M242.4 354.3h4.4M242.4 363.6h4.4M255.6 357V369.8M253.4 357h4.4M253.4 369.8h4.4M262.7 370.9V389.3M260.5 370.9h4.4M260.5 389.3h4.4"/>
<circle cx="77.6" cy="214.2" r="2.3" stroke="none"/><circle cx="88.9" cy="224.4" r="2.3" stroke="none"/><circle cx="100" cy="235.1" r="2.3" stroke="none"/><circle cx="111" cy="245.4" r="2.3" stroke="none"/><circle cx="121.9" cy="256.1" r="2.3" stroke="none"/><circle cx="133.3" cy="266.3" r="2.3" stroke="none"/><circle cx="144.4" cy="277" r="2.3" stroke="none"/><circle cx="155.4" cy="287.2" r="2.3" stroke="none"/><circle cx="166.6" cy="297.7" r="2.3" stroke="none"/><circle cx="177.8" cy="308.2" r="2.3" stroke="none"/><circle cx="189" cy="318.6" r="2.3" stroke="none"/><circle cx="200" cy="328.4" r="2.3" stroke="none"/><circle cx="211.2" cy="336.6" r="2.3" stroke="none"/><circle cx="222.1" cy="343.8" r="2.3" stroke="none"/><circle cx="233.4" cy="347.9" r="2.3" stroke="none"/><circle cx="244.6" cy="360.4" r="2.3" stroke="none"/><circle cx="255.6" cy="366.2" r="2.3" stroke="none"/><circle cx="262.7" cy="382.6" r="2.3" stroke="none"/>
</g>
<text x="174.6" y="297" font-size="9.35" text-anchor="start" fill="#ff1616" style="stroke:#ff1616">Allan deviation</text>
<text x="118.3" y="359.4" font-size="9.35" text-anchor="start" fill="#ff1cd8" style="stroke:#ff1cd8">Modified Allan deviation</text>
<!-- panel c -->
<text x="1.4" y="450.6" font-size="14.4" text-anchor="start" fill="#111">(c)</text>
<rect x="49.7" y="491.99" width="245.85" height="77.2" fill="#7ffcfc"/>
<line x1="49.7" y1="530.59" x2="295.56" y2="530.59" stroke="#e02a2a" stroke-width="0.9"/>
<rect x="47.9" y="448.7" width="250.2" height="157.7" fill="none" stroke="#8a8a8a" stroke-width="0.7"/>
<line x1="57.9" y1="606.4" x2="57.9" y2="603.8" stroke="#8a8a8a" stroke-width="0.7"/>
<line x1="57.9" y1="448.7" x2="57.9" y2="451.3" stroke="#8a8a8a" stroke-width="0.7"/>
<text x="57.9" y="616.8" font-size="9.8" text-anchor="middle" fill="#111">1</text>
<line x1="74.29" y1="606.4" x2="74.29" y2="603.8" stroke="#8a8a8a" stroke-width="0.7"/>
<line x1="74.29" y1="448.7" x2="74.29" y2="451.3" stroke="#8a8a8a" stroke-width="0.7"/>
<text x="74.29" y="616.8" font-size="9.8" text-anchor="middle" fill="#111">2</text>
<line x1="90.68" y1="606.4" x2="90.68" y2="603.8" stroke="#8a8a8a" stroke-width="0.7"/>
<line x1="90.68" y1="448.7" x2="90.68" y2="451.3" stroke="#8a8a8a" stroke-width="0.7"/>
<text x="90.68" y="616.8" font-size="9.8" text-anchor="middle" fill="#111">3</text>
<line x1="107.07" y1="606.4" x2="107.07" y2="603.8" stroke="#8a8a8a" stroke-width="0.7"/>
<line x1="107.07" y1="448.7" x2="107.07" y2="451.3" stroke="#8a8a8a" stroke-width="0.7"/>
<text x="107.07" y="616.8" font-size="9.8" text-anchor="middle" fill="#111">4</text>
<line x1="123.46" y1="606.4" x2="123.46" y2="603.8" stroke="#8a8a8a" stroke-width="0.7"/>
<line x1="123.46" y1="448.7" x2="123.46" y2="451.3" stroke="#8a8a8a" stroke-width="0.7"/>
<text x="123.46" y="616.8" font-size="9.8" text-anchor="middle" fill="#111">5</text>
<line x1="139.85" y1="606.4" x2="139.85" y2="603.8" stroke="#8a8a8a" stroke-width="0.7"/>
<line x1="139.85" y1="448.7" x2="139.85" y2="451.3" stroke="#8a8a8a" stroke-width="0.7"/>
<text x="139.85" y="616.8" font-size="9.8" text-anchor="middle" fill="#111">6</text>
<line x1="156.24" y1="606.4" x2="156.24" y2="603.8" stroke="#8a8a8a" stroke-width="0.7"/>
<line x1="156.24" y1="448.7" x2="156.24" y2="451.3" stroke="#8a8a8a" stroke-width="0.7"/>
<text x="156.24" y="616.8" font-size="9.8" text-anchor="middle" fill="#111">7</text>
<line x1="172.63" y1="606.4" x2="172.63" y2="603.8" stroke="#8a8a8a" stroke-width="0.7"/>
<line x1="172.63" y1="448.7" x2="172.63" y2="451.3" stroke="#8a8a8a" stroke-width="0.7"/>
<text x="172.63" y="616.8" font-size="9.8" text-anchor="middle" fill="#111">8</text>
<line x1="189.02" y1="606.4" x2="189.02" y2="603.8" stroke="#8a8a8a" stroke-width="0.7"/>
<line x1="189.02" y1="448.7" x2="189.02" y2="451.3" stroke="#8a8a8a" stroke-width="0.7"/>
<text x="189.02" y="616.8" font-size="9.8" text-anchor="middle" fill="#111">9</text>
<line x1="205.41" y1="606.4" x2="205.41" y2="603.8" stroke="#8a8a8a" stroke-width="0.7"/>
<line x1="205.41" y1="448.7" x2="205.41" y2="451.3" stroke="#8a8a8a" stroke-width="0.7"/>
<text x="205.41" y="616.8" font-size="9.8" text-anchor="middle" fill="#111">10</text>
<line x1="221.8" y1="606.4" x2="221.8" y2="603.8" stroke="#8a8a8a" stroke-width="0.7"/>
<line x1="221.8" y1="448.7" x2="221.8" y2="451.3" stroke="#8a8a8a" stroke-width="0.7"/>
<text x="221.8" y="616.8" font-size="9.8" text-anchor="middle" fill="#111">11</text>
<line x1="238.19" y1="606.4" x2="238.19" y2="603.8" stroke="#8a8a8a" stroke-width="0.7"/>
<line x1="238.19" y1="448.7" x2="238.19" y2="451.3" stroke="#8a8a8a" stroke-width="0.7"/>
<text x="238.19" y="616.8" font-size="9.8" text-anchor="middle" fill="#111">12</text>
<line x1="254.58" y1="606.4" x2="254.58" y2="603.8" stroke="#8a8a8a" stroke-width="0.7"/>
<line x1="254.58" y1="448.7" x2="254.58" y2="451.3" stroke="#8a8a8a" stroke-width="0.7"/>
<text x="254.58" y="616.8" font-size="9.8" text-anchor="middle" fill="#111">13</text>
<line x1="270.97" y1="606.4" x2="270.97" y2="603.8" stroke="#8a8a8a" stroke-width="0.7"/>
<line x1="270.97" y1="448.7" x2="270.97" y2="451.3" stroke="#8a8a8a" stroke-width="0.7"/>
<text x="270.97" y="616.8" font-size="9.8" text-anchor="middle" fill="#111">14</text>
<line x1="287.36" y1="606.4" x2="287.36" y2="603.8" stroke="#8a8a8a" stroke-width="0.7"/>
<line x1="287.36" y1="448.7" x2="287.36" y2="451.3" stroke="#8a8a8a" stroke-width="0.7"/>
<text x="287.36" y="616.8" font-size="9.8" text-anchor="middle" fill="#111">15</text>
<line x1="47.9" y1="604.7" x2="50.5" y2="604.7" stroke="#8a8a8a" stroke-width="0.7"/>
<line x1="298.1" y1="604.7" x2="295.5" y2="604.7" stroke="#8a8a8a" stroke-width="0.7"/>
<text x="45.9" y="607.4" font-size="9.8" text-anchor="end" fill="#111">−10</text>
<line x1="47.9" y1="566.1" x2="50.5" y2="566.1" stroke="#8a8a8a" stroke-width="0.7"/>
<line x1="298.1" y1="566.1" x2="295.5" y2="566.1" stroke="#8a8a8a" stroke-width="0.7"/>
<text x="45.9" y="568.8" font-size="9.8" text-anchor="end" fill="#111">−5</text>
<line x1="47.9" y1="527.5" x2="50.5" y2="527.5" stroke="#8a8a8a" stroke-width="0.7"/>
<line x1="298.1" y1="527.5" x2="295.5" y2="527.5" stroke="#8a8a8a" stroke-width="0.7"/>
<text x="45.9" y="530.2" font-size="9.8" text-anchor="end" fill="#111">0</text>
<line x1="47.9" y1="488.9" x2="50.5" y2="488.9" stroke="#8a8a8a" stroke-width="0.7"/>
<line x1="298.1" y1="488.9" x2="295.5" y2="488.9" stroke="#8a8a8a" stroke-width="0.7"/>
<text x="45.9" y="491.6" font-size="9.8" text-anchor="end" fill="#111">5</text>
<line x1="47.9" y1="450.3" x2="50.5" y2="450.3" stroke="#8a8a8a" stroke-width="0.7"/>
<line x1="298.1" y1="450.3" x2="295.5" y2="450.3" stroke="#8a8a8a" stroke-width="0.7"/>
<text x="45.9" y="453" font-size="9.8" text-anchor="end" fill="#111">10</text>
<g fill="#ff1616"><circle cx="58.1" cy="524.1" r="1.9"/><circle cx="74.6" cy="556.5" r="1.9"/><circle cx="90.8" cy="557.1" r="1.9"/><circle cx="107.3" cy="533.8" r="1.9"/><circle cx="123.5" cy="477.1" r="1.9"/><circle cx="140" cy="585.5" r="1.9"/><circle cx="156.5" cy="483.6" r="1.9"/><circle cx="172.7" cy="588.6" r="1.9"/><circle cx="189.2" cy="563.7" r="1.9"/><circle cx="205.4" cy="463.7" r="1.9"/><circle cx="221.6" cy="513.8" r="1.9"/><circle cx="238.1" cy="550.6" r="1.9"/><circle cx="254.6" cy="498.6" r="1.9"/><circle cx="270.8" cy="539.4" r="1.9"/><circle cx="287.4" cy="517.9" r="1.9"/></g>
<text x="119.8" y="519.2" font-size="8.65" fill="#dc2222" style="stroke:#dc2222;stroke-width:0.15px">Mean: −0.4 (5.0) × 10<tspan dy="-5.7" dx="0.2" font-size="6.1">−18</tspan></text>
<path d="M131.6 520.2V526.6" stroke="#dc2222" stroke-width="0.6" fill="none"/><path d="M130.4 525.6L131.6 528.2L132.8 525.6Z" fill="#dc2222"/>
<text x="56.7" y="547.9" font-size="7.9" text-anchor="start" fill="#111" style="stroke-width:0.12px">Standard deviation</text>
<path d="M54.6 532.6V566.6" stroke="#111" stroke-width="0.6" fill="none"/><path d="M53.3 534L54.6 531.1L55.9 534ZM53.3 565.2L54.6 568.1L55.9 565.2Z" fill="#111"/>
<text x="172.5" y="637.6" font-size="10.2" text-anchor="middle" fill="#111">Data number (10<tspan dy="-5.4" dx="0.5" font-size="7.4">5</tspan><tspan dy="5.4" dx="0.4"> s averaging per point)</tspan></text>
<g transform="rotate(-90)" fill="#111">
<text x="-594.2" y="13.9" font-size="10.51">(</text><text x="-590.5" y="13.9" font-size="10.51" font-style="italic">y</text><text x="-583.95" y="5.7" font-size="6.8" stroke="#111" stroke-width="0.25">#1</text><text x="-585.15" y="14.5" font-size="7.93">C</text><text x="-579.42" y="16.8" font-size="5.36">2</text><text x="-576.44" y="14.5" font-size="7.93">H</text><text x="-570.72" y="16.8" font-size="5.36">2</text><text x="-565.84" y="13.9" font-size="10.51">−</text><text x="-557.9" y="13.9" font-size="10.51" font-style="italic">y</text><text x="-551.35" y="5.7" font-size="6.8" stroke="#111" stroke-width="0.25">#2</text><text x="-552.55" y="14.5" font-size="7.93">C</text><text x="-546.83" y="16.8" font-size="5.36">2</text><text x="-543.85" y="14.5" font-size="7.93">H</text><text x="-538.12" y="16.8" font-size="5.36">2</text>
<text x="-535.24" y="13.9" font-size="10.51">)</text><text x="-532.05" y="13.9" font-size="10.51" xml:space="preserve"> / (10<tspan dy="-7.8" font-size="6.9">−18</tspan><tspan dy="7.8"> Hz/Hz)</tspan></text>
</g>
</svg>
</body></html>
